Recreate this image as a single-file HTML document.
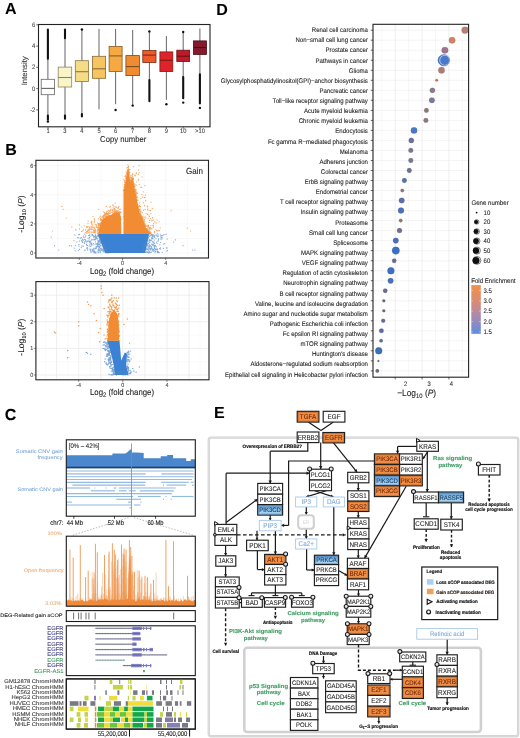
<!DOCTYPE html>
<html><head><meta charset="utf-8"><title>Figure</title>
<style>html,body{margin:0;padding:0;background:#fff;} svg{display:block;} text{text-rendering:geometricPrecision;}</style></head>
<body><svg width="520" height="738" viewBox="0 0 520 738" font-family="Liberation Sans, Arial, sans-serif">
<rect width="520" height="738" fill="#fff"/>
<text x="5.0" y="13.8" font-size="16" font-weight="bold" font-family="Liberation Sans, Arial, sans-serif" stroke="#000" stroke-width="0.06">A</text>
<rect x="38.5" y="24.5" width="171.5" height="102.3" fill="none" stroke="#222" stroke-width="1.1"/>
<line x1="36.2" y1="24.8" x2="38.5" y2="24.8" stroke="#333" stroke-width="0.7"/>
<text x="0" y="0" font-size="5.8" fill="#444" text-anchor="end" font-family="Liberation Sans, Arial, sans-serif" stroke="#444" stroke-width="0.08" transform="translate(35.30 26.90) scale(1 1.1)">6</text>
<line x1="36.2" y1="46.1" x2="38.5" y2="46.1" stroke="#333" stroke-width="0.7"/>
<text x="0" y="0" font-size="5.8" fill="#444" text-anchor="end" font-family="Liberation Sans, Arial, sans-serif" stroke="#444" stroke-width="0.08" transform="translate(35.30 48.20) scale(1 1.1)">4</text>
<line x1="36.2" y1="67.3" x2="38.5" y2="67.3" stroke="#333" stroke-width="0.7"/>
<text x="0" y="0" font-size="5.8" fill="#444" text-anchor="end" font-family="Liberation Sans, Arial, sans-serif" stroke="#444" stroke-width="0.08" transform="translate(35.30 69.40) scale(1 1.1)">2</text>
<line x1="36.2" y1="88.6" x2="38.5" y2="88.6" stroke="#333" stroke-width="0.7"/>
<text x="0" y="0" font-size="5.8" fill="#444" text-anchor="end" font-family="Liberation Sans, Arial, sans-serif" stroke="#444" stroke-width="0.08" transform="translate(35.30 90.70) scale(1 1.1)">0</text>
<line x1="36.2" y1="109.9" x2="38.5" y2="109.9" stroke="#333" stroke-width="0.7"/>
<text x="0" y="0" font-size="5.8" fill="#444" text-anchor="end" font-family="Liberation Sans, Arial, sans-serif" stroke="#444" stroke-width="0.08" transform="translate(35.30 112.00) scale(1 1.1)">-2</text>
<text transform="translate(27.0,70.8) rotate(-90)" font-size="7.8" fill="#333" text-anchor="middle" font-family="Liberation Sans, Arial, sans-serif" stroke="#333" stroke-width="0.08">Intensity</text>
<line x1="48.0" y1="126.8" x2="48.0" y2="128.8" stroke="#333" stroke-width="0.7"/>
<text x="0" y="0" font-size="5.8" fill="#444" text-anchor="middle" font-family="Liberation Sans, Arial, sans-serif" stroke="#444" stroke-width="0.08" transform="translate(48.00 133.10) scale(1 1.1)">1</text>
<line x1="64.9" y1="126.8" x2="64.9" y2="128.8" stroke="#333" stroke-width="0.7"/>
<text x="0" y="0" font-size="5.8" fill="#444" text-anchor="middle" font-family="Liberation Sans, Arial, sans-serif" stroke="#444" stroke-width="0.08" transform="translate(64.90 133.10) scale(1 1.1)">3</text>
<line x1="81.9" y1="126.8" x2="81.9" y2="128.8" stroke="#333" stroke-width="0.7"/>
<text x="0" y="0" font-size="5.8" fill="#444" text-anchor="middle" font-family="Liberation Sans, Arial, sans-serif" stroke="#444" stroke-width="0.08" transform="translate(81.90 133.10) scale(1 1.1)">4</text>
<line x1="99.0" y1="126.8" x2="99.0" y2="128.8" stroke="#333" stroke-width="0.7"/>
<text x="0" y="0" font-size="5.8" fill="#444" text-anchor="middle" font-family="Liberation Sans, Arial, sans-serif" stroke="#444" stroke-width="0.08" transform="translate(99.00 133.10) scale(1 1.1)">5</text>
<line x1="115.6" y1="126.8" x2="115.6" y2="128.8" stroke="#333" stroke-width="0.7"/>
<text x="0" y="0" font-size="5.8" fill="#444" text-anchor="middle" font-family="Liberation Sans, Arial, sans-serif" stroke="#444" stroke-width="0.08" transform="translate(115.60 133.10) scale(1 1.1)">6</text>
<line x1="132.6" y1="126.8" x2="132.6" y2="128.8" stroke="#333" stroke-width="0.7"/>
<text x="0" y="0" font-size="5.8" fill="#444" text-anchor="middle" font-family="Liberation Sans, Arial, sans-serif" stroke="#444" stroke-width="0.08" transform="translate(132.60 133.10) scale(1 1.1)">7</text>
<line x1="149.4" y1="126.8" x2="149.4" y2="128.8" stroke="#333" stroke-width="0.7"/>
<text x="0" y="0" font-size="5.8" fill="#444" text-anchor="middle" font-family="Liberation Sans, Arial, sans-serif" stroke="#444" stroke-width="0.08" transform="translate(149.40 133.10) scale(1 1.1)">8</text>
<line x1="166.3" y1="126.8" x2="166.3" y2="128.8" stroke="#333" stroke-width="0.7"/>
<text x="0" y="0" font-size="5.8" fill="#444" text-anchor="middle" font-family="Liberation Sans, Arial, sans-serif" stroke="#444" stroke-width="0.08" transform="translate(166.30 133.10) scale(1 1.1)">9</text>
<line x1="183.2" y1="126.8" x2="183.2" y2="128.8" stroke="#333" stroke-width="0.7"/>
<text x="0" y="0" font-size="5.8" fill="#444" text-anchor="middle" font-family="Liberation Sans, Arial, sans-serif" stroke="#444" stroke-width="0.08" transform="translate(183.20 133.10) scale(1 1.1)">10</text>
<line x1="200.0" y1="126.8" x2="200.0" y2="128.8" stroke="#333" stroke-width="0.7"/>
<text x="0" y="0" font-size="5.8" fill="#444" text-anchor="middle" font-family="Liberation Sans, Arial, sans-serif" stroke="#444" stroke-width="0.08" transform="translate(200.00 133.10) scale(1 1.1)">&gt;10</text>
<text x="0" y="0" font-size="7.7" fill="#222" text-anchor="middle" font-family="Liberation Sans, Arial, sans-serif" stroke="#222" stroke-width="0.08" transform="translate(123.20 141.90) scale(1 1.1)">Copy number</text>
<line x1="47.9" y1="58.8" x2="47.9" y2="115.2" stroke="#4a4a4a" stroke-width="0.85"/>
<rect x="41.2" y="79.3" width="13.3" height="15.4" fill="#ffffff" stroke="#666" stroke-width="0.8"/>
<line x1="41.2" y1="88.4" x2="54.5" y2="88.4" stroke="#666" stroke-width="1.1"/>
<line x1="47.9" y1="29.5" x2="47.9" y2="58.8" stroke="#111" stroke-width="2.1" stroke-linecap="round"/>
<line x1="47.9" y1="115.5" x2="47.9" y2="119.5" stroke="#111" stroke-width="2.1" stroke-linecap="round"/>
<circle cx="47.9" cy="121.5" r="1.2" fill="#111"/>
<line x1="65.0" y1="38.3" x2="65.0" y2="115.0" stroke="#4a4a4a" stroke-width="0.85"/>
<rect x="58.2" y="67.1" width="13.5" height="19.9" fill="#f9f5c9" stroke="#8a8660" stroke-width="0.8"/>
<line x1="58.2" y1="77.5" x2="71.7" y2="77.5" stroke="#8a8660" stroke-width="1.1"/>
<line x1="65.0" y1="29.5" x2="65.0" y2="38.3" stroke="#111" stroke-width="2.1" stroke-linecap="round"/>
<line x1="65.0" y1="115.5" x2="65.0" y2="118.8" stroke="#111" stroke-width="2.1" stroke-linecap="round"/>
<line x1="81.9" y1="30.0" x2="81.9" y2="113.7" stroke="#4a4a4a" stroke-width="0.85"/>
<rect x="75.3" y="60.7" width="13.2" height="20.8" fill="#f7dc88" stroke="#8a7a40" stroke-width="0.8"/>
<line x1="75.3" y1="71.7" x2="88.5" y2="71.7" stroke="#8a7a40" stroke-width="1.1"/>
<line x1="81.9" y1="114.0" x2="81.9" y2="116.5" stroke="#111" stroke-width="2.1" stroke-linecap="round"/>
<circle cx="81.9" cy="29.5" r="1.2" fill="#111"/>
<line x1="99.0" y1="29.0" x2="99.0" y2="109.3" stroke="#4a4a4a" stroke-width="0.85"/>
<rect x="92.5" y="56.3" width="13.1" height="22.0" fill="#f6c561" stroke="#8a6a30" stroke-width="0.8"/>
<line x1="92.5" y1="68.8" x2="105.6" y2="68.8" stroke="#8a6a30" stroke-width="1.1"/>
<line x1="115.6" y1="29.0" x2="115.6" y2="104.2" stroke="#4a4a4a" stroke-width="0.85"/>
<rect x="109.1" y="46.4" width="13.0" height="25.1" fill="#f5a942" stroke="#8a5a20" stroke-width="0.8"/>
<line x1="109.1" y1="55.9" x2="122.1" y2="55.9" stroke="#8a5a20" stroke-width="1.1"/>
<circle cx="115.6" cy="110.0" r="1.2" fill="#111"/>
<line x1="132.7" y1="30.0" x2="132.7" y2="105.0" stroke="#4a4a4a" stroke-width="0.85"/>
<rect x="125.9" y="55.6" width="13.5" height="20.0" fill="#f18b32" stroke="#7a4a1a" stroke-width="0.8"/>
<line x1="125.9" y1="66.6" x2="139.4" y2="66.6" stroke="#7a4a1a" stroke-width="1.1"/>
<circle cx="132.7" cy="105.6" r="1.2" fill="#111"/>
<line x1="149.4" y1="31.4" x2="149.4" y2="80.0" stroke="#4a4a4a" stroke-width="0.85"/>
<rect x="142.8" y="50.5" width="13.2" height="12.0" fill="#f0592a" stroke="#7a2a10" stroke-width="0.8"/>
<line x1="142.8" y1="55.1" x2="156.0" y2="55.1" stroke="#7a2a10" stroke-width="1.1"/>
<line x1="149.4" y1="80.0" x2="149.4" y2="101.3" stroke="#111" stroke-width="2.1" stroke-linecap="round"/>
<circle cx="149.4" cy="31.4" r="1.2" fill="#111"/>
<line x1="166.4" y1="36.1" x2="166.4" y2="99.8" stroke="#4a4a4a" stroke-width="0.85"/>
<rect x="159.9" y="51.9" width="12.9" height="19.6" fill="#e0232b" stroke="#7a1a10" stroke-width="0.8"/>
<line x1="159.9" y1="60.3" x2="172.8" y2="60.3" stroke="#7a1a10" stroke-width="1.1"/>
<circle cx="166.4" cy="104.2" r="1.2" fill="#111"/>
<line x1="183.2" y1="32.0" x2="183.2" y2="77.0" stroke="#4a4a4a" stroke-width="0.85"/>
<rect x="176.8" y="50.2" width="12.8" height="11.3" fill="#bf1a2c" stroke="#6a1010" stroke-width="0.8"/>
<line x1="176.8" y1="56.2" x2="189.6" y2="56.2" stroke="#6a1010" stroke-width="1.1"/>
<line x1="183.2" y1="77.0" x2="183.2" y2="98.2" stroke="#111" stroke-width="2.1" stroke-linecap="round"/>
<circle cx="183.2" cy="32.0" r="1.2" fill="#111"/>
<circle cx="183.2" cy="102.6" r="1.2" fill="#111"/>
<line x1="199.9" y1="28.5" x2="199.9" y2="74.4" stroke="#4a4a4a" stroke-width="0.85"/>
<rect x="193.5" y="40.9" width="12.9" height="13.5" fill="#861a2c" stroke="#4a0a10" stroke-width="0.8"/>
<line x1="193.5" y1="47.5" x2="206.4" y2="47.5" stroke="#4a0a10" stroke-width="1.1"/>
<line x1="199.9" y1="74.4" x2="199.9" y2="103.5" stroke="#111" stroke-width="2.1" stroke-linecap="round"/>
<circle cx="199.9" cy="107.9" r="1.2" fill="#111"/>
<text x="5.2" y="154.6" font-size="16" font-weight="bold" font-family="Liberation Sans, Arial, sans-serif" stroke="#000" stroke-width="0.06">B</text>
<rect x="35.9" y="160.3" width="172.6" height="97.69999999999999" fill="#fff"/>
<line x1="57.7" y1="160.3" x2="57.7" y2="258.0" stroke="#f1f1f1" stroke-width="0.5"/>
<line x1="79.3" y1="160.3" x2="79.3" y2="258.0" stroke="#f1f1f1" stroke-width="0.5"/>
<line x1="100.9" y1="160.3" x2="100.9" y2="258.0" stroke="#f1f1f1" stroke-width="0.5"/>
<line x1="122.5" y1="160.3" x2="122.5" y2="258.0" stroke="#f1f1f1" stroke-width="0.5"/>
<line x1="144.1" y1="160.3" x2="144.1" y2="258.0" stroke="#f1f1f1" stroke-width="0.5"/>
<line x1="165.7" y1="160.3" x2="165.7" y2="258.0" stroke="#f1f1f1" stroke-width="0.5"/>
<line x1="187.3" y1="160.3" x2="187.3" y2="258.0" stroke="#f1f1f1" stroke-width="0.5"/>
<line x1="35.9" y1="253.0" x2="208.5" y2="253.0" stroke="#f1f1f1" stroke-width="0.5"/>
<line x1="35.9" y1="238.4" x2="208.5" y2="238.4" stroke="#f1f1f1" stroke-width="0.5"/>
<line x1="35.9" y1="223.9" x2="208.5" y2="223.9" stroke="#f1f1f1" stroke-width="0.5"/>
<line x1="35.9" y1="209.3" x2="208.5" y2="209.3" stroke="#f1f1f1" stroke-width="0.5"/>
<line x1="35.9" y1="194.7" x2="208.5" y2="194.7" stroke="#f1f1f1" stroke-width="0.5"/>
<line x1="35.9" y1="180.2" x2="208.5" y2="180.2" stroke="#f1f1f1" stroke-width="0.5"/>
<line x1="35.9" y1="165.6" x2="208.5" y2="165.6" stroke="#f1f1f1" stroke-width="0.5"/>
<path d="M97.7 234.1 L149.0 234.1 L145.2 253.0 L105.2 253.0 Z" fill="#3c82d4"/>
<path d="M96.0 246.9h0M93.9 251.6h0M101.7 242.8h0M101.6 243.4h0M104.0 252.3h0M105.9 251.3h0M102.4 245.0h0M101.4 248.8h0M89.0 241.1h0M100.4 245.5h0M78.6 234.5h0M99.5 247.5h0M99.8 250.3h0M95.4 237.5h0M92.3 249.6h0M97.3 245.9h0M100.5 242.6h0M105.3 249.1h0M94.0 240.1h0M99.5 241.9h0M98.5 244.4h0M83.1 239.8h0M93.7 248.4h0M95.3 236.4h0M95.1 239.2h0M75.2 250.8h0M105.0 245.1h0M97.9 243.7h0M98.2 252.3h0M86.5 242.1h0M94.7 236.4h0M87.1 241.7h0M82.2 242.0h0M95.1 235.1h0M102.7 244.0h0M99.6 239.7h0M81.5 240.7h0M105.4 247.6h0M104.3 245.7h0M102.8 244.3h0M104.1 249.8h0M99.9 238.4h0M107.3 250.6h0M90.0 236.5h0M93.6 251.5h0M97.1 236.3h0M96.0 237.5h0M98.1 245.1h0M83.4 246.2h0M87.4 250.1h0M106.1 249.7h0M96.2 243.8h0M103.9 241.8h0M104.2 245.1h0M78.8 246.0h0M91.3 239.9h0M91.4 243.2h0M96.0 252.0h0M97.1 236.0h0M78.7 237.9h0M101.0 245.6h0M100.4 241.0h0M100.6 251.8h0M103.9 249.9h0M105.6 246.6h0M107.2 250.1h0M105.9 251.1h0M99.8 236.4h0M98.4 241.4h0M98.6 246.4h0M89.2 246.1h0M84.8 234.2h0M99.9 244.2h0M107.2 251.1h0M103.8 246.5h0M85.0 249.9h0M94.4 252.6h0M102.9 250.2h0M90.0 242.7h0M98.6 234.5h0M98.9 236.6h0M97.0 246.1h0M105.2 249.8h0M88.1 238.2h0M102.3 246.8h0M79.6 234.3h0M94.4 236.9h0M82.3 239.0h0M95.7 248.7h0M107.0 252.5h0M106.6 252.5h0M94.2 239.9h0M74.8 234.9h0M91.9 234.3h0M95.7 234.9h0M100.4 248.7h0M102.3 249.3h0M85.7 235.9h0M85.0 237.1h0M100.2 237.9h0M93.9 251.4h0M80.5 238.2h0M95.4 238.8h0M101.5 238.1h0M96.0 246.7h0M75.4 245.5h0M87.4 245.4h0M100.9 249.8h0M92.5 250.6h0M81.4 237.7h0M92.0 250.2h0M74.0 240.6h0M99.8 246.4h0M106.5 252.7h0M92.6 234.6h0M89.7 235.3h0M89.8 244.8h0M90.8 249.0h0M104.2 248.2h0M95.5 241.9h0M101.0 248.1h0M98.5 235.8h0M90.6 246.3h0M97.5 235.9h0M93.1 245.0h0M97.5 242.9h0M91.8 243.1h0M105.6 249.5h0M106.2 252.9h0M97.9 244.0h0M93.1 239.3h0M100.9 243.2h0M103.1 242.5h0M98.7 242.4h0M103.1 248.3h0M84.5 243.4h0M102.6 242.4h0M78.9 244.6h0M89.6 241.4h0M102.7 239.9h0M91.8 244.4h0M98.5 235.2h0M82.9 239.8h0M86.6 248.1h0M82.9 242.4h0M99.5 250.4h0M103.2 250.7h0M105.0 248.4h0M97.8 251.6h0M83.5 236.0h0M103.6 250.1h0M90.3 250.3h0M93.6 236.3h0M99.6 235.0h0M69.6 245.5h0M99.3 237.2h0M94.2 249.9h0M99.9 246.6h0M99.0 249.3h0M91.0 252.6h0M102.2 242.5h0M105.1 246.7h0M99.4 241.2h0M100.7 234.3h0M97.0 238.1h0M105.5 248.0h0M106.5 252.3h0M98.2 250.5h0M86.6 245.0h0M94.9 248.1h0M93.8 250.2h0M95.7 239.7h0M90.8 251.3h0M98.8 244.9h0M92.3 251.6h0M96.0 237.8h0M105.1 251.4h0M98.5 236.7h0M97.0 244.4h0M88.7 235.4h0M96.4 247.9h0M96.1 248.5h0M105.6 250.9h0M103.7 249.2h0M99.3 247.1h0M87.4 247.5h0M99.9 243.5h0M98.5 252.7h0M87.3 248.3h0M102.4 242.6h0M79.6 249.4h0M103.3 251.0h0M89.6 237.5h0M96.4 237.2h0M87.4 245.6h0M100.3 234.4h0M96.7 246.5h0M87.5 241.0h0M103.1 245.3h0M104.2 250.5h0M107.4 251.7h0M98.1 249.9h0M94.8 251.4h0M83.2 240.3h0M105.8 247.7h0M95.1 244.3h0M98.5 250.0h0M98.1 234.8h0M92.6 234.6h0M98.6 234.7h0M105.8 247.1h0M105.1 245.8h0M96.9 244.0h0M104.5 243.4h0M108.0 252.9h0M100.3 245.4h0M98.1 252.2h0M105.3 248.6h0M84.6 241.9h0M99.9 240.5h0M94.5 239.4h0M97.9 246.8h0M89.8 234.3h0M88.2 240.8h0M95.3 252.2h0M82.2 241.1h0M100.4 239.1h0M98.5 243.1h0M93.7 243.4h0M83.7 237.3h0M90.0 241.9h0M92.0 239.9h0M100.5 248.6h0M104.5 246.2h0M99.9 251.0h0M90.7 241.1h0M97.9 241.1h0M95.9 252.9h0M102.3 237.9h0M90.4 242.9h0M85.7 240.5h0M98.7 248.2h0M106.0 251.6h0M87.8 249.1h0M89.2 239.0h0M103.5 245.8h0M96.6 243.9h0M85.3 241.3h0M97.7 240.8h0M103.4 248.2h0M97.7 238.9h0M93.9 252.8h0M105.9 251.9h0M85.6 239.9h0M99.7 240.2h0M91.1 244.2h0M86.4 244.2h0M89.9 249.2h0M99.0 234.5h0M104.1 244.3h0M89.5 237.5h0M103.8 247.9h0M99.2 249.0h0M101.3 242.0h0M78.4 250.3h0M103.0 250.5h0M77.5 237.5h0M101.8 239.7h0M95.7 248.6h0M100.1 252.5h0M95.4 252.9h0M105.5 247.3h0M101.6 250.3h0M93.5 237.1h0M108.3 253.0h0M84.8 250.7h0M95.6 235.5h0M81.4 247.5h0M71.6 245.9h0M76.9 241.8h0M97.2 246.2h0M103.9 252.1h0M102.7 251.1h0M93.0 235.3h0M105.2 248.3h0M92.9 249.4h0M81.9 245.9h0M95.6 237.6h0M79.5 241.1h0M89.7 242.6h0M84.7 239.4h0M99.2 244.5h0M96.8 238.7h0M100.4 252.1h0M92.1 235.4h0M96.2 246.5h0M104.0 247.4h0M74.1 248.1h0M98.7 240.6h0M91.1 245.5h0M146.1 249.8h0M151.0 235.8h0M147.8 243.6h0M166.5 234.1h0M147.7 244.5h0M147.2 251.3h0M149.3 246.5h0M146.8 248.1h0M156.4 242.2h0M154.0 245.2h0M152.8 245.2h0M144.6 246.6h0M146.6 251.8h0M167.5 250.6h0M157.1 243.5h0M156.8 248.9h0M143.1 247.9h0M153.4 244.6h0M157.0 234.9h0M158.1 252.6h0M147.3 252.4h0M163.7 244.0h0M153.8 241.9h0M145.5 235.4h0M161.1 237.4h0M163.4 248.3h0M149.0 250.9h0M154.3 240.1h0M148.0 235.2h0M158.6 238.5h0M146.3 244.3h0M145.8 238.2h0M155.1 248.6h0M149.8 247.2h0M142.6 250.6h0M158.4 239.8h0M153.1 250.9h0M149.2 242.0h0M145.6 245.6h0M155.0 252.8h0M166.9 247.3h0M150.4 240.8h0M152.3 236.3h0M144.0 248.3h0M147.9 234.8h0M150.0 252.6h0M148.5 243.6h0M151.9 248.1h0M150.7 240.4h0M145.2 252.4h0M156.1 246.6h0M149.7 249.2h0M145.7 237.9h0M154.2 249.1h0M152.4 234.6h0M159.5 248.6h0M143.3 248.8h0M153.6 235.0h0M146.5 243.6h0M149.9 245.1h0M149.6 240.4h0M145.2 245.5h0M148.1 249.0h0M143.0 252.0h0M158.4 251.9h0M158.2 236.3h0M167.2 239.1h0M143.5 246.8h0M157.5 249.5h0M148.4 252.4h0M151.3 240.4h0M149.7 246.7h0M150.5 249.8h0M143.4 246.3h0M163.4 234.9h0M160.3 249.1h0M151.1 246.2h0M159.8 244.8h0M151.4 252.1h0M147.0 235.6h0M156.3 249.3h0M157.7 252.4h0M149.8 245.2h0M157.4 252.2h0M162.3 252.3h0M151.3 248.1h0M151.9 238.8h0M148.2 247.8h0M151.2 234.9h0M149.7 239.4h0M143.3 247.0h0M145.6 238.7h0M160.9 235.6h0M159.4 252.5h0M166.9 248.6h0M149.3 234.9h0M143.5 245.7h0M154.1 243.7h0M152.6 235.4h0M160.7 239.0h0M146.9 237.4h0M156.3 246.8h0M154.1 246.9h0M155.2 251.5h0M142.8 249.3h0M149.5 251.8h0M150.2 252.4h0M148.4 234.4h0M152.9 236.3h0M142.8 251.4h0M157.6 251.2h0M143.8 244.5h0M154.5 248.6h0M151.2 240.2h0M153.0 238.8h0M154.2 250.7h0M148.5 237.1h0M155.5 245.9h0M147.0 239.0h0M149.8 248.4h0M152.1 250.1h0M151.7 246.8h0M155.0 245.5h0M143.4 248.6h0M162.0 237.7h0M166.8 251.1h0M151.6 244.0h0M162.3 235.7h0M143.4 252.2h0M147.4 249.4h0M165.0 234.6h0M154.5 245.9h0M152.4 236.6h0M147.3 238.3h0M155.8 235.1h0M152.4 241.3h0M146.4 248.9h0M146.7 249.1h0M154.4 248.2h0M151.0 249.1h0M148.8 252.8h0M155.6 249.5h0M148.1 247.1h0M160.6 242.6h0M150.0 251.8h0M149.8 242.6h0M149.2 240.9h0M147.7 239.8h0M145.2 245.2h0M153.7 234.9h0M151.5 247.1h0M147.2 245.1h0M154.4 236.6h0M142.9 249.3h0M145.0 239.2h0M146.4 235.9h0M147.8 245.0h0M154.2 236.3h0M144.6 244.3h0M145.5 242.6h0M147.9 240.9h0M146.5 241.2h0M148.8 246.0h0M143.2 247.6h0M148.1 243.1h0M145.9 243.7h0M151.3 237.8h0M143.8 250.6h0M156.5 235.1h0M143.8 252.0h0M161.5 235.5h0M157.9 241.3h0M154.2 237.4h0M157.2 248.8h0M153.9 245.3h0M157.7 249.5h0M152.3 248.9h0M150.3 245.7h0M142.7 250.7h0M160.9 236.0h0M157.2 252.2h0M148.3 252.3h0M154.8 237.1h0M152.9 242.6h0M147.8 241.1h0M153.7 242.0h0M149.3 244.9h0M152.5 244.7h0M150.3 252.6h0M150.5 248.5h0M146.8 238.5h0M153.2 249.6h0M147.7 244.0h0M146.7 244.8h0M153.1 251.3h0M146.2 252.2h0M158.1 240.9h0M152.7 238.3h0M154.7 243.3h0M147.2 245.8h0M158.1 235.0h0M160.2 234.1h0M147.2 239.1h0M151.5 234.4h0M164.6 243.7h0M148.4 249.9h0M148.2 238.1h0M144.8 246.4h0M156.0 238.7h0M160.4 247.8h0M152.1 237.6h0M154.4 235.6h0M143.7 249.1h0M154.7 247.0h0M144.5 252.3h0M150.7 235.3h0M149.2 240.1h0M148.5 238.1h0M155.9 250.8h0M146.0 246.2h0M157.3 236.5h0M149.6 236.3h0M156.0 251.0h0M144.0 245.5h0M147.7 237.9h0M173.7 242.1h0M144.3 246.2h0M153.1 249.7h0M161.9 238.9h0M148.3 248.2h0M192.7 250.1h0M194.9 250.1h0M183.0 245.7h0M175.4 239.9h0M54.5 245.7h0M51.2 237.0h0M58.8 250.1h0" stroke="#4d86c8" stroke-width="1.25" stroke-linecap="round" fill="none" opacity="0.7"/>
<path d="M98.2 234.1 L99.8 225.3 L102.0 220.2 L106.3 216.6 L111.7 214.4 L116.0 212.2 L119.3 212.9 L121.0 217.3 L121.4 234.1 Z" fill="#f28c33"/>
<path d="M123.4 234.1 L123.5 191.8 L125.4 181.6 L127.0 172.9 L128.3 166.3 L129.2 174.3 L130.5 181.6 L133.0 177.2 L134.5 187.4 L137.0 200.5 L140.0 213.7 L143.0 219.5 L146.0 228.2 L150.0 232.6 L151.1 234.1 Z" fill="#f28c33"/>
<path d="M113.0 209.4h0M113.6 214.3h0M105.5 217.6h0M101.7 222.4h0M112.5 210.7h0M119.0 212.2h0M101.3 222.5h0M98.7 226.4h0M98.3 233.9h0M106.5 216.3h0M103.4 215.4h0M102.9 217.9h0M112.7 213.0h0M119.9 215.8h0M103.9 218.9h0M113.0 213.6h0M118.4 213.3h0M104.3 215.3h0M98.5 230.6h0M106.3 213.6h0M113.2 205.4h0M115.2 210.5h0M104.0 218.9h0M110.5 215.6h0M107.6 217.4h0M116.3 212.2h0M98.5 224.1h0M101.5 219.5h0M102.8 216.9h0M113.1 211.9h0M117.1 212.2h0M105.2 215.6h0M99.3 223.6h0M114.8 209.4h0M98.3 230.7h0M109.0 210.9h0M115.4 211.0h0M100.6 223.9h0M103.6 216.5h0M115.6 212.9h0M114.3 210.6h0M104.4 214.0h0M111.1 209.0h0M110.3 213.4h0M104.4 212.6h0M103.2 211.8h0M118.6 210.9h0M103.7 219.9h0M115.5 207.1h0M105.8 216.0h0M118.6 212.7h0M119.3 211.6h0M112.8 213.0h0M120.9 212.6h0M109.1 213.3h0M118.1 208.4h0M108.4 216.3h0M105.3 213.2h0M103.1 219.4h0M119.3 213.4h0M101.6 220.6h0M119.8 215.3h0M106.2 217.4h0M99.2 229.5h0M114.3 210.0h0M115.3 209.0h0M99.7 223.8h0M117.2 211.7h0M117.2 212.7h0M118.4 213.2h0M119.4 212.9h0M103.0 220.1h0M100.8 216.2h0M117.1 212.1h0M112.9 212.4h0M104.9 213.7h0M100.5 219.1h0M103.0 216.6h0M105.6 217.8h0M104.2 219.4h0M104.8 218.4h0M105.6 214.5h0M120.6 209.2h0M112.6 215.2h0M98.9 227.6h0M116.1 211.3h0M106.3 216.5h0M103.2 215.4h0M118.2 207.3h0M102.2 217.2h0M98.2 233.2h0M120.9 211.5h0M98.3 229.9h0M116.7 213.5h0M102.5 217.2h0M117.5 213.9h0M104.3 216.4h0M103.2 219.4h0M114.4 212.4h0M113.0 215.2h0M100.1 224.6h0M116.5 207.2h0M112.8 212.6h0M107.4 214.1h0M118.9 206.5h0M98.8 227.6h0M103.0 220.0h0M109.8 207.2h0M107.0 215.4h0M108.9 214.9h0M110.5 216.1h0M113.2 207.8h0M106.3 216.9h0M117.8 211.8h0M113.6 214.8h0M108.4 214.5h0M116.2 211.7h0M108.9 215.9h0M118.8 214.1h0M105.2 216.1h0M114.5 213.0h0M101.8 219.9h0M103.9 217.6h0M101.9 217.1h0M105.8 214.0h0M115.1 203.1h0M100.6 223.1h0M107.1 217.2h0M121.0 219.0h0M108.3 210.4h0M102.8 219.7h0M103.0 219.2h0M107.2 213.3h0M116.6 212.9h0M114.3 208.3h0M109.0 216.9h0M101.5 219.3h0M115.4 211.3h0M119.3 209.3h0M115.6 211.4h0M108.0 216.4h0M118.6 207.3h0M116.2 211.1h0M114.0 206.6h0M113.1 211.5h0M112.8 214.2h0M100.5 218.6h0M114.8 210.6h0M112.8 215.3h0M108.8 212.4h0M112.6 209.9h0M119.8 212.2h0M102.5 217.0h0M107.2 211.4h0M109.6 215.5h0M110.8 216.0h0M101.9 219.7h0M110.3 206.3h0M100.5 220.2h0M114.9 211.8h0M110.1 211.2h0M110.3 210.1h0M107.7 214.6h0M114.1 213.7h0M107.3 217.4h0M121.1 219.3h0M106.5 214.7h0M107.5 216.3h0M98.5 229.9h0M114.4 212.2h0M106.4 217.7h0M115.4 210.9h0M120.0 213.3h0M116.8 213.3h0M107.3 217.1h0M116.2 211.5h0M117.0 210.6h0M111.3 212.4h0M103.4 216.5h0M113.0 214.3h0M117.2 211.9h0M105.0 214.6h0M110.9 210.3h0M106.4 212.1h0M118.0 213.6h0M104.1 215.7h0M108.1 217.2h0M115.0 213.9h0M104.7 219.2h0M109.3 213.1h0M108.1 213.1h0M106.6 213.0h0M119.8 214.8h0M117.4 212.8h0M119.2 213.9h0M117.5 211.6h0M112.9 214.6h0M120.3 217.0h0M113.4 215.0h0M101.5 220.8h0M129.8 178.8h0M127.6 167.5h0M148.5 231.6h0M148.1 229.4h0M140.2 214.3h0M148.2 225.6h0M145.2 225.8h0M142.6 217.7h0M138.1 206.6h0M147.9 227.0h0M138.8 209.5h0M127.2 170.2h0M137.0 197.8h0M127.4 170.9h0M137.0 196.7h0M147.3 231.0h0M123.5 190.2h0M139.0 206.6h0M141.8 216.4h0M135.0 188.0h0M150.0 228.5h0M141.0 214.3h0M124.2 184.6h0M149.2 228.9h0M132.5 174.3h0M136.8 200.6h0M148.3 225.3h0M140.7 215.0h0M132.8 176.4h0M136.5 196.5h0M138.0 205.9h0M135.4 191.0h0M135.1 184.3h0M131.5 178.6h0M146.3 225.8h0M130.9 179.4h0M137.4 197.7h0M145.3 226.7h0M132.5 177.9h0M139.6 210.2h0M141.0 216.8h0M143.4 220.9h0M147.9 230.4h0M131.7 180.5h0M123.5 189.3h0M140.3 206.5h0M141.6 215.9h0M140.3 206.5h0M140.5 211.3h0M139.9 209.9h0M142.3 218.0h0M136.1 191.0h0M144.5 223.1h0M124.4 186.8h0M144.9 220.8h0M133.6 179.6h0M146.2 228.6h0M130.5 177.5h0M131.7 177.5h0M135.3 191.5h0M141.2 216.1h0M139.1 210.7h0M124.5 182.2h0M139.3 206.8h0M148.9 232.1h0M134.1 186.1h0M139.8 202.9h0M136.6 195.1h0M134.8 185.6h0M129.3 172.4h0M127.6 171.2h0M142.3 219.6h0M126.7 174.1h0M147.5 230.9h0M126.9 167.9h0M130.1 180.0h0M143.7 222.4h0M144.8 224.9h0M143.2 217.0h0M125.7 175.9h0M140.8 215.5h0M149.2 228.5h0M130.4 175.9h0M123.7 190.6h0M123.8 187.0h0M125.6 175.7h0M132.0 180.1h0M147.3 228.4h0M136.9 197.5h0M139.3 210.7h0M135.5 193.4h0M145.5 225.9h0M133.4 178.1h0M135.0 186.5h0M134.1 183.7h0M145.1 216.8h0M139.1 210.8h0M150.4 233.0h0M142.9 218.8h0M140.2 212.0h0M150.5 231.8h0M131.9 175.4h0M135.3 189.7h0M142.4 216.9h0M140.1 209.0h0M131.2 177.0h0M123.4 216.8h0M139.6 209.0h0M146.0 228.6h0M146.5 229.3h0M145.9 225.4h0M131.0 178.0h0M147.0 228.4h0M148.7 226.4h0M133.0 174.0h0M145.5 225.3h0M128.9 173.3h0M129.9 169.4h0M140.2 213.4h0M129.1 170.5h0M130.4 182.7h0M136.1 189.8h0M125.8 178.4h0M129.8 172.3h0M139.5 205.5h0M137.8 200.3h0M136.6 197.6h0M128.7 169.7h0M128.4 166.9h0M139.0 207.0h0M134.5 186.7h0M124.6 187.1h0M151.0 234.0h0M140.9 215.4h0M145.2 224.0h0M132.9 173.9h0M137.8 204.4h0M150.9 235.0h0M147.4 225.5h0M130.6 182.3h0M145.0 217.2h0M144.7 220.9h0M146.1 226.5h0M124.4 187.6h0M128.9 172.7h0M124.8 184.7h0M138.8 206.8h0M149.7 230.1h0M148.6 227.1h0M134.4 185.9h0M126.7 172.9h0M139.0 210.1h0M141.1 211.1h0M134.3 185.7h0M135.8 189.8h0M150.9 225.6h0M129.5 174.3h0M133.1 179.0h0M148.4 225.4h0M124.7 182.3h0M145.2 225.6h0M150.7 228.9h0M124.9 181.2h0M149.4 227.6h0M142.2 217.5h0M144.4 219.4h0M126.3 176.8h0M126.8 172.5h0M136.7 199.1h0M127.3 170.0h0M142.2 212.4h0M128.8 171.4h0M124.4 185.8h0M149.3 231.9h0M147.4 229.4h0M135.8 194.2h0M126.1 172.0h0M140.8 213.0h0M135.9 192.1h0M136.6 193.3h0M140.8 214.7h0M124.9 183.2h0M143.2 219.1h0M147.5 230.5h0M130.8 180.4h0M130.9 181.0h0M146.7 229.0h0M137.0 199.8h0M132.2 178.3h0M150.5 233.5h0M124.9 180.4h0M129.2 172.0h0M136.6 199.4h0M129.0 170.3h0M133.5 166.6h0M149.0 232.1h0M126.1 177.2h0M125.0 176.4h0M143.5 219.1h0M123.8 179.8h0M96.4 225.9h0M99.4 232.9h0M93.3 227.1h0M95.3 224.7h0M93.4 231.2h0M94.5 231.3h0M91.9 224.3h0M98.1 227.7h0M95.8 231.5h0M90.0 229.0h0M98.7 227.5h0M86.9 227.4h0M94.4 222.6h0M98.6 230.3h0M98.6 224.4h0M99.2 230.4h0M96.2 226.0h0M88.0 223.6h0M97.9 233.3h0M89.4 229.8h0M93.9 230.0h0M91.8 223.2h0M95.5 229.5h0M89.8 227.7h0M86.7 233.1h0M87.6 231.0h0M87.4 227.0h0M91.0 222.7h0M92.5 225.0h0M86.6 226.7h0M79.5 228.9h0M87.7 231.4h0M86.6 232.7h0M97.7 232.9h0M92.3 232.5h0M97.7 229.6h0M99.8 217.2h0M95.0 232.6h0M97.6 227.9h0M85.3 232.5h0M88.2 230.1h0M98.3 229.4h0M88.1 226.6h0M94.5 232.1h0M87.1 233.1h0M98.8 228.9h0M95.0 230.7h0M81.8 227.0h0M91.3 227.3h0M99.7 228.1h0M88.1 221.1h0M91.2 229.4h0M92.8 227.3h0M79.4 224.9h0M98.2 225.5h0M99.2 225.4h0M71.8 226.9h0M91.8 221.2h0M91.5 223.0h0M87.5 231.0h0M75.5 229.8h0M99.8 224.2h0M92.9 229.2h0M95.8 232.7h0M88.1 230.5h0M94.0 232.9h0M81.5 231.4h0M85.7 230.1h0M91.7 222.1h0M97.7 231.8h0M94.5 228.0h0M96.1 227.0h0M76.1 229.9h0M93.9 230.3h0M88.4 232.5h0M91.3 231.9h0M94.5 221.5h0M89.3 228.0h0M87.3 231.4h0M98.4 223.6h0M93.8 232.6h0M95.7 230.1h0M96.8 224.7h0M97.9 227.0h0M88.3 229.5h0M91.9 226.6h0M85.7 229.7h0M94.7 220.2h0M86.6 231.5h0M90.6 229.1h0M96.8 227.3h0M97.5 223.0h0M89.2 228.1h0M89.8 232.9h0M94.7 228.4h0M88.0 231.0h0M92.9 216.5h0M94.6 218.9h0M97.6 230.6h0M91.8 228.8h0M89.9 231.1h0M83.4 229.8h0M93.9 230.7h0M82.7 230.9h0M94.3 229.0h0M90.1 226.3h0M84.2 225.8h0M94.2 227.0h0M98.6 218.9h0M99.1 223.4h0M159.0 230.7h0M157.8 233.3h0M149.4 216.0h0M150.4 218.5h0M146.0 213.3h0M153.6 223.5h0M144.3 206.0h0M144.1 221.9h0M147.3 214.3h0M138.5 222.9h0M137.4 204.4h0M149.6 231.9h0M159.1 221.8h0M160.2 227.8h0M133.6 232.8h0M149.2 210.5h0M147.8 209.0h0M152.5 217.9h0M143.3 202.9h0M152.3 208.4h0M136.1 218.8h0M144.6 205.6h0M145.7 200.4h0M138.1 222.1h0M147.7 231.3h0M137.7 223.7h0M147.7 209.9h0M138.6 228.7h0M151.0 202.2h0M151.2 232.9h0M144.9 185.6h0M141.9 194.6h0M133.4 222.9h0M152.1 228.1h0M147.3 206.2h0M140.8 198.5h0M149.4 216.5h0M136.7 229.7h0M154.6 231.4h0M136.1 229.2h0M135.0 233.3h0M154.9 221.9h0M153.4 220.1h0M138.1 224.9h0M136.1 173.8h0M149.6 220.4h0M145.9 218.1h0M134.8 175.2h0M145.6 200.8h0M140.3 232.9h0M156.2 222.9h0M140.1 217.8h0M153.5 227.1h0M142.0 176.8h0M140.1 229.1h0M143.4 228.6h0M149.1 231.1h0M148.3 218.1h0M144.6 232.4h0M136.8 181.8h0M143.2 226.0h0M138.7 224.0h0M140.0 233.0h0M152.0 220.8h0M137.7 193.3h0M135.9 224.7h0M156.7 230.7h0M155.9 229.6h0M143.2 191.8h0M147.5 226.8h0M146.0 230.6h0M153.1 225.2h0M143.6 225.9h0M150.4 227.5h0M157.8 230.9h0M147.7 207.0h0M140.9 187.1h0M144.1 197.6h0M149.2 222.5h0M144.2 231.9h0M138.3 179.3h0M142.3 197.1h0M136.4 205.5h0M143.5 210.2h0M141.6 232.4h0M142.0 226.8h0M136.8 192.3h0M141.2 217.0h0M137.0 224.4h0M134.1 195.6h0M151.9 220.2h0M144.9 197.4h0M152.9 225.8h0M157.1 220.2h0M151.0 228.8h0M136.5 172.9h0M134.4 232.9h0M137.8 228.1h0M141.8 218.4h0M134.4 222.5h0M151.2 228.8h0M153.4 225.5h0M145.5 195.2h0M143.1 233.3h0M141.3 232.9h0M134.6 226.0h0M136.4 185.2h0M139.2 172.7h0M154.3 231.9h0M152.8 217.6h0M141.2 231.8h0M150.9 213.6h0M134.8 194.0h0M145.3 209.4h0M159.4 230.7h0M154.7 232.9h0M140.6 206.7h0M148.6 225.7h0M135.0 219.8h0M144.9 227.9h0M142.0 230.4h0M140.0 226.1h0M147.8 214.2h0M127.9 164.9h0M128.4 166.3h0M139.2 165.6h0M138.7 170.0h0M138.2 174.3h0M138.7 180.2h0M139.2 184.5h0M126.3 174.3h0M135.5 175.8h0M141.4 187.4h0M144.1 197.6h0M147.3 206.4h0M150.6 210.7h0M106.3 206.4h0M98.7 209.3h0M112.8 204.9h0M63.1 209.3h0M62.0 206.4h0M66.3 218.0h0M187.3 228.2h0M190.5 231.1h0M171.1 210.7h0M52.3 231.1h0" stroke="#f28c33" stroke-width="1.2" stroke-linecap="round" fill="none" opacity="0.8"/>
<rect x="35.9" y="160.3" width="172.6" height="97.69999999999999" fill="none" stroke="#222" stroke-width="1.1"/>
<line x1="33.9" y1="253.0" x2="35.9" y2="253.0" stroke="#333" stroke-width="0.6"/>
<text x="0" y="0" font-size="5.4" fill="#444" text-anchor="end" font-family="Liberation Sans, Arial, sans-serif" stroke="#444" stroke-width="0.08" transform="translate(33.30 254.90) scale(1 1.1)">0</text>
<line x1="33.9" y1="223.9" x2="35.9" y2="223.9" stroke="#333" stroke-width="0.6"/>
<text x="0" y="0" font-size="5.4" fill="#444" text-anchor="end" font-family="Liberation Sans, Arial, sans-serif" stroke="#444" stroke-width="0.08" transform="translate(33.30 225.80) scale(1 1.1)">2</text>
<line x1="33.9" y1="194.7" x2="35.9" y2="194.7" stroke="#333" stroke-width="0.6"/>
<text x="0" y="0" font-size="5.4" fill="#444" text-anchor="end" font-family="Liberation Sans, Arial, sans-serif" stroke="#444" stroke-width="0.08" transform="translate(33.30 196.60) scale(1 1.1)">4</text>
<line x1="33.9" y1="165.6" x2="35.9" y2="165.6" stroke="#333" stroke-width="0.6"/>
<text x="0" y="0" font-size="5.4" fill="#444" text-anchor="end" font-family="Liberation Sans, Arial, sans-serif" stroke="#444" stroke-width="0.08" transform="translate(33.30 167.50) scale(1 1.1)">6</text>
<line x1="79.3" y1="258.0" x2="79.3" y2="260.0" stroke="#333" stroke-width="0.6"/>
<text x="0" y="0" font-size="5.4" fill="#444" text-anchor="middle" font-family="Liberation Sans, Arial, sans-serif" stroke="#444" stroke-width="0.08" transform="translate(79.30 264.80) scale(1 1.1)">-4</text>
<line x1="122.5" y1="258.0" x2="122.5" y2="260.0" stroke="#333" stroke-width="0.6"/>
<text x="0" y="0" font-size="5.4" fill="#444" text-anchor="middle" font-family="Liberation Sans, Arial, sans-serif" stroke="#444" stroke-width="0.08" transform="translate(122.50 264.80) scale(1 1.1)">0</text>
<line x1="165.7" y1="258.0" x2="165.7" y2="260.0" stroke="#333" stroke-width="0.6"/>
<text x="0" y="0" font-size="5.4" fill="#444" text-anchor="middle" font-family="Liberation Sans, Arial, sans-serif" stroke="#444" stroke-width="0.08" transform="translate(165.70 264.80) scale(1 1.1)">4</text>
<text x="0" y="0" font-size="7.8" fill="#222" text-anchor="middle" font-family="Liberation Sans, Arial, sans-serif" stroke="#222" stroke-width="0.08" transform="translate(122.00 274.00) scale(1 1.1)">Log<tspan font-size="6" dy="2.2">2</tspan><tspan dy="-2.2"> (fold change)</tspan></text>
<text transform="translate(24.3,214) rotate(-90)" font-size="8.5" fill="#222" text-anchor="middle" font-family="Liberation Sans, Arial, sans-serif" stroke="#222" stroke-width="0.08">-Log<tspan font-size="5.6" dy="2">10</tspan><tspan dy="-2"> (</tspan><tspan font-style="italic">P</tspan>)</text>
<text x="0" y="0" font-size="8.0" fill="#222" text-anchor="end" font-family="Liberation Sans, Arial, sans-serif" stroke="#222" stroke-width="0.08" transform="translate(203.00 173.60) scale(1 1.1)">Gain</text>
<line x1="45.6" y1="281.6" x2="45.6" y2="379.8" stroke="#f4f4f4" stroke-width="0.5"/>
<line x1="67.7" y1="281.6" x2="67.7" y2="379.8" stroke="#f4f4f4" stroke-width="0.5"/>
<line x1="89.7" y1="281.6" x2="89.7" y2="379.8" stroke="#f4f4f4" stroke-width="0.5"/>
<line x1="111.8" y1="281.6" x2="111.8" y2="379.8" stroke="#f4f4f4" stroke-width="0.5"/>
<line x1="133.9" y1="281.6" x2="133.9" y2="379.8" stroke="#f4f4f4" stroke-width="0.5"/>
<line x1="156.0" y1="281.6" x2="156.0" y2="379.8" stroke="#f4f4f4" stroke-width="0.5"/>
<line x1="178.0" y1="281.6" x2="178.0" y2="379.8" stroke="#f4f4f4" stroke-width="0.5"/>
<line x1="200.1" y1="281.6" x2="200.1" y2="379.8" stroke="#f4f4f4" stroke-width="0.5"/>
<line x1="56.6" y1="281.6" x2="56.6" y2="379.8" stroke="#e8e8e8" stroke-width="0.7"/>
<line x1="78.7" y1="281.6" x2="78.7" y2="379.8" stroke="#e8e8e8" stroke-width="0.7"/>
<line x1="100.8" y1="281.6" x2="100.8" y2="379.8" stroke="#e8e8e8" stroke-width="0.7"/>
<line x1="122.8" y1="281.6" x2="122.8" y2="379.8" stroke="#e8e8e8" stroke-width="0.7"/>
<line x1="144.9" y1="281.6" x2="144.9" y2="379.8" stroke="#e8e8e8" stroke-width="0.7"/>
<line x1="167.0" y1="281.6" x2="167.0" y2="379.8" stroke="#e8e8e8" stroke-width="0.7"/>
<line x1="189.1" y1="281.6" x2="189.1" y2="379.8" stroke="#e8e8e8" stroke-width="0.7"/>
<line x1="35.9" y1="361.7" x2="209.0" y2="361.7" stroke="#f4f4f4" stroke-width="0.5"/>
<line x1="35.9" y1="335.1" x2="209.0" y2="335.1" stroke="#f4f4f4" stroke-width="0.5"/>
<line x1="35.9" y1="308.5" x2="209.0" y2="308.5" stroke="#f4f4f4" stroke-width="0.5"/>
<line x1="35.9" y1="281.9" x2="209.0" y2="281.9" stroke="#f4f4f4" stroke-width="0.5"/>
<line x1="35.9" y1="375.0" x2="209.0" y2="375.0" stroke="#e8e8e8" stroke-width="0.7"/>
<line x1="35.9" y1="348.4" x2="209.0" y2="348.4" stroke="#e8e8e8" stroke-width="0.7"/>
<line x1="35.9" y1="321.8" x2="209.0" y2="321.8" stroke="#e8e8e8" stroke-width="0.7"/>
<line x1="35.9" y1="295.2" x2="209.0" y2="295.2" stroke="#e8e8e8" stroke-width="0.7"/>
<path d="M107.2 340.4 L119.5 340.4 L121.2 360.4 L124.8 352.4 L127.0 353.7 L126.2 365.7 L128.4 373.7 L127.8 375.0 L115.1 375.0 L114.0 367.0 L111.8 356.4 Z" fill="#3c82d4"/>
<path d="M107.6 342.6h0M107.5 344.4h0M112.6 370.1h0M108.7 346.8h0M110.9 356.0h0M108.9 352.0h0M106.7 354.3h0M108.4 346.3h0M114.0 371.0h0M112.3 367.9h0M114.3 372.9h0M108.6 350.7h0M109.9 359.5h0M110.0 358.8h0M111.6 362.4h0M113.8 374.6h0M108.5 340.7h0M109.0 350.2h0M107.5 341.1h0M110.9 358.1h0M110.5 360.0h0M111.7 374.7h0M106.8 343.2h0M106.2 342.7h0M110.4 352.4h0M112.7 370.2h0M113.9 374.0h0M107.8 364.8h0M111.5 368.6h0M105.3 343.0h0M113.6 369.2h0M105.5 349.3h0M110.4 363.7h0M108.1 363.9h0M109.8 362.3h0M108.7 346.3h0M109.7 366.7h0M109.7 353.3h0M108.0 346.7h0M103.7 342.3h0M109.9 357.9h0M112.4 364.6h0M107.6 354.9h0M112.8 369.3h0M110.5 359.7h0M114.4 373.6h0M110.2 359.8h0M110.9 374.9h0M106.8 345.9h0M108.3 360.3h0M110.9 365.2h0M109.2 360.4h0M108.8 363.3h0M108.1 346.4h0M108.0 343.7h0M109.8 359.7h0M110.0 355.5h0M113.3 372.1h0M106.0 363.8h0M107.4 343.6h0M103.1 345.1h0M109.6 353.6h0M106.1 347.0h0M109.3 353.9h0M107.0 364.7h0M108.8 358.4h0M109.8 352.6h0M107.0 344.4h0M113.2 374.0h0M108.2 359.5h0M113.3 372.1h0M108.8 354.9h0M108.6 360.6h0M111.2 361.3h0M112.4 371.0h0M106.4 356.0h0M113.4 371.1h0M113.2 371.7h0M111.1 356.6h0M108.1 355.8h0M113.5 367.2h0M110.7 357.3h0M108.6 354.7h0M113.4 372.5h0M109.6 359.8h0M107.7 350.3h0M104.3 348.8h0M105.1 350.0h0M113.4 371.5h0M112.4 369.1h0M104.8 341.8h0M113.0 370.3h0M108.1 348.2h0M111.3 362.1h0M113.2 374.5h0M111.4 364.6h0M105.6 350.5h0M108.3 353.5h0M104.2 344.8h0M107.1 344.9h0M114.5 369.2h0M107.6 348.6h0M109.7 351.5h0M110.9 362.1h0M106.3 349.5h0M113.3 373.5h0M108.2 354.1h0M107.8 347.2h0M111.3 371.1h0M111.0 366.2h0M110.2 368.3h0M109.3 354.9h0M113.4 371.1h0M109.4 347.3h0M112.7 368.6h0M109.6 351.2h0M108.9 361.8h0M107.1 356.4h0M108.1 351.2h0M109.0 374.5h0M110.5 363.2h0M106.9 344.8h0M108.1 347.3h0M109.2 346.7h0M108.1 351.5h0M112.8 369.5h0M105.5 345.8h0M107.6 353.9h0M113.8 372.4h0M107.6 344.1h0M109.3 354.6h0M111.6 362.5h0M109.3 358.8h0M110.9 362.8h0M112.6 374.8h0M113.5 374.3h0M110.7 359.1h0M114.5 370.0h0M110.0 351.8h0M109.3 357.7h0M128.6 368.7h0M127.6 352.1h0M128.8 351.2h0M127.2 356.5h0M127.1 354.1h0M129.0 359.8h0M127.3 366.3h0M129.6 354.1h0M127.3 352.5h0M128.0 356.7h0M129.1 357.3h0M126.8 366.6h0M127.2 361.8h0M127.0 366.9h0M128.6 367.3h0M126.9 366.2h0M126.9 369.2h0M128.2 371.8h0M128.0 374.8h0M128.0 364.3h0M127.0 361.4h0M127.7 373.4h0M127.7 367.8h0M129.2 361.8h0M128.7 352.6h0M129.9 361.0h0M127.7 373.1h0M128.7 351.4h0M127.0 366.5h0M128.4 354.2h0M130.2 373.4h0M127.1 368.4h0M127.7 368.8h0M126.9 368.6h0M127.0 358.1h0M128.4 370.2h0M128.3 360.6h0M128.5 370.3h0M128.9 357.4h0M127.2 373.1h0M127.8 355.6h0M127.8 371.7h0M130.0 370.5h0M127.5 359.7h0M127.1 352.9h0M128.1 357.1h0M128.8 359.5h0M128.1 366.9h0M127.1 373.6h0M127.0 360.0h0M122.8 373.7h0M118.6 372.6h0M114.3 373.2h0M124.0 371.3h0M115.0 371.1h0M126.8 372.6h0M115.7 373.7h0M116.5 374.4h0M115.6 371.9h0M121.5 371.8h0M124.4 372.9h0M125.6 372.8h0M119.9 372.6h0M118.6 372.0h0M127.5 372.2h0M119.5 371.9h0M131.3 371.9h0M118.9 373.2h0M130.6 372.9h0M114.2 374.5h0M125.6 373.1h0M120.4 371.9h0M118.0 371.1h0M115.6 372.0h0M116.4 374.9h0M122.9 374.8h0M117.2 372.8h0M120.5 371.3h0M117.2 374.4h0M130.3 372.1h0M114.5 374.4h0M118.3 371.9h0M122.8 371.1h0M120.1 372.5h0M122.1 371.8h0M130.0 373.7h0M127.0 374.6h0M125.4 374.7h0M129.3 373.4h0M124.0 374.8h0M67.7 350.5h0M67.7 357.7h0M86.4 352.4h0M87.5 353.2h0M90.8 354.3h0M99.7 341.8h0M103.0 348.4h0M105.2 359.0h0M104.6 361.7h0M106.3 363.0h0M129.5 343.1h0M130.6 351.1h0M131.1 359.0h0M132.8 368.4h0M133.9 371.0h0M139.4 367.0h0M136.1 372.3h0M109.6 367.0h0" stroke="#4d86c8" stroke-width="1.4" stroke-linecap="round" fill="none" opacity="0.75"/>
<path d="M107.9 340.4 L108.5 321.8 L110.7 313.8 L114.0 309.8 L117.3 313.8 L118.7 321.8 L119.0 340.4 Z" fill="#f28c33"/>
<path d="M112.0 302.6h0M114.8 335.2h0M110.0 333.9h0M112.3 334.9h0M109.4 311.5h0M115.0 332.6h0M119.5 335.4h0M114.1 337.2h0M111.1 324.9h0M118.2 337.1h0M115.5 319.7h0M112.6 320.6h0M118.1 335.6h0M118.1 330.2h0M107.2 338.4h0M119.2 340.4h0M118.4 337.4h0M116.2 338.8h0M109.0 315.5h0M108.0 331.0h0M118.5 313.7h0M109.8 309.7h0M107.3 324.1h0M109.8 327.3h0M108.2 340.2h0M119.4 331.9h0M118.0 338.2h0M113.0 337.8h0M112.3 336.6h0M115.5 337.5h0M116.2 324.3h0M108.3 330.5h0M109.6 299.8h0M116.1 333.5h0M109.1 333.8h0M107.7 339.9h0M113.3 328.3h0M113.9 330.1h0M107.0 315.2h0M115.1 322.3h0M113.8 315.1h0M119.3 305.2h0M111.9 331.9h0M111.7 328.2h0M114.6 329.6h0M109.9 336.0h0M108.3 306.9h0M118.4 339.8h0M115.7 331.6h0M115.0 322.0h0M116.3 306.3h0M114.8 312.3h0M111.7 314.0h0M111.8 323.1h0M114.6 315.8h0M110.9 318.2h0M113.7 335.2h0M114.6 333.8h0M118.4 325.5h0M116.0 323.3h0M112.9 335.3h0M108.6 302.1h0M113.5 323.0h0M117.2 334.7h0M109.0 308.1h0M115.0 307.8h0M117.9 339.9h0M111.7 307.5h0M108.4 337.3h0M110.0 338.7h0M111.4 309.1h0M112.6 339.0h0M111.9 298.0h0M112.5 325.3h0M117.0 311.5h0M108.7 315.6h0M111.5 323.4h0M109.9 329.8h0M111.2 329.4h0M107.1 335.9h0M114.1 339.6h0M109.1 313.6h0M110.3 331.6h0M112.2 309.7h0M111.6 339.9h0M112.5 330.0h0M115.9 332.7h0M112.0 317.2h0M117.1 330.5h0M111.7 320.6h0M118.6 336.2h0M119.2 314.0h0M111.6 316.3h0M111.0 339.4h0M116.4 329.5h0M113.5 324.4h0M118.3 311.6h0M107.2 320.0h0M112.7 326.0h0M117.5 328.0h0M112.9 304.2h0M113.1 323.8h0M117.3 316.1h0M116.2 328.6h0M107.4 315.6h0M113.9 310.9h0M108.3 335.3h0M108.0 311.8h0M114.0 339.7h0M115.5 314.0h0M113.0 339.7h0M115.6 327.9h0M114.3 298.0h0M117.9 337.6h0M111.1 323.5h0M110.2 332.0h0M110.1 306.0h0M113.3 327.8h0M107.5 332.4h0M117.8 309.2h0M110.1 335.9h0M107.5 322.6h0M111.6 325.9h0M113.1 320.4h0M118.5 321.7h0M107.5 332.0h0M113.6 328.2h0M114.0 331.7h0M115.9 309.1h0M112.6 301.7h0M118.0 339.6h0M112.3 317.7h0M114.4 336.6h0M118.6 321.5h0M117.0 324.4h0M115.4 315.9h0M110.6 335.6h0M117.5 337.5h0M118.5 335.7h0M108.1 338.8h0M116.8 300.8h0M115.2 334.0h0M118.3 315.3h0M108.8 339.7h0M115.7 339.9h0M117.5 332.8h0M109.8 320.5h0M110.9 321.5h0M117.5 337.4h0M107.3 329.4h0M115.0 335.2h0M113.8 338.9h0M112.7 313.1h0M112.3 315.7h0M118.6 298.1h0M113.5 332.9h0M111.3 312.0h0M113.0 305.7h0M113.7 339.0h0M108.6 333.6h0M118.6 340.1h0M118.8 316.8h0M107.5 331.3h0M112.6 334.4h0M116.3 336.6h0M116.8 332.6h0M107.7 321.6h0M108.1 321.9h0M116.8 319.8h0M112.7 340.1h0M113.4 338.8h0M115.1 337.9h0M114.2 330.5h0M111.6 316.5h0M108.9 336.9h0M118.8 331.3h0M117.5 305.2h0M108.7 338.9h0M118.0 338.3h0M113.1 322.6h0M108.3 325.7h0M108.9 322.7h0M113.3 330.0h0M109.4 328.5h0M109.4 338.0h0M109.9 305.3h0M118.1 340.3h0M118.8 324.8h0M116.9 321.0h0M115.6 335.0h0M116.4 337.3h0M110.2 340.1h0M111.8 323.5h0M114.2 334.9h0M114.4 310.1h0M107.6 334.5h0M114.7 315.0h0M117.2 330.9h0M117.1 326.0h0M118.5 340.3h0M118.8 328.1h0M112.0 339.0h0M110.0 312.8h0M115.5 337.4h0M111.2 337.7h0M109.4 335.3h0M111.0 299.3h0M116.9 325.2h0M113.2 310.4h0M116.4 317.8h0M109.4 318.4h0M116.0 330.7h0M108.9 299.9h0M116.3 337.8h0M117.4 301.6h0M116.3 307.5h0M114.3 327.1h0M117.3 310.1h0M110.6 300.2h0M118.9 338.3h0M117.5 334.9h0M109.4 326.2h0M109.8 324.6h0M118.4 315.3h0M115.9 328.9h0M116.8 309.6h0M118.8 307.9h0M107.9 317.0h0M117.5 331.0h0M114.4 307.3h0M106.9 324.8h0M107.0 338.5h0M117.2 327.8h0M114.5 326.2h0M111.1 335.5h0M111.3 306.8h0M110.6 339.0h0M110.3 314.5h0M112.5 316.6h0M117.1 338.2h0M115.5 339.9h0M117.3 336.4h0M109.7 304.3h0M118.2 328.9h0M113.2 300.5h0M119.4 336.3h0M117.4 337.1h0M113.5 340.4h0M109.1 301.1h0M117.1 334.3h0M111.3 338.7h0M113.9 305.8h0M111.6 302.1h0M115.3 339.3h0M114.8 326.8h0M119.0 330.2h0M115.2 318.0h0M111.6 323.3h0M115.4 303.3h0M117.4 315.4h0M113.9 326.6h0M116.4 304.2h0M116.4 340.0h0M111.0 337.8h0M114.3 320.7h0M107.4 328.9h0M116.3 317.6h0M110.4 311.3h0M110.5 322.3h0M101.3 285.9h0M101.3 288.6h0M101.9 292.5h0M103.0 295.2h0M111.8 295.2h0M116.2 297.9h0M87.5 301.9h0M88.6 304.5h0M78.7 321.8h0M78.7 325.8h0M54.4 331.9h0M55.5 333.0h0M94.1 313.8h0M96.4 320.5h0M100.2 328.4h0M98.6 332.4h0M104.1 335.1h0M105.2 339.1h0M104.1 308.5h0M127.3 319.1h0M124.0 324.5h0M90.8 305.8h0" stroke="#f28c33" stroke-width="1.5" stroke-linecap="round" fill="none" opacity="0.85"/>
<rect x="35.9" y="281.6" width="173.1" height="98.19999999999999" fill="none" stroke="#222" stroke-width="1.1"/>
<line x1="33.9" y1="375.0" x2="35.9" y2="375.0" stroke="#333" stroke-width="0.6"/>
<text x="0" y="0" font-size="5.4" fill="#444" text-anchor="end" font-family="Liberation Sans, Arial, sans-serif" stroke="#444" stroke-width="0.08" transform="translate(33.30 376.90) scale(1 1.1)">0</text>
<line x1="33.9" y1="348.4" x2="35.9" y2="348.4" stroke="#333" stroke-width="0.6"/>
<text x="0" y="0" font-size="5.4" fill="#444" text-anchor="end" font-family="Liberation Sans, Arial, sans-serif" stroke="#444" stroke-width="0.08" transform="translate(33.30 350.30) scale(1 1.1)">1</text>
<line x1="33.9" y1="321.8" x2="35.9" y2="321.8" stroke="#333" stroke-width="0.6"/>
<text x="0" y="0" font-size="5.4" fill="#444" text-anchor="end" font-family="Liberation Sans, Arial, sans-serif" stroke="#444" stroke-width="0.08" transform="translate(33.30 323.70) scale(1 1.1)">2</text>
<line x1="33.9" y1="295.2" x2="35.9" y2="295.2" stroke="#333" stroke-width="0.6"/>
<text x="0" y="0" font-size="5.4" fill="#444" text-anchor="end" font-family="Liberation Sans, Arial, sans-serif" stroke="#444" stroke-width="0.08" transform="translate(33.30 297.10) scale(1 1.1)">3</text>
<line x1="78.7" y1="379.8" x2="78.7" y2="381.8" stroke="#333" stroke-width="0.6"/>
<text x="0" y="0" font-size="5.4" fill="#444" text-anchor="middle" font-family="Liberation Sans, Arial, sans-serif" stroke="#444" stroke-width="0.08" transform="translate(78.70 386.60) scale(1 1.1)">-4</text>
<line x1="122.8" y1="379.8" x2="122.8" y2="381.8" stroke="#333" stroke-width="0.6"/>
<text x="0" y="0" font-size="5.4" fill="#444" text-anchor="middle" font-family="Liberation Sans, Arial, sans-serif" stroke="#444" stroke-width="0.08" transform="translate(122.80 386.60) scale(1 1.1)">0</text>
<line x1="167.0" y1="379.8" x2="167.0" y2="381.8" stroke="#333" stroke-width="0.6"/>
<text x="0" y="0" font-size="5.4" fill="#444" text-anchor="middle" font-family="Liberation Sans, Arial, sans-serif" stroke="#444" stroke-width="0.08" transform="translate(167.00 386.60) scale(1 1.1)">4</text>
<text x="0" y="0" font-size="7.8" fill="#222" text-anchor="middle" font-family="Liberation Sans, Arial, sans-serif" stroke="#222" stroke-width="0.08" transform="translate(122.00 395.00) scale(1 1.1)">Log<tspan font-size="6" dy="2.2">2</tspan><tspan dy="-2.2"> (fold change)</tspan></text>
<text transform="translate(24.3,337.2) rotate(-90)" font-size="8.5" fill="#222" text-anchor="middle" font-family="Liberation Sans, Arial, sans-serif" stroke="#222" stroke-width="0.08">-Log<tspan font-size="5.6" dy="2">10</tspan><tspan dy="-2"> (</tspan><tspan font-style="italic">P</tspan>)</text>
<text x="4.8" y="419.6" font-size="16" font-weight="bold" font-family="Liberation Sans, Arial, sans-serif" stroke="#000" stroke-width="0.06">C</text>
<path d="M66.3 467.6 L66.3 455.2 L112.4 455.2 L112.4 453.6 L125.4 453.6 L127 452.6 L128.7 451.0 L130.2 449.6 L131.5 449.6 L132 452.4 L137 452.6 L143.7 453.0 L143.7 458.3 L160.7 458.3 L160.7 456.3 L167.2 456.3 L167.2 455.0 L173.1 455.0 L173.1 458.3 L186.2 458.3 L186.2 461.0 L190.7 461.0 L190.7 459.2 L195.3 459.2 L195.3 467.6 Z" fill="#4a87cc"/>
<rect x="66.3" y="466.7" width="129" height="1.7" fill="#1d3f6e"/>
<line x1="66.3" y1="471.0" x2="193.6" y2="471.0" stroke="#93badf" stroke-width="1.15"/>
<line x1="66.3" y1="473.8" x2="145.6" y2="473.8" stroke="#93badf" stroke-width="1.15"/>
<line x1="161.3" y1="473.8" x2="193.6" y2="473.8" stroke="#93badf" stroke-width="1.15"/>
<line x1="66.3" y1="476.7" x2="193.6" y2="476.7" stroke="#93badf" stroke-width="1.15"/>
<line x1="66.3" y1="479.5" x2="192" y2="479.5" stroke="#93badf" stroke-width="1.15"/>
<line x1="66.3" y1="482.3" x2="145.6" y2="482.3" stroke="#93badf" stroke-width="1.15"/>
<line x1="161.3" y1="482.3" x2="188.8" y2="482.3" stroke="#93badf" stroke-width="1.15"/>
<line x1="190.7" y1="482.3" x2="193.6" y2="482.3" stroke="#93badf" stroke-width="1.15"/>
<line x1="72.5" y1="485.1" x2="145" y2="485.1" stroke="#93badf" stroke-width="1.15"/>
<line x1="163" y1="485.1" x2="164" y2="485.1" stroke="#93badf" stroke-width="1.15"/>
<line x1="166.6" y1="485.1" x2="186.2" y2="485.1" stroke="#93badf" stroke-width="1.15"/>
<line x1="192" y1="485.1" x2="193.6" y2="485.1" stroke="#93badf" stroke-width="1.15"/>
<line x1="66.3" y1="488.0" x2="90.1" y2="488.0" stroke="#93badf" stroke-width="1.15"/>
<line x1="94.3" y1="488.0" x2="95.3" y2="488.0" stroke="#93badf" stroke-width="1.15"/>
<line x1="105.5" y1="488.0" x2="106.5" y2="488.0" stroke="#93badf" stroke-width="1.15"/>
<line x1="113.7" y1="488.0" x2="116.3" y2="488.0" stroke="#93badf" stroke-width="1.15"/>
<line x1="118.9" y1="488.0" x2="175.7" y2="488.0" stroke="#93badf" stroke-width="1.15"/>
<line x1="90.8" y1="490.8" x2="115" y2="490.8" stroke="#93badf" stroke-width="1.15"/>
<line x1="118.9" y1="490.8" x2="126.7" y2="490.8" stroke="#93badf" stroke-width="1.15"/>
<line x1="128.7" y1="490.8" x2="135.8" y2="490.8" stroke="#93badf" stroke-width="1.15"/>
<line x1="139.8" y1="490.8" x2="173.8" y2="490.8" stroke="#93badf" stroke-width="1.15"/>
<line x1="66.3" y1="493.6" x2="171.8" y2="493.6" stroke="#93badf" stroke-width="1.15"/>
<line x1="66.3" y1="496.5" x2="133.2" y2="496.5" stroke="#93badf" stroke-width="1.15"/>
<line x1="137.8" y1="496.5" x2="160.7" y2="496.5" stroke="#93badf" stroke-width="1.15"/>
<line x1="165.5" y1="496.5" x2="166.5" y2="496.5" stroke="#93badf" stroke-width="1.15"/>
<line x1="171.8" y1="496.5" x2="193.6" y2="496.5" stroke="#93badf" stroke-width="1.15"/>
<line x1="116.3" y1="499.3" x2="141" y2="499.3" stroke="#93badf" stroke-width="1.15"/>
<line x1="163" y1="499.3" x2="164" y2="499.3" stroke="#93badf" stroke-width="1.15"/>
<line x1="170.6" y1="499.3" x2="171.6" y2="499.3" stroke="#93badf" stroke-width="1.15"/>
<line x1="66.3" y1="502.1" x2="71.8" y2="502.1" stroke="#93badf" stroke-width="1.15"/>
<line x1="128" y1="502.1" x2="131" y2="502.1" stroke="#93badf" stroke-width="1.15"/>
<line x1="140.5" y1="502.1" x2="141.5" y2="502.1" stroke="#93badf" stroke-width="1.15"/>
<line x1="66.3" y1="505.0" x2="132" y2="505.0" stroke="#93badf" stroke-width="1.15"/>
<line x1="133.9" y1="505.0" x2="140.4" y2="505.0" stroke="#93badf" stroke-width="1.15"/>
<line x1="129.4" y1="507.8" x2="131.5" y2="507.8" stroke="#93badf" stroke-width="1.15"/>
<line x1="131.5" y1="443.5" x2="131.5" y2="515.5" stroke="#c47a36" stroke-width="0.8"/>
<rect x="66.3" y="439.8" width="129.0" height="76.40000000000003" fill="none" stroke="#1a1a1a" stroke-width="1.1"/>
<text x="0" y="0" font-size="6.0" fill="#222" font-family="Liberation Sans, Arial, sans-serif" stroke="#222" stroke-width="0.08" transform="translate(68.80 447.70) scale(1 1.1)">[0% – 42%]</text>
<text x="0" y="0" font-size="5.72" fill="#7ea7d6" text-anchor="end" font-family="Liberation Sans, Arial, sans-serif" stroke="#7ea7d6" stroke-width="0.08" transform="translate(62.60 453.30) scale(1 0.9)">Somatic CNV gain</text>
<text x="0" y="0" font-size="5.72" fill="#7ea7d6" text-anchor="end" font-family="Liberation Sans, Arial, sans-serif" stroke="#7ea7d6" stroke-width="0.08" transform="translate(62.60 458.90) scale(1 0.9)">frequency</text>
<text x="0" y="0" font-size="5.6" fill="#7ea7d6" text-anchor="end" font-family="Liberation Sans, Arial, sans-serif" stroke="#7ea7d6" stroke-width="0.08" transform="translate(63.20 491.00) scale(1 0.9)">Somatic CNV gain</text>
<line x1="73.8" y1="516.2" x2="73.8" y2="518.7" stroke="#111" stroke-width="0.8"/>
<line x1="114.5" y1="516.2" x2="114.5" y2="518.7" stroke="#111" stroke-width="0.8"/>
<line x1="155.6" y1="516.2" x2="155.6" y2="518.7" stroke="#111" stroke-width="0.8"/>
<text x="0" y="0" font-size="5.9" fill="#111" text-anchor="end" font-family="Liberation Sans, Arial, sans-serif" stroke="#111" stroke-width="0.08" transform="translate(63.40 525.00) scale(1 1.15)">chr7:</text>
<text x="0" y="0" font-size="5.8" fill="#111" font-family="Liberation Sans, Arial, sans-serif" stroke="#111" stroke-width="0.08" transform="translate(66.80 525.00) scale(1 1.15)">44 Mb</text>
<text x="0" y="0" font-size="5.8" fill="#111" font-family="Liberation Sans, Arial, sans-serif" stroke="#111" stroke-width="0.08" transform="translate(106.20 525.00) scale(1 1.15)">.52 Mb</text>
<text x="0" y="0" font-size="5.8" fill="#111" font-family="Liberation Sans, Arial, sans-serif" stroke="#111" stroke-width="0.08" transform="translate(147.40 525.00) scale(1 1.15)">60 Mb</text>
<line x1="72.9" y1="535.2" x2="128.4" y2="517.6" stroke="#9a9a9a" stroke-width="0.7" stroke-dasharray="1.4,1.6"/>
<line x1="134" y1="517.6" x2="193.5" y2="535.2" stroke="#9a9a9a" stroke-width="0.7" stroke-dasharray="1.4,1.6"/>
<text x="0" y="0" font-size="5.6" fill="#eeaa72" text-anchor="end" font-family="Liberation Sans, Arial, sans-serif" stroke="#eeaa72" stroke-width="0.08" transform="translate(61.80 535.00) scale(1 0.9)">100%</text>
<path d="M69.9 606V549.7M73.2 606V557.5M80.3 606V545.1M85.6 606V577M88.2 606V570.6M95.4 606V543.8M97.3 606V552.3M104.5 606V554.9M109.1 606V551.6M112.4 606V543.2M114.3 606V549.7M117.6 606V560.1M121.5 606V544.5M124.1 606V548.4M126.1 606V549.7M129.4 606V539.9M130.7 606V547M131.9 606V556M134.5 606V571.9M139.1 606V570.6M145.0 606V575.8M147.6 606V577.1M153.5 606V579.8M165.9 606V539.9M173.5 606V541.2M187.5 606V575.8M150.9 606V583.7M168.5 606V586.3" stroke="#ec8a3c" stroke-width="0.8" fill="none"/>
<path d="M113.9 606V575.9M117.2 606V578.6M123.6 606V554.9M108.3 606V588.8M114.5 606V562.3M132.9 606V572.7M128.9 606V573.0M124.0 606V558.6M123.9 606V590.2M121.1 606V584.6M124.8 606V554.8M127.0 606V578.0M115.5 606V553.4M129.6 606V572.8M126.0 606V590.7M125.9 606V592.5M117.9 606V587.2M119.1 606V593.2M130.0 606V556.3M111.4 606V561.5M132.1 606V571.2M123.7 606V565.2M120.7 606V569.0M116.8 606V577.7M122.6 606V591.8M125.0 606V592.9M129.4 606V595.6M124.8 606V559.2M129.5 606V594.4M130.6 606V577.0M125.8 606V561.3M128.8 606V577.2M115.1 606V554.8M129.3 606V595.6M110.2 606V587.2M118.3 606V558.6M115.3 606V585.8M129.8 606V553.9M123.4 606V554.0M126.0 606V566.6M130.0 606V595.1M120.6 606V595.9M115.7 606V555.4M123.0 606V553.4M112.9 606V569.9M123.3 606V558.9M109.1 606V590.2M115.8 606V594.2M130.4 606V568.6M119.5 606V574.9M124.1 606V578.2M122.0 606V579.3M131.5 606V574.3M118.8 606V583.7M113.9 606V565.2M132.4 606V574.9M121.7 606V552.5M118.4 606V577.5M108.5 606V579.1M123.8 606V554.6M123.7 606V572.5M125.0 606V567.5M125.7 606V584.5M108.6 606V554.7M124.9 606V594.4M114.3 606V572.1M122.8 606V566.1M117.1 606V565.8M117.2 606V578.2M115.5 606V568.6M133.7 606V585.9M141.4 606V576.2M139.4 606V575.2M102.6 606V572.9M96.0 606V593.3M105.4 606V574.7M101.7 606V594.8M94.1 606V573.4M138.2 606V592.6M138.0 606V577.8M150.3 606V592.6M92.3 606V578.2M140.3 606V579.7M97.6 606V581.5M137.2 606V570.1M156.8 606V597.6M107.1 606V596.0M103.4 606V593.4M147.0 606V578.1M94.1 606V571.9M140.7 606V592.7M106.3 606V589.4M157.2 606V595.2M133.4 606V590.9M95.4 606V588.6M144.2 606V596.3M142.2 606V577.1M145.9 606V591.9M93.6 606V585.0M137.6 606V592.2M154.8 606V593.1M101.3 606V594.2M94.9 606V577.5M144.4 606V583.2M133.0 606V571.5M92.2 606V571.9M156.1 606V572.4M141.5 606V578.8M101.6 606V586.4M93.4 606V579.2M82.8 606V597.8M115.7 606V600.3M77.2 606V601.5M144.4 606V598.6M167.2 606V598.4M146.7 606V596.9M122.2 606V598.9M157.0 606V600.1M120.8 606V601.1M98.4 606V597.8M135.6 606V602.3M121.4 606V601.2M121.5 606V594.5M114.9 606V594.9M181.9 606V602.3M126.4 606V599.2M82.8 606V601.0M180.6 606V598.2M168.4 606V600.2M139.2 606V595.9M80.2 606V602.7M85.4 606V602.8M166.1 606V601.5M79.7 606V602.6M179.7 606V602.7M174.7 606V602.3M82.5 606V600.1M174.0 606V598.6M188.9 606V597.5M71.6 606V600.0M165.2 606V597.5M80.7 606V602.6M162.9 606V601.9M108.5 606V602.3M139.2 606V601.2M90.0 606V600.7M99.0 606V596.8M117.4 606V597.4M114.0 606V599.3M120.5 606V600.2M77.7 606V593.6M119.8 606V603.0M162.7 606V600.1M163.8 606V598.5M153.3 606V599.0M149.3 606V602.4M181.9 606V602.1M162.8 606V601.7M184.3 606V599.2M159.0 606V602.6M90.8 606V602.7M142.0 606V599.7M107.3 606V602.1M189.0 606V597.7M104.9 606V601.6M176.3 606V599.5M141.8 606V602.6M70.0 606V600.6M128.4 606V600.7M113.1 606V600.9M108.2 606V602.6M193.9 606V601.1M128.4 606V598.4M173.8 606V600.7M172.2 606V599.2M159.3 606V601.6M176.7 606V598.4M189.9 606V599.7M126.8 606V602.5M158.9 606V600.5M153.4 606V596.4M98.0 606V600.5M91.3 606V602.9M157.2 606V600.7M176.9 606V600.8M177.7 606V601.4M107.1 606V595.8M78.0 606V600.4M78.9 606V601.5M112.7 606V599.4M141.3 606V602.7M109.9 606V602.5M122.8 606V599.6M141.9 606V602.7M189.3 606V599.6M82.3 606V600.2M102.2 606V601.8M180.6 606V601.5M183.3 606V596.2M114.9 606V596.2M165.9 606V602.9M153.5 606V600.1M150.7 606V602.1M163.5 606V600.4M190.0 606V601.0M81.5 606V599.2M130.2 606V598.2M153.9 606V598.5M139.5 606V600.0M147.8 606V596.4M89.9 606V599.1M82.8 606V599.7M186.3 606V601.0M159.2 606V600.6M143.5 606V596.2M125.6 606V600.6M107.0 606V602.2M158.6 606V601.8M163.6 606V597.5M113.0 606V600.8M101.0 606V595.5M72.4 606V598.2M131.6 606V602.8M112.3 606V594.4M109.6 606V597.9M165.8 606V600.5M112.2 606V601.6M101.6 606V601.0M79.8 606V598.4M160.1 606V599.0M90.7 606V601.6M162.1 606V599.6M171.4 606V603.0M85.7 606V598.3M118.0 606V600.9M139.8 606V597.3M92.9 606V603.0M70.9 606V596.9M169.8 606V596.4M116.0 606V595.3M137.7 606V596.9M192.1 606V600.5M154.9 606V600.9M129.0 606V593.6M144.0 606V603.0M165.6 606V602.8M151.7 606V598.7M125.9 606V602.7M91.8 606V602.1M131.1 606V602.7M149.7 606V596.9M189.8 606V601.4M181.2 606V598.9M146.8 606V596.3M73.5 606V601.4M77.0 606V601.0M136.0 606V599.0M178.4 606V601.7M155.9 606V598.4M143.9 606V595.6M185.7 606V601.8M111.0 606V595.0M170.3 606V596.7M122.9 606V598.9M163.9 606V601.3M72.5 606V602.8M77.0 606V602.4M130.6 606V600.2M156.5 606V599.4M150.1 606V602.1M106.0 606V594.8M118.4 606V601.1M90.1 606V598.5M114.0 606V598.3M114.5 606V596.4M95.7 606V601.8M67.3 606V601.4M85.4 606V597.1M125.9 606V601.8M88.9 606V600.7M118.7 606V602.4M81.1 606V602.3M88.5 606V601.8M69.9 606V602.9M124.3 606V596.5M73.5 606V600.0M118.6 606V602.1M190.6 606V602.5M95.0 606V598.3M88.1 606V600.8M146.7 606V601.5M73.6 606V601.5M160.1 606V602.0M126.6 606V594.3M186.4 606V602.2M101.0 606V599.4M171.3 606V600.8M79.0 606V600.7M154.3 606V598.4M67.5 606V602.1M70.9 606V601.2M71.7 606V601.8M73.9 606V598.7M92.7 606V594.1M191.7 606V596.8M184.4 606V602.1M187.3 606V600.1M144.7 606V602.1M188.2 606V600.5M175.8 606V601.5M81.7 606V600.6M154.0 606V601.0M185.9 606V600.4M160.9 606V597.9M174.0 606V595.5M113.4 606V599.3M120.1 606V601.9M128.5 606V594.4M101.5 606V599.1M144.5 606V596.0M158.0 606V599.9M86.7 606V600.4M158.0 606V599.1M164.1 606V602.4M153.7 606V600.9M175.0 606V601.5M149.2 606V595.7M124.6 606V596.0M181.8 606V602.7M114.4 606V598.5M76.2 606V596.0M80.4 606V597.8M139.8 606V601.4M150.1 606V602.1M97.8 606V600.3M149.5 606V602.1M142.0 606V599.4M190.8 606V602.8M95.2 606V598.2M167.0 606V601.6M144.4 606V601.5M91.1 606V598.8M89.7 606V597.3M81.4 606V599.9M70.1 606V600.7M181.3 606V602.5M78.0 606V600.6M173.2 606V602.5M145.8 606V597.7M178.6 606V598.4M111.3 606V598.7M81.2 606V600.7M173.9 606V597.7M93.4 606V597.9M136.0 606V595.1M76.9 606V601.7M111.3 606V601.1M137.7 606V602.8M161.1 606V598.5M144.6 606V599.6M94.4 606V593.2M109.9 606V589.7M122.1 606V600.0M88.2 606V601.8M186.2 606V601.9M193.3 606V595.9M145.4 606V597.4M120.6 606V600.4M188.4 606V596.0M129.0 606V596.0" stroke="#ef9a55" stroke-width="0.55" fill="none" opacity="0.8"/>
<path d="M127.8 606 L128.3 575 L129 560 L129.6 556 L130.4 562 L131 575 L131.6 606 Z" fill="#ee8c40" opacity="0.8"/>
<path d="M66.3 606.2 L66.3 600.1 L67.2 600.8 L68.1 599.6 L69.0 599.8 L69.9 601.0 L70.8 599.7 L71.7 601.2 L72.6 601.4 L73.5 600.2 L74.4 601.0 L75.3 600.6 L76.2 600.3 L77.1 601.5 L78.0 600.1 L78.9 601.0 L79.8 600.7 L80.7 600.9 L81.6 600.1 L82.5 600.1 L83.4 601.0 L84.3 601.4 L85.2 601.0 L86.1 600.8 L87.0 601.4 L87.9 601.3 L88.8 600.1 L89.7 600.2 L90.6 599.6 L91.5 599.6 L92.4 599.8 L93.3 600.9 L94.2 601.3 L95.1 599.5 L96.0 600.5 L96.9 600.9 L97.8 599.5 L98.7 599.8 L99.6 599.5 L100.5 598.5 L101.4 601.3 L102.3 599.0 L103.2 600.0 L104.1 598.6 L105.0 599.6 L105.9 598.1 L106.8 599.7 L107.7 599.2 L108.6 601.5 L109.5 599.9 L110.4 601.1 L111.3 599.3 L112.2 600.0 L113.1 600.3 L114.0 599.8 L114.9 599.6 L115.8 600.1 L116.7 600.6 L117.6 599.0 L118.5 599.8 L119.4 600.3 L120.3 598.3 L121.2 600.3 L122.1 600.0 L123.0 600.8 L123.9 599.8 L124.8 600.2 L125.7 599.0 L126.6 599.4 L127.5 598.5 L128.4 598.2 L129.3 601.0 L130.2 600.8 L131.1 599.9 L132.0 598.9 L132.9 600.5 L133.8 599.1 L134.7 600.2 L135.6 601.4 L136.5 600.9 L137.4 599.8 L138.3 598.8 L139.2 598.3 L140.1 600.8 L141.0 599.5 L141.9 599.7 L142.8 599.5 L143.7 599.5 L144.6 601.1 L145.5 599.9 L146.4 599.7 L147.3 600.5 L148.2 599.9 L149.1 598.5 L150.0 601.0 L150.9 599.7 L151.8 601.5 L152.7 601.1 L153.6 600.6 L154.5 601.1 L155.4 600.5 L156.3 601.5 L157.2 601.1 L158.1 599.7 L159.0 601.3 L159.9 599.8 L160.8 601.2 L161.7 599.6 L162.6 600.3 L163.5 600.3 L164.4 601.3 L165.3 601.5 L166.2 600.1 L167.1 601.2 L168.0 601.2 L168.9 600.0 L169.8 599.9 L170.7 601.5 L171.6 599.7 L172.5 600.5 L173.4 600.8 L174.3 601.4 L175.2 600.8 L176.1 599.6 L177.0 601.0 L177.9 601.3 L178.8 601.3 L179.7 601.3 L180.6 600.9 L181.5 599.8 L182.4 601.4 L183.3 601.2 L184.2 599.7 L185.1 599.6 L186.0 599.6 L186.9 601.1 L187.8 600.9 L188.7 599.7 L189.6 600.6 L190.5 600.2 L191.4 601.0 L192.3 601.6 L193.2 600.9 L194.1 600.1 L195.0 600.0 L195.3 606.2 Z" fill="#ee8a3a"/>
<rect x="66.3" y="536.2" width="129.0" height="70.0" fill="none" stroke="#1a1a1a" stroke-width="1.1"/>
<text x="0" y="0" font-size="5.6" fill="#eeaa72" text-anchor="end" font-family="Liberation Sans, Arial, sans-serif" stroke="#eeaa72" stroke-width="0.08" transform="translate(63.50 571.80) scale(1 0.9)">Open frequency</text>
<text x="0" y="0" font-size="5.9" fill="#eeaa72" text-anchor="end" font-family="Liberation Sans, Arial, sans-serif" stroke="#eeaa72" stroke-width="0.08" transform="translate(61.60 604.90) scale(1 0.9)">3.03%</text>
<rect x="66.3" y="610.6" width="129" height="10.9" fill="#fff" stroke="#1a1a1a" stroke-width="1.1"/>
<line x1="73.6" y1="612.6" x2="73.6" y2="619.4" stroke="#333" stroke-width="0.7"/>
<line x1="78.6" y1="612.6" x2="78.6" y2="619.4" stroke="#333" stroke-width="0.7"/>
<line x1="81.1" y1="612.6" x2="81.1" y2="619.4" stroke="#333" stroke-width="0.7"/>
<line x1="86.0" y1="612.6" x2="86.0" y2="619.4" stroke="#333" stroke-width="0.7"/>
<line x1="88.9" y1="612.6" x2="88.9" y2="619.4" stroke="#333" stroke-width="0.7"/>
<line x1="95.2" y1="612.6" x2="95.2" y2="619.4" stroke="#333" stroke-width="0.7"/>
<line x1="173.7" y1="612.6" x2="173.7" y2="619.4" stroke="#333" stroke-width="0.7"/>
<text x="0" y="0" font-size="5.65" fill="#111" text-anchor="end" font-family="Liberation Sans, Arial, sans-serif" stroke="#111" stroke-width="0.08" transform="translate(62.60 616.80) scale(1 0.9)">DEG-Related gain sCOP</text>
<rect x="66.3" y="625.8" width="129" height="49.8" fill="#fff" stroke="#1a1a1a" stroke-width="1.1"/>
<text x="0" y="0" font-size="5.9" fill="#3c3c7c" text-anchor="end" font-family="Liberation Sans, Arial, sans-serif" stroke="#3c3c7c" stroke-width="0.08" transform="translate(63.60 629.60) scale(1 0.9)">EGFR</text>
<text x="0" y="0" font-size="5.9" fill="#3c3c7c" text-anchor="end" font-family="Liberation Sans, Arial, sans-serif" stroke="#3c3c7c" stroke-width="0.08" transform="translate(63.60 635.00) scale(1 0.9)">EGFR</text>
<text x="0" y="0" font-size="5.9" fill="#3c3c7c" text-anchor="end" font-family="Liberation Sans, Arial, sans-serif" stroke="#3c3c7c" stroke-width="0.08" transform="translate(63.60 640.30) scale(1 0.9)">EGFR</text>
<text x="0" y="0" font-size="5.9" fill="#3c3c7c" text-anchor="end" font-family="Liberation Sans, Arial, sans-serif" stroke="#3c3c7c" stroke-width="0.08" transform="translate(63.60 645.70) scale(1 0.9)">EGFR</text>
<text x="0" y="0" font-size="5.9" fill="#3c3c7c" text-anchor="end" font-family="Liberation Sans, Arial, sans-serif" stroke="#3c3c7c" stroke-width="0.08" transform="translate(63.60 651.00) scale(1 0.9)">EGFR</text>
<text x="0" y="0" font-size="5.9" fill="#3c3c7c" text-anchor="end" font-family="Liberation Sans, Arial, sans-serif" stroke="#3c3c7c" stroke-width="0.08" transform="translate(63.60 656.40) scale(1 0.9)">EGFR</text>
<text x="0" y="0" font-size="5.9" fill="#3a9a58" text-anchor="end" font-family="Liberation Sans, Arial, sans-serif" stroke="#3a9a58" stroke-width="0.08" transform="translate(63.60 661.80) scale(1 0.9)">EGFR</text>
<text x="0" y="0" font-size="5.9" fill="#3c3c7c" text-anchor="end" font-family="Liberation Sans, Arial, sans-serif" stroke="#3c3c7c" stroke-width="0.08" transform="translate(63.60 667.10) scale(1 0.9)">EGFR</text>
<text x="0" y="0" font-size="5.9" fill="#3a9a58" text-anchor="end" font-family="Liberation Sans, Arial, sans-serif" stroke="#3a9a58" stroke-width="0.08" transform="translate(63.60 672.50) scale(1 0.9)">EGFR-AS1</text>
<line x1="95.3" y1="628.3" x2="151.3" y2="628.3" stroke="#5a5a78" stroke-width="0.9"/>
<path d="M97.3 627.4l0.8 0.9l-0.8 0.9" fill="none" stroke="#8a8aa8" stroke-width="0.35"/>
<path d="M99.9 627.4l0.8 0.9l-0.8 0.9" fill="none" stroke="#8a8aa8" stroke-width="0.35"/>
<path d="M102.5 627.4l0.8 0.9l-0.8 0.9" fill="none" stroke="#8a8aa8" stroke-width="0.35"/>
<path d="M105.1 627.4l0.8 0.9l-0.8 0.9" fill="none" stroke="#8a8aa8" stroke-width="0.35"/>
<path d="M107.7 627.4l0.8 0.9l-0.8 0.9" fill="none" stroke="#8a8aa8" stroke-width="0.35"/>
<path d="M110.3 627.4l0.8 0.9l-0.8 0.9" fill="none" stroke="#8a8aa8" stroke-width="0.35"/>
<path d="M112.9 627.4l0.8 0.9l-0.8 0.9" fill="none" stroke="#8a8aa8" stroke-width="0.35"/>
<path d="M115.5 627.4l0.8 0.9l-0.8 0.9" fill="none" stroke="#8a8aa8" stroke-width="0.35"/>
<path d="M118.1 627.4l0.8 0.9l-0.8 0.9" fill="none" stroke="#8a8aa8" stroke-width="0.35"/>
<path d="M120.7 627.4l0.8 0.9l-0.8 0.9" fill="none" stroke="#8a8aa8" stroke-width="0.35"/>
<path d="M123.3 627.4l0.8 0.9l-0.8 0.9" fill="none" stroke="#8a8aa8" stroke-width="0.35"/>
<path d="M125.9 627.4l0.8 0.9l-0.8 0.9" fill="none" stroke="#8a8aa8" stroke-width="0.35"/>
<path d="M128.5 627.4l0.8 0.9l-0.8 0.9" fill="none" stroke="#8a8aa8" stroke-width="0.35"/>
<path d="M131.1 627.4l0.8 0.9l-0.8 0.9" fill="none" stroke="#8a8aa8" stroke-width="0.35"/>
<path d="M133.7 627.4l0.8 0.9l-0.8 0.9" fill="none" stroke="#8a8aa8" stroke-width="0.35"/>
<path d="M136.3 627.4l0.8 0.9l-0.8 0.9" fill="none" stroke="#8a8aa8" stroke-width="0.35"/>
<path d="M138.9 627.4l0.8 0.9l-0.8 0.9" fill="none" stroke="#8a8aa8" stroke-width="0.35"/>
<path d="M141.5 627.4l0.8 0.9l-0.8 0.9" fill="none" stroke="#8a8aa8" stroke-width="0.35"/>
<path d="M144.1 627.4l0.8 0.9l-0.8 0.9" fill="none" stroke="#8a8aa8" stroke-width="0.35"/>
<path d="M146.7 627.4l0.8 0.9l-0.8 0.9" fill="none" stroke="#8a8aa8" stroke-width="0.35"/>
<path d="M149.3 627.4l0.8 0.9l-0.8 0.9" fill="none" stroke="#8a8aa8" stroke-width="0.35"/>
<rect x="132.3" y="626.6" width="9.5" height="3.4" fill="#8484c8"/>
<line x1="132.8" y1="628.3" x2="141.3" y2="628.3" stroke="#4a4a90" stroke-width="0.6"/>
<rect x="143" y="626.6" width="1.0" height="3.4" fill="#8484c8"/>
<line x1="143.5" y1="628.3" x2="143.5" y2="628.3" stroke="#4a4a90" stroke-width="0.6"/>
<rect x="146" y="626.6" width="1.0" height="3.4" fill="#8484c8"/>
<line x1="146.5" y1="628.3" x2="146.5" y2="628.3" stroke="#4a4a90" stroke-width="0.6"/>
<rect x="150" y="626.6" width="1.3" height="3.4" fill="#8484c8"/>
<line x1="150.5" y1="628.3" x2="150.8" y2="628.3" stroke="#4a4a90" stroke-width="0.6"/>
<line x1="95.3" y1="633.6" x2="140.3" y2="633.6" stroke="#5a5a78" stroke-width="0.9"/>
<path d="M97.3 632.7l0.8 0.9l-0.8 0.9" fill="none" stroke="#8a8aa8" stroke-width="0.35"/>
<path d="M99.9 632.7l0.8 0.9l-0.8 0.9" fill="none" stroke="#8a8aa8" stroke-width="0.35"/>
<path d="M102.5 632.7l0.8 0.9l-0.8 0.9" fill="none" stroke="#8a8aa8" stroke-width="0.35"/>
<path d="M105.1 632.7l0.8 0.9l-0.8 0.9" fill="none" stroke="#8a8aa8" stroke-width="0.35"/>
<path d="M107.7 632.7l0.8 0.9l-0.8 0.9" fill="none" stroke="#8a8aa8" stroke-width="0.35"/>
<path d="M110.3 632.7l0.8 0.9l-0.8 0.9" fill="none" stroke="#8a8aa8" stroke-width="0.35"/>
<path d="M112.9 632.7l0.8 0.9l-0.8 0.9" fill="none" stroke="#8a8aa8" stroke-width="0.35"/>
<path d="M115.5 632.7l0.8 0.9l-0.8 0.9" fill="none" stroke="#8a8aa8" stroke-width="0.35"/>
<path d="M118.1 632.7l0.8 0.9l-0.8 0.9" fill="none" stroke="#8a8aa8" stroke-width="0.35"/>
<path d="M120.7 632.7l0.8 0.9l-0.8 0.9" fill="none" stroke="#8a8aa8" stroke-width="0.35"/>
<path d="M123.3 632.7l0.8 0.9l-0.8 0.9" fill="none" stroke="#8a8aa8" stroke-width="0.35"/>
<path d="M125.9 632.7l0.8 0.9l-0.8 0.9" fill="none" stroke="#8a8aa8" stroke-width="0.35"/>
<path d="M128.5 632.7l0.8 0.9l-0.8 0.9" fill="none" stroke="#8a8aa8" stroke-width="0.35"/>
<path d="M131.1 632.7l0.8 0.9l-0.8 0.9" fill="none" stroke="#8a8aa8" stroke-width="0.35"/>
<path d="M133.7 632.7l0.8 0.9l-0.8 0.9" fill="none" stroke="#8a8aa8" stroke-width="0.35"/>
<path d="M136.3 632.7l0.8 0.9l-0.8 0.9" fill="none" stroke="#8a8aa8" stroke-width="0.35"/>
<path d="M138.9 632.7l0.8 0.9l-0.8 0.9" fill="none" stroke="#8a8aa8" stroke-width="0.35"/>
<rect x="132.3" y="631.9" width="8.0" height="3.4" fill="#8484c8"/>
<line x1="132.8" y1="633.6" x2="139.8" y2="633.6" stroke="#4a4a90" stroke-width="0.6"/>
<line x1="95.3" y1="638.9" x2="140.8" y2="638.9" stroke="#5a5a78" stroke-width="0.9"/>
<path d="M97.3 638.0l0.8 0.9l-0.8 0.9" fill="none" stroke="#8a8aa8" stroke-width="0.35"/>
<path d="M99.9 638.0l0.8 0.9l-0.8 0.9" fill="none" stroke="#8a8aa8" stroke-width="0.35"/>
<path d="M102.5 638.0l0.8 0.9l-0.8 0.9" fill="none" stroke="#8a8aa8" stroke-width="0.35"/>
<path d="M105.1 638.0l0.8 0.9l-0.8 0.9" fill="none" stroke="#8a8aa8" stroke-width="0.35"/>
<path d="M107.7 638.0l0.8 0.9l-0.8 0.9" fill="none" stroke="#8a8aa8" stroke-width="0.35"/>
<path d="M110.3 638.0l0.8 0.9l-0.8 0.9" fill="none" stroke="#8a8aa8" stroke-width="0.35"/>
<path d="M112.9 638.0l0.8 0.9l-0.8 0.9" fill="none" stroke="#8a8aa8" stroke-width="0.35"/>
<path d="M115.5 638.0l0.8 0.9l-0.8 0.9" fill="none" stroke="#8a8aa8" stroke-width="0.35"/>
<path d="M118.1 638.0l0.8 0.9l-0.8 0.9" fill="none" stroke="#8a8aa8" stroke-width="0.35"/>
<path d="M120.7 638.0l0.8 0.9l-0.8 0.9" fill="none" stroke="#8a8aa8" stroke-width="0.35"/>
<path d="M123.3 638.0l0.8 0.9l-0.8 0.9" fill="none" stroke="#8a8aa8" stroke-width="0.35"/>
<path d="M125.9 638.0l0.8 0.9l-0.8 0.9" fill="none" stroke="#8a8aa8" stroke-width="0.35"/>
<path d="M128.5 638.0l0.8 0.9l-0.8 0.9" fill="none" stroke="#8a8aa8" stroke-width="0.35"/>
<path d="M131.1 638.0l0.8 0.9l-0.8 0.9" fill="none" stroke="#8a8aa8" stroke-width="0.35"/>
<path d="M133.7 638.0l0.8 0.9l-0.8 0.9" fill="none" stroke="#8a8aa8" stroke-width="0.35"/>
<path d="M136.3 638.0l0.8 0.9l-0.8 0.9" fill="none" stroke="#8a8aa8" stroke-width="0.35"/>
<path d="M138.9 638.0l0.8 0.9l-0.8 0.9" fill="none" stroke="#8a8aa8" stroke-width="0.35"/>
<rect x="132.3" y="637.2" width="8.5" height="3.4" fill="#8484c8"/>
<line x1="132.8" y1="638.9" x2="140.3" y2="638.9" stroke="#4a4a90" stroke-width="0.6"/>
<line x1="95.3" y1="644.2" x2="136.5" y2="644.2" stroke="#5a5a78" stroke-width="0.9"/>
<path d="M97.3 643.3l0.8 0.9l-0.8 0.9" fill="none" stroke="#8a8aa8" stroke-width="0.35"/>
<path d="M99.9 643.3l0.8 0.9l-0.8 0.9" fill="none" stroke="#8a8aa8" stroke-width="0.35"/>
<path d="M102.5 643.3l0.8 0.9l-0.8 0.9" fill="none" stroke="#8a8aa8" stroke-width="0.35"/>
<path d="M105.1 643.3l0.8 0.9l-0.8 0.9" fill="none" stroke="#8a8aa8" stroke-width="0.35"/>
<path d="M107.7 643.3l0.8 0.9l-0.8 0.9" fill="none" stroke="#8a8aa8" stroke-width="0.35"/>
<path d="M110.3 643.3l0.8 0.9l-0.8 0.9" fill="none" stroke="#8a8aa8" stroke-width="0.35"/>
<path d="M112.9 643.3l0.8 0.9l-0.8 0.9" fill="none" stroke="#8a8aa8" stroke-width="0.35"/>
<path d="M115.5 643.3l0.8 0.9l-0.8 0.9" fill="none" stroke="#8a8aa8" stroke-width="0.35"/>
<path d="M118.1 643.3l0.8 0.9l-0.8 0.9" fill="none" stroke="#8a8aa8" stroke-width="0.35"/>
<path d="M120.7 643.3l0.8 0.9l-0.8 0.9" fill="none" stroke="#8a8aa8" stroke-width="0.35"/>
<path d="M123.3 643.3l0.8 0.9l-0.8 0.9" fill="none" stroke="#8a8aa8" stroke-width="0.35"/>
<path d="M125.9 643.3l0.8 0.9l-0.8 0.9" fill="none" stroke="#8a8aa8" stroke-width="0.35"/>
<path d="M128.5 643.3l0.8 0.9l-0.8 0.9" fill="none" stroke="#8a8aa8" stroke-width="0.35"/>
<path d="M131.1 643.3l0.8 0.9l-0.8 0.9" fill="none" stroke="#8a8aa8" stroke-width="0.35"/>
<path d="M133.7 643.3l0.8 0.9l-0.8 0.9" fill="none" stroke="#8a8aa8" stroke-width="0.35"/>
<rect x="132.3" y="642.5" width="4.2" height="3.4" fill="#8484c8"/>
<line x1="132.8" y1="644.2" x2="136.0" y2="644.2" stroke="#4a4a90" stroke-width="0.6"/>
<line x1="95.3" y1="649.6" x2="153" y2="649.6" stroke="#5a5a78" stroke-width="0.9"/>
<path d="M97.3 648.7l0.8 0.9l-0.8 0.9" fill="none" stroke="#8a8aa8" stroke-width="0.35"/>
<path d="M99.9 648.7l0.8 0.9l-0.8 0.9" fill="none" stroke="#8a8aa8" stroke-width="0.35"/>
<path d="M102.5 648.7l0.8 0.9l-0.8 0.9" fill="none" stroke="#8a8aa8" stroke-width="0.35"/>
<path d="M105.1 648.7l0.8 0.9l-0.8 0.9" fill="none" stroke="#8a8aa8" stroke-width="0.35"/>
<path d="M107.7 648.7l0.8 0.9l-0.8 0.9" fill="none" stroke="#8a8aa8" stroke-width="0.35"/>
<path d="M110.3 648.7l0.8 0.9l-0.8 0.9" fill="none" stroke="#8a8aa8" stroke-width="0.35"/>
<path d="M112.9 648.7l0.8 0.9l-0.8 0.9" fill="none" stroke="#8a8aa8" stroke-width="0.35"/>
<path d="M115.5 648.7l0.8 0.9l-0.8 0.9" fill="none" stroke="#8a8aa8" stroke-width="0.35"/>
<path d="M118.1 648.7l0.8 0.9l-0.8 0.9" fill="none" stroke="#8a8aa8" stroke-width="0.35"/>
<path d="M120.7 648.7l0.8 0.9l-0.8 0.9" fill="none" stroke="#8a8aa8" stroke-width="0.35"/>
<path d="M123.3 648.7l0.8 0.9l-0.8 0.9" fill="none" stroke="#8a8aa8" stroke-width="0.35"/>
<path d="M125.9 648.7l0.8 0.9l-0.8 0.9" fill="none" stroke="#8a8aa8" stroke-width="0.35"/>
<path d="M128.5 648.7l0.8 0.9l-0.8 0.9" fill="none" stroke="#8a8aa8" stroke-width="0.35"/>
<path d="M131.1 648.7l0.8 0.9l-0.8 0.9" fill="none" stroke="#8a8aa8" stroke-width="0.35"/>
<path d="M133.7 648.7l0.8 0.9l-0.8 0.9" fill="none" stroke="#8a8aa8" stroke-width="0.35"/>
<path d="M136.3 648.7l0.8 0.9l-0.8 0.9" fill="none" stroke="#8a8aa8" stroke-width="0.35"/>
<path d="M138.9 648.7l0.8 0.9l-0.8 0.9" fill="none" stroke="#8a8aa8" stroke-width="0.35"/>
<path d="M141.5 648.7l0.8 0.9l-0.8 0.9" fill="none" stroke="#8a8aa8" stroke-width="0.35"/>
<path d="M144.1 648.7l0.8 0.9l-0.8 0.9" fill="none" stroke="#8a8aa8" stroke-width="0.35"/>
<path d="M146.7 648.7l0.8 0.9l-0.8 0.9" fill="none" stroke="#8a8aa8" stroke-width="0.35"/>
<path d="M149.3 648.7l0.8 0.9l-0.8 0.9" fill="none" stroke="#8a8aa8" stroke-width="0.35"/>
<path d="M151.9 648.7l0.8 0.9l-0.8 0.9" fill="none" stroke="#8a8aa8" stroke-width="0.35"/>
<rect x="132.3" y="647.9" width="9.5" height="3.4" fill="#8484c8"/>
<line x1="132.8" y1="649.6" x2="141.3" y2="649.6" stroke="#4a4a90" stroke-width="0.6"/>
<rect x="143" y="647.9" width="1.5" height="3.4" fill="#8484c8"/>
<line x1="143.5" y1="649.6" x2="144.0" y2="649.6" stroke="#4a4a90" stroke-width="0.6"/>
<rect x="146" y="647.9" width="1.0" height="3.4" fill="#8484c8"/>
<line x1="146.5" y1="649.6" x2="146.5" y2="649.6" stroke="#4a4a90" stroke-width="0.6"/>
<rect x="149.5" y="647.9" width="3.5" height="3.4" fill="#8484c8"/>
<line x1="150.0" y1="649.6" x2="152.5" y2="649.6" stroke="#4a4a90" stroke-width="0.6"/>
<line x1="95.3" y1="654.9" x2="167.2" y2="654.9" stroke="#5a5a78" stroke-width="0.9"/>
<path d="M97.3 654.0l0.8 0.9l-0.8 0.9" fill="none" stroke="#8a8aa8" stroke-width="0.35"/>
<path d="M99.9 654.0l0.8 0.9l-0.8 0.9" fill="none" stroke="#8a8aa8" stroke-width="0.35"/>
<path d="M102.5 654.0l0.8 0.9l-0.8 0.9" fill="none" stroke="#8a8aa8" stroke-width="0.35"/>
<path d="M105.1 654.0l0.8 0.9l-0.8 0.9" fill="none" stroke="#8a8aa8" stroke-width="0.35"/>
<path d="M107.7 654.0l0.8 0.9l-0.8 0.9" fill="none" stroke="#8a8aa8" stroke-width="0.35"/>
<path d="M110.3 654.0l0.8 0.9l-0.8 0.9" fill="none" stroke="#8a8aa8" stroke-width="0.35"/>
<path d="M112.9 654.0l0.8 0.9l-0.8 0.9" fill="none" stroke="#8a8aa8" stroke-width="0.35"/>
<path d="M115.5 654.0l0.8 0.9l-0.8 0.9" fill="none" stroke="#8a8aa8" stroke-width="0.35"/>
<path d="M118.1 654.0l0.8 0.9l-0.8 0.9" fill="none" stroke="#8a8aa8" stroke-width="0.35"/>
<path d="M120.7 654.0l0.8 0.9l-0.8 0.9" fill="none" stroke="#8a8aa8" stroke-width="0.35"/>
<path d="M123.3 654.0l0.8 0.9l-0.8 0.9" fill="none" stroke="#8a8aa8" stroke-width="0.35"/>
<path d="M125.9 654.0l0.8 0.9l-0.8 0.9" fill="none" stroke="#8a8aa8" stroke-width="0.35"/>
<path d="M128.5 654.0l0.8 0.9l-0.8 0.9" fill="none" stroke="#8a8aa8" stroke-width="0.35"/>
<path d="M131.1 654.0l0.8 0.9l-0.8 0.9" fill="none" stroke="#8a8aa8" stroke-width="0.35"/>
<path d="M133.7 654.0l0.8 0.9l-0.8 0.9" fill="none" stroke="#8a8aa8" stroke-width="0.35"/>
<path d="M136.3 654.0l0.8 0.9l-0.8 0.9" fill="none" stroke="#8a8aa8" stroke-width="0.35"/>
<path d="M138.9 654.0l0.8 0.9l-0.8 0.9" fill="none" stroke="#8a8aa8" stroke-width="0.35"/>
<path d="M141.5 654.0l0.8 0.9l-0.8 0.9" fill="none" stroke="#8a8aa8" stroke-width="0.35"/>
<path d="M144.1 654.0l0.8 0.9l-0.8 0.9" fill="none" stroke="#8a8aa8" stroke-width="0.35"/>
<path d="M146.7 654.0l0.8 0.9l-0.8 0.9" fill="none" stroke="#8a8aa8" stroke-width="0.35"/>
<path d="M149.3 654.0l0.8 0.9l-0.8 0.9" fill="none" stroke="#8a8aa8" stroke-width="0.35"/>
<path d="M151.9 654.0l0.8 0.9l-0.8 0.9" fill="none" stroke="#8a8aa8" stroke-width="0.35"/>
<path d="M154.5 654.0l0.8 0.9l-0.8 0.9" fill="none" stroke="#8a8aa8" stroke-width="0.35"/>
<path d="M157.1 654.0l0.8 0.9l-0.8 0.9" fill="none" stroke="#8a8aa8" stroke-width="0.35"/>
<path d="M159.7 654.0l0.8 0.9l-0.8 0.9" fill="none" stroke="#8a8aa8" stroke-width="0.35"/>
<path d="M162.3 654.0l0.8 0.9l-0.8 0.9" fill="none" stroke="#8a8aa8" stroke-width="0.35"/>
<path d="M164.9 654.0l0.8 0.9l-0.8 0.9" fill="none" stroke="#8a8aa8" stroke-width="0.35"/>
<rect x="132.3" y="653.2" width="9.5" height="3.4" fill="#8484c8"/>
<line x1="132.8" y1="654.9" x2="141.3" y2="654.9" stroke="#4a4a90" stroke-width="0.6"/>
<line x1="95.3" y1="660.2" x2="124.9" y2="660.2" stroke="#6a9a7a" stroke-width="0.9"/>
<path d="M97.3 659.3l0.8 0.9l-0.8 0.9" fill="none" stroke="#8a8aa8" stroke-width="0.35"/>
<path d="M99.9 659.3l0.8 0.9l-0.8 0.9" fill="none" stroke="#8a8aa8" stroke-width="0.35"/>
<path d="M102.5 659.3l0.8 0.9l-0.8 0.9" fill="none" stroke="#8a8aa8" stroke-width="0.35"/>
<path d="M105.1 659.3l0.8 0.9l-0.8 0.9" fill="none" stroke="#8a8aa8" stroke-width="0.35"/>
<path d="M107.7 659.3l0.8 0.9l-0.8 0.9" fill="none" stroke="#8a8aa8" stroke-width="0.35"/>
<path d="M110.3 659.3l0.8 0.9l-0.8 0.9" fill="none" stroke="#8a8aa8" stroke-width="0.35"/>
<path d="M112.9 659.3l0.8 0.9l-0.8 0.9" fill="none" stroke="#8a8aa8" stroke-width="0.35"/>
<path d="M115.5 659.3l0.8 0.9l-0.8 0.9" fill="none" stroke="#8a8aa8" stroke-width="0.35"/>
<path d="M118.1 659.3l0.8 0.9l-0.8 0.9" fill="none" stroke="#8a8aa8" stroke-width="0.35"/>
<path d="M120.7 659.3l0.8 0.9l-0.8 0.9" fill="none" stroke="#8a8aa8" stroke-width="0.35"/>
<path d="M123.3 659.3l0.8 0.9l-0.8 0.9" fill="none" stroke="#8a8aa8" stroke-width="0.35"/>
<line x1="122.8" y1="665.6" x2="151.3" y2="665.6" stroke="#5a5a78" stroke-width="0.9"/>
<path d="M124.8 664.7l0.8 0.9l-0.8 0.9" fill="none" stroke="#8a8aa8" stroke-width="0.35"/>
<path d="M127.4 664.7l0.8 0.9l-0.8 0.9" fill="none" stroke="#8a8aa8" stroke-width="0.35"/>
<path d="M130.0 664.7l0.8 0.9l-0.8 0.9" fill="none" stroke="#8a8aa8" stroke-width="0.35"/>
<path d="M132.6 664.7l0.8 0.9l-0.8 0.9" fill="none" stroke="#8a8aa8" stroke-width="0.35"/>
<path d="M135.2 664.7l0.8 0.9l-0.8 0.9" fill="none" stroke="#8a8aa8" stroke-width="0.35"/>
<path d="M137.8 664.7l0.8 0.9l-0.8 0.9" fill="none" stroke="#8a8aa8" stroke-width="0.35"/>
<path d="M140.4 664.7l0.8 0.9l-0.8 0.9" fill="none" stroke="#8a8aa8" stroke-width="0.35"/>
<path d="M143.0 664.7l0.8 0.9l-0.8 0.9" fill="none" stroke="#8a8aa8" stroke-width="0.35"/>
<path d="M145.6 664.7l0.8 0.9l-0.8 0.9" fill="none" stroke="#8a8aa8" stroke-width="0.35"/>
<path d="M148.2 664.7l0.8 0.9l-0.8 0.9" fill="none" stroke="#8a8aa8" stroke-width="0.35"/>
<rect x="131" y="663.9" width="10.8" height="3.4" fill="#8484c8"/>
<line x1="131.5" y1="665.6" x2="141.3" y2="665.6" stroke="#4a4a90" stroke-width="0.6"/>
<rect x="143" y="663.9" width="1.0" height="3.4" fill="#8484c8"/>
<line x1="143.5" y1="665.6" x2="143.5" y2="665.6" stroke="#4a4a90" stroke-width="0.6"/>
<rect x="146" y="663.9" width="1.0" height="3.4" fill="#8484c8"/>
<line x1="146.5" y1="665.6" x2="146.5" y2="665.6" stroke="#4a4a90" stroke-width="0.6"/>
<rect x="150" y="663.9" width="1.3" height="3.4" fill="#8484c8"/>
<line x1="150.5" y1="665.6" x2="150.8" y2="665.6" stroke="#4a4a90" stroke-width="0.6"/>
<rect x="143.2" y="670" width="1.6" height="2.2" fill="#3a9a58"/>
<rect x="66.3" y="678.9" width="129" height="50.2" fill="#fff" stroke="#1a1a1a" stroke-width="1.1"/>
<text x="0" y="0" font-size="5.9" fill="#333" text-anchor="end" font-family="Liberation Sans, Arial, sans-serif" stroke="#333" stroke-width="0.08" transform="translate(63.60 683.20) scale(1 0.9)">GM12878 ChromHMM</text>
<text x="0" y="0" font-size="5.9" fill="#333" text-anchor="end" font-family="Liberation Sans, Arial, sans-serif" stroke="#333" stroke-width="0.08" transform="translate(63.60 688.60) scale(1 0.9)">H1-hESC ChromHMM</text>
<text x="0" y="0" font-size="5.9" fill="#333" text-anchor="end" font-family="Liberation Sans, Arial, sans-serif" stroke="#333" stroke-width="0.08" transform="translate(63.60 694.00) scale(1 0.9)">K562 ChromHMM</text>
<text x="0" y="0" font-size="5.9" fill="#333" text-anchor="end" font-family="Liberation Sans, Arial, sans-serif" stroke="#333" stroke-width="0.08" transform="translate(63.60 699.40) scale(1 0.9)">HepG2 ChromHMM</text>
<text x="0" y="0" font-size="5.9" fill="#333" text-anchor="end" font-family="Liberation Sans, Arial, sans-serif" stroke="#333" stroke-width="0.08" transform="translate(63.60 704.80) scale(1 0.9)">HUVEC ChromHMM</text>
<text x="0" y="0" font-size="5.9" fill="#333" text-anchor="end" font-family="Liberation Sans, Arial, sans-serif" stroke="#333" stroke-width="0.08" transform="translate(63.60 710.20) scale(1 0.9)">HMEC ChromHMM</text>
<text x="0" y="0" font-size="5.9" fill="#333" text-anchor="end" font-family="Liberation Sans, Arial, sans-serif" stroke="#333" stroke-width="0.08" transform="translate(63.60 715.50) scale(1 0.9)">HSMM ChromHMM</text>
<text x="0" y="0" font-size="5.9" fill="#333" text-anchor="end" font-family="Liberation Sans, Arial, sans-serif" stroke="#333" stroke-width="0.08" transform="translate(63.60 720.90) scale(1 0.9)">NHEK ChromHMM</text>
<text x="0" y="0" font-size="5.9" fill="#333" text-anchor="end" font-family="Liberation Sans, Arial, sans-serif" stroke="#333" stroke-width="0.08" transform="translate(63.60 726.30) scale(1 0.9)">NHLF ChromHMM</text>
<rect x="94.4" y="679.4" width="1.2" height="4.6" fill="#7a7a86"/>
<rect x="109.7" y="679.4" width="2.6" height="4.6" fill="#c4d448"/>
<rect x="119.2" y="679.4" width="1.0" height="4.6" fill="#8a78a8"/>
<rect x="128.2" y="679.4" width="1.2" height="4.6" fill="#c4d448"/>
<rect x="130" y="679.4" width="1.5" height="4.6" fill="#c4d448"/>
<rect x="160" y="679.4" width="1.5" height="4.6" fill="#7a7a86"/>
<rect x="166" y="679.4" width="1.0" height="4.6" fill="#7a7a86"/>
<rect x="171" y="679.4" width="1.0" height="4.6" fill="#7a7a86"/>
<rect x="180" y="679.4" width="2.5" height="4.6" fill="#c4d448"/>
<rect x="94.4" y="684.9" width="1.0" height="4.6" fill="#7a7a86"/>
<rect x="112.9" y="684.9" width="10.0" height="4.6" fill="#c4d448"/>
<rect x="127.8" y="684.9" width="1.2" height="4.6" fill="#c4d448"/>
<rect x="130" y="684.9" width="2.0" height="4.6" fill="#c4d448"/>
<rect x="146" y="684.9" width="1.0" height="4.6" fill="#f4ee9a"/>
<rect x="166" y="684.9" width="1.0" height="4.6" fill="#7a7a86"/>
<rect x="179.4" y="684.9" width="1.6" height="4.6" fill="#c4d448"/>
<rect x="182.5" y="684.9" width="1.0" height="4.6" fill="#7a7a86"/>
<rect x="105.3" y="690.3" width="1.5" height="4.6" fill="#7a7a86"/>
<rect x="117.4" y="690.3" width="2.0" height="4.6" fill="#7a7a86"/>
<rect x="130" y="690.3" width="1.0" height="4.6" fill="#f4ee9a"/>
<rect x="133.1" y="690.3" width="4.4" height="4.6" fill="#7a7a86"/>
<rect x="141.9" y="690.3" width="3.1" height="4.6" fill="#7a7a86"/>
<rect x="146.2" y="690.3" width="1.3" height="4.6" fill="#8a78a8"/>
<rect x="151.9" y="690.3" width="2.1" height="4.6" fill="#7a7a86"/>
<rect x="160" y="690.3" width="1.0" height="4.6" fill="#7a7a86"/>
<rect x="166.2" y="690.3" width="1.8" height="4.6" fill="#7a7a86"/>
<rect x="170" y="690.3" width="2.5" height="4.6" fill="#7a7a86"/>
<rect x="177.5" y="690.3" width="1.0" height="4.6" fill="#7a7a86"/>
<rect x="182.5" y="690.3" width="1.0" height="4.6" fill="#7a7a86"/>
<rect x="84.5" y="695.8" width="4.0" height="4.6" fill="#c4d448"/>
<rect x="94" y="695.8" width="2.0" height="4.6" fill="#8a78a8"/>
<rect x="99.5" y="695.8" width="1.0" height="4.6" fill="#eedd3c"/>
<rect x="109" y="695.8" width="8.3" height="4.6" fill="#eedd3c"/>
<rect x="127.8" y="695.8" width="1.2" height="4.6" fill="#c4d448"/>
<rect x="132.5" y="695.8" width="3.1" height="4.6" fill="#c4d448"/>
<rect x="140" y="695.8" width="3.8" height="4.6" fill="#eedd3c"/>
<rect x="146.9" y="695.8" width="5.6" height="4.6" fill="#12a84a"/>
<rect x="160" y="695.8" width="1.0" height="4.6" fill="#7a7a86"/>
<rect x="163" y="695.8" width="3.2" height="4.6" fill="#7a7a86"/>
<rect x="171.5" y="695.8" width="1.0" height="4.6" fill="#7a7a86"/>
<rect x="69.8" y="701.2" width="8.7" height="4.6" fill="#7a7a86"/>
<rect x="79.5" y="701.2" width="2.0" height="4.6" fill="#7a7a86"/>
<rect x="82.9" y="701.2" width="3.7" height="4.6" fill="#7a7a86"/>
<rect x="90.4" y="701.2" width="5.0" height="4.6" fill="#7a7a86"/>
<rect x="106" y="701.2" width="5.0" height="4.6" fill="#c4d448"/>
<rect x="113.9" y="701.2" width="7.1" height="4.6" fill="#7a7a86"/>
<rect x="125.7" y="701.2" width="2.2" height="4.6" fill="#7a7a86"/>
<rect x="128" y="701.2" width="25.0" height="4.6" fill="#eedd3c"/>
<rect x="156.2" y="701.2" width="5.7" height="4.6" fill="#7a7a86"/>
<rect x="165.6" y="701.2" width="6.3" height="4.6" fill="#7a7a86"/>
<rect x="175" y="701.2" width="3.1" height="4.6" fill="#7a7a86"/>
<rect x="179.8" y="701.2" width="1.7" height="4.6" fill="#7a7a86"/>
<rect x="186.9" y="701.2" width="4.3" height="4.6" fill="#7a7a86"/>
<rect x="69.8" y="706.6" width="3.7" height="4.6" fill="#c4d448"/>
<rect x="77.9" y="706.6" width="10.6" height="4.6" fill="#eedd3c"/>
<rect x="94.8" y="706.6" width="1.5" height="4.6" fill="#e8902a"/>
<rect x="97.9" y="706.6" width="6.2" height="4.6" fill="#12a84a"/>
<rect x="104.1" y="706.6" width="8.8" height="4.6" fill="#c4d448"/>
<rect x="112.9" y="706.6" width="6.2" height="4.6" fill="#12a84a"/>
<rect x="119.1" y="706.6" width="5.0" height="4.6" fill="#eedd3c"/>
<rect x="124.1" y="706.6" width="3.8" height="4.6" fill="#12a84a"/>
<rect x="128" y="706.6" width="4.5" height="4.6" fill="#eedd3c"/>
<rect x="132.5" y="706.6" width="21.0" height="4.6" fill="#12a84a"/>
<rect x="163" y="706.6" width="1.0" height="4.6" fill="#7a7a86"/>
<rect x="167" y="706.6" width="1.0" height="4.6" fill="#7a7a86"/>
<rect x="172" y="706.6" width="1.0" height="4.6" fill="#7a7a86"/>
<rect x="76.6" y="712.1" width="3.8" height="4.6" fill="#c4d448"/>
<rect x="84.5" y="712.1" width="3.5" height="4.6" fill="#c4d448"/>
<rect x="94.8" y="712.1" width="1.5" height="4.6" fill="#e8902a"/>
<rect x="97" y="712.1" width="7.0" height="4.6" fill="#6cc43c"/>
<rect x="104" y="712.1" width="6.0" height="4.6" fill="#eedd3c"/>
<rect x="110" y="712.1" width="5.0" height="4.6" fill="#6cc43c"/>
<rect x="115" y="712.1" width="5.0" height="4.6" fill="#eedd3c"/>
<rect x="120" y="712.1" width="6.0" height="4.6" fill="#6cc43c"/>
<rect x="126" y="712.1" width="4.0" height="4.6" fill="#eedd3c"/>
<rect x="130" y="712.1" width="2.5" height="4.6" fill="#eedd3c"/>
<rect x="132.5" y="712.1" width="12.0" height="4.6" fill="#12a84a"/>
<rect x="144.5" y="712.1" width="2.5" height="4.6" fill="#c4d448"/>
<rect x="147" y="712.1" width="6.5" height="4.6" fill="#12a84a"/>
<rect x="160" y="712.1" width="3.0" height="4.6" fill="#c4d448"/>
<rect x="166" y="712.1" width="6.0" height="4.6" fill="#7a7a86"/>
<rect x="174" y="712.1" width="2.0" height="4.6" fill="#c4d448"/>
<rect x="180" y="712.1" width="1.0" height="4.6" fill="#eedd3c"/>
<rect x="186" y="712.1" width="1.0" height="4.6" fill="#c4d448"/>
<rect x="69.8" y="717.5" width="3.7" height="4.6" fill="#c4d448"/>
<rect x="78" y="717.5" width="3.0" height="4.6" fill="#c4d448"/>
<rect x="85" y="717.5" width="3.0" height="4.6" fill="#eedd3c"/>
<rect x="94.8" y="717.5" width="1.5" height="4.6" fill="#e8902a"/>
<rect x="97.9" y="717.5" width="6.2" height="4.6" fill="#12a84a"/>
<rect x="104.1" y="717.5" width="5.9" height="4.6" fill="#eedd3c"/>
<rect x="110" y="717.5" width="3.0" height="4.6" fill="#c4d448"/>
<rect x="113" y="717.5" width="7.0" height="4.6" fill="#12a84a"/>
<rect x="121" y="717.5" width="4.0" height="4.6" fill="#eedd3c"/>
<rect x="125" y="717.5" width="3.0" height="4.6" fill="#12a84a"/>
<rect x="128" y="717.5" width="4.5" height="4.6" fill="#eedd3c"/>
<rect x="132.5" y="717.5" width="12.0" height="4.6" fill="#12a84a"/>
<rect x="144.5" y="717.5" width="2.5" height="4.6" fill="#c4d448"/>
<rect x="147" y="717.5" width="6.5" height="4.6" fill="#12a84a"/>
<rect x="156" y="717.5" width="6.0" height="4.6" fill="#7a7a86"/>
<rect x="165" y="717.5" width="8.0" height="4.6" fill="#8a78a8"/>
<rect x="174" y="717.5" width="2.0" height="4.6" fill="#7a7a86"/>
<rect x="178" y="717.5" width="4.0" height="4.6" fill="#7a7a86"/>
<rect x="186" y="717.5" width="4.0" height="4.6" fill="#7a7a86"/>
<rect x="76.6" y="723.0" width="3.8" height="4.6" fill="#c4d448"/>
<rect x="84" y="723.0" width="4.0" height="4.6" fill="#c4d448"/>
<rect x="94.8" y="723.0" width="1.5" height="4.6" fill="#e8902a"/>
<rect x="97" y="723.0" width="7.0" height="4.6" fill="#6cc43c"/>
<rect x="104" y="723.0" width="6.0" height="4.6" fill="#eedd3c"/>
<rect x="110" y="723.0" width="7.0" height="4.6" fill="#6cc43c"/>
<rect x="117" y="723.0" width="7.0" height="4.6" fill="#eedd3c"/>
<rect x="124" y="723.0" width="6.0" height="4.6" fill="#6cc43c"/>
<rect x="130" y="723.0" width="2.5" height="4.6" fill="#eedd3c"/>
<rect x="132.5" y="723.0" width="10.5" height="4.6" fill="#12a84a"/>
<rect x="144" y="723.0" width="3.0" height="4.6" fill="#c4d448"/>
<rect x="147" y="723.0" width="6.5" height="4.6" fill="#12a84a"/>
<rect x="156" y="723.0" width="6.0" height="4.6" fill="#7a7a86"/>
<rect x="163" y="723.0" width="3.0" height="4.6" fill="#c4d448"/>
<rect x="167" y="723.0" width="13.0" height="4.6" fill="#8282b4"/>
<rect x="182" y="723.0" width="6.0" height="4.6" fill="#7a7a86"/>
<rect x="66.3" y="678.9" width="129" height="50.2" fill="none" stroke="#1a1a1a" stroke-width="1.1"/>
<line x1="129.5" y1="729" x2="129.5" y2="736.5" stroke="#111" stroke-width="1"/>
<line x1="189.6" y1="729" x2="189.6" y2="736.5" stroke="#111" stroke-width="1"/>
<text x="0" y="0" font-size="5.95" fill="#222" text-anchor="end" font-family="Liberation Sans, Arial, sans-serif" stroke="#222" stroke-width="0.08" transform="translate(127.40 735.80) scale(1 1.15)">55,200,000</text>
<text x="0" y="0" font-size="5.95" fill="#222" text-anchor="end" font-family="Liberation Sans, Arial, sans-serif" stroke="#222" stroke-width="0.08" transform="translate(187.40 735.80) scale(1 1.15)">55,400,000</text>
<text x="216.3" y="15.0" font-size="16" font-weight="bold" font-family="Liberation Sans, Arial, sans-serif" stroke="#000" stroke-width="0.06">D</text>
<line x1="381.8" y1="24.3" x2="381.8" y2="377.2" stroke="#f0f0f0" stroke-width="0.5"/>
<line x1="395.2" y1="24.3" x2="395.2" y2="377.2" stroke="#e6e6e6" stroke-width="0.7"/>
<line x1="408.6" y1="24.3" x2="408.6" y2="377.2" stroke="#f0f0f0" stroke-width="0.5"/>
<line x1="422.1" y1="24.3" x2="422.1" y2="377.2" stroke="#e6e6e6" stroke-width="0.7"/>
<line x1="435.5" y1="24.3" x2="435.5" y2="377.2" stroke="#f0f0f0" stroke-width="0.5"/>
<line x1="448.9" y1="24.3" x2="448.9" y2="377.2" stroke="#e6e6e6" stroke-width="0.7"/>
<line x1="462.3" y1="24.3" x2="462.3" y2="377.2" stroke="#f0f0f0" stroke-width="0.5"/>
<line x1="373.0" y1="30.2" x2="468.6" y2="30.2" stroke="#ececec" stroke-width="0.6"/>
<line x1="373.0" y1="40.2" x2="468.6" y2="40.2" stroke="#ececec" stroke-width="0.6"/>
<line x1="373.0" y1="50.2" x2="468.6" y2="50.2" stroke="#ececec" stroke-width="0.6"/>
<line x1="373.0" y1="60.3" x2="468.6" y2="60.3" stroke="#ececec" stroke-width="0.6"/>
<line x1="373.0" y1="70.3" x2="468.6" y2="70.3" stroke="#ececec" stroke-width="0.6"/>
<line x1="373.0" y1="80.3" x2="468.6" y2="80.3" stroke="#ececec" stroke-width="0.6"/>
<line x1="373.0" y1="90.3" x2="468.6" y2="90.3" stroke="#ececec" stroke-width="0.6"/>
<line x1="373.0" y1="100.3" x2="468.6" y2="100.3" stroke="#ececec" stroke-width="0.6"/>
<line x1="373.0" y1="110.4" x2="468.6" y2="110.4" stroke="#ececec" stroke-width="0.6"/>
<line x1="373.0" y1="120.4" x2="468.6" y2="120.4" stroke="#ececec" stroke-width="0.6"/>
<line x1="373.0" y1="130.4" x2="468.6" y2="130.4" stroke="#ececec" stroke-width="0.6"/>
<line x1="373.0" y1="140.4" x2="468.6" y2="140.4" stroke="#ececec" stroke-width="0.6"/>
<line x1="373.0" y1="150.4" x2="468.6" y2="150.4" stroke="#ececec" stroke-width="0.6"/>
<line x1="373.0" y1="160.5" x2="468.6" y2="160.5" stroke="#ececec" stroke-width="0.6"/>
<line x1="373.0" y1="170.5" x2="468.6" y2="170.5" stroke="#ececec" stroke-width="0.6"/>
<line x1="373.0" y1="180.5" x2="468.6" y2="180.5" stroke="#ececec" stroke-width="0.6"/>
<line x1="373.0" y1="190.5" x2="468.6" y2="190.5" stroke="#ececec" stroke-width="0.6"/>
<line x1="373.0" y1="200.5" x2="468.6" y2="200.5" stroke="#ececec" stroke-width="0.6"/>
<line x1="373.0" y1="210.6" x2="468.6" y2="210.6" stroke="#ececec" stroke-width="0.6"/>
<line x1="373.0" y1="220.6" x2="468.6" y2="220.6" stroke="#ececec" stroke-width="0.6"/>
<line x1="373.0" y1="230.6" x2="468.6" y2="230.6" stroke="#ececec" stroke-width="0.6"/>
<line x1="373.0" y1="240.6" x2="468.6" y2="240.6" stroke="#ececec" stroke-width="0.6"/>
<line x1="373.0" y1="250.6" x2="468.6" y2="250.6" stroke="#ececec" stroke-width="0.6"/>
<line x1="373.0" y1="260.7" x2="468.6" y2="260.7" stroke="#ececec" stroke-width="0.6"/>
<line x1="373.0" y1="270.7" x2="468.6" y2="270.7" stroke="#ececec" stroke-width="0.6"/>
<line x1="373.0" y1="280.7" x2="468.6" y2="280.7" stroke="#ececec" stroke-width="0.6"/>
<line x1="373.0" y1="290.7" x2="468.6" y2="290.7" stroke="#ececec" stroke-width="0.6"/>
<line x1="373.0" y1="300.7" x2="468.6" y2="300.7" stroke="#ececec" stroke-width="0.6"/>
<line x1="373.0" y1="310.8" x2="468.6" y2="310.8" stroke="#ececec" stroke-width="0.6"/>
<line x1="373.0" y1="320.8" x2="468.6" y2="320.8" stroke="#ececec" stroke-width="0.6"/>
<line x1="373.0" y1="330.8" x2="468.6" y2="330.8" stroke="#ececec" stroke-width="0.6"/>
<line x1="373.0" y1="340.8" x2="468.6" y2="340.8" stroke="#ececec" stroke-width="0.6"/>
<line x1="373.0" y1="350.8" x2="468.6" y2="350.8" stroke="#ececec" stroke-width="0.6"/>
<line x1="373.0" y1="360.9" x2="468.6" y2="360.9" stroke="#ececec" stroke-width="0.6"/>
<line x1="373.0" y1="370.9" x2="468.6" y2="370.9" stroke="#ececec" stroke-width="0.6"/>
<circle cx="465.0" cy="30.2" r="3.4" fill="#b97d72" stroke="#555" stroke-width="0.25" stroke-opacity="0.5"/>
<circle cx="452.1" cy="40.2" r="3.2" fill="#cf8466" stroke="#555" stroke-width="0.25" stroke-opacity="0.5"/>
<circle cx="444.9" cy="50.2" r="3.3" fill="#a0738c" stroke="#555" stroke-width="0.25" stroke-opacity="0.5"/>
<circle cx="443.5" cy="60.3" r="5.4" fill="#4a78cc" stroke="#2a58a8" stroke-width="0.5"/>
<circle cx="444.8" cy="60.3" r="5.1000000000000005" fill="none" stroke="#fff" stroke-width="0.7" opacity="0.9"/>
<circle cx="444.1" cy="60.3" r="5.6000000000000005" fill="none" stroke="#3a68b8" stroke-width="0.6"/>
<circle cx="441.5" cy="70.3" r="3.2" fill="#b07a78" stroke="#555" stroke-width="0.25" stroke-opacity="0.5"/>
<circle cx="436.7" cy="80.3" r="1.3" fill="#d06a3a" stroke="#555" stroke-width="0.25" stroke-opacity="0.5"/>
<circle cx="432.4" cy="90.3" r="2.6" fill="#8a7a8c" stroke="#555" stroke-width="0.25" stroke-opacity="0.5"/>
<circle cx="431.9" cy="100.3" r="2.8" fill="#7a789c" stroke="#555" stroke-width="0.25" stroke-opacity="0.5"/>
<circle cx="426.4" cy="110.4" r="2.3" fill="#8c7676" stroke="#555" stroke-width="0.25" stroke-opacity="0.5"/>
<circle cx="425.9" cy="120.4" r="2.4" fill="#8a7882" stroke="#555" stroke-width="0.25" stroke-opacity="0.5"/>
<circle cx="414.0" cy="130.4" r="3.2" fill="#4a78c8" stroke="#555" stroke-width="0.25" stroke-opacity="0.5"/>
<circle cx="411.3" cy="140.4" r="2.6" fill="#6a709a" stroke="#555" stroke-width="0.25" stroke-opacity="0.5"/>
<circle cx="410.8" cy="150.4" r="2.4" fill="#787890" stroke="#555" stroke-width="0.25" stroke-opacity="0.5"/>
<circle cx="410.8" cy="160.5" r="2.4" fill="#787892" stroke="#555" stroke-width="0.25" stroke-opacity="0.5"/>
<circle cx="409.3" cy="170.5" r="2.4" fill="#6a7098" stroke="#555" stroke-width="0.25" stroke-opacity="0.5"/>
<circle cx="404.4" cy="180.5" r="2.4" fill="#5a70a8" stroke="#555" stroke-width="0.25" stroke-opacity="0.5"/>
<circle cx="402.3" cy="190.5" r="1.8" fill="#8a7a70" stroke="#555" stroke-width="0.25" stroke-opacity="0.5"/>
<circle cx="401.7" cy="200.5" r="2.8" fill="#5a6eb0" stroke="#555" stroke-width="0.25" stroke-opacity="0.5"/>
<circle cx="401.0" cy="210.6" r="3.0" fill="#4a70c0" stroke="#555" stroke-width="0.25" stroke-opacity="0.5"/>
<circle cx="400.7" cy="220.6" r="1.8" fill="#8a7a70" stroke="#555" stroke-width="0.25" stroke-opacity="0.5"/>
<circle cx="399.5" cy="230.6" r="2.5" fill="#707090" stroke="#555" stroke-width="0.25" stroke-opacity="0.5"/>
<circle cx="395.8" cy="240.6" r="2.8" fill="#4a6ec0" stroke="#555" stroke-width="0.25" stroke-opacity="0.5"/>
<circle cx="395.8" cy="250.6" r="3.8" fill="#3a70c8" stroke="#555" stroke-width="0.25" stroke-opacity="0.5"/>
<circle cx="394.2" cy="260.7" r="2.2" fill="#6a6a98" stroke="#555" stroke-width="0.25" stroke-opacity="0.5"/>
<circle cx="390.9" cy="270.7" r="3.5" fill="#3a70c8" stroke="#555" stroke-width="0.25" stroke-opacity="0.5"/>
<circle cx="390.6" cy="280.7" r="2.8" fill="#4a6eb8" stroke="#555" stroke-width="0.25" stroke-opacity="0.5"/>
<circle cx="385.2" cy="290.7" r="2.2" fill="#6a6a98" stroke="#555" stroke-width="0.25" stroke-opacity="0.5"/>
<circle cx="383.8" cy="300.7" r="1.5" fill="#6a6a78" stroke="#555" stroke-width="0.25" stroke-opacity="0.5"/>
<circle cx="383.8" cy="310.8" r="1.5" fill="#6a6a78" stroke="#555" stroke-width="0.25" stroke-opacity="0.5"/>
<circle cx="383.2" cy="320.8" r="2.0" fill="#6a6a90" stroke="#555" stroke-width="0.25" stroke-opacity="0.5"/>
<circle cx="381.4" cy="330.8" r="2.3" fill="#5a68b0" stroke="#555" stroke-width="0.25" stroke-opacity="0.5"/>
<circle cx="381.1" cy="340.8" r="1.8" fill="#6a6a88" stroke="#555" stroke-width="0.25" stroke-opacity="0.5"/>
<circle cx="378.7" cy="350.8" r="3.5" fill="#3a70b8" stroke="#555" stroke-width="0.25" stroke-opacity="0.5"/>
<circle cx="378.4" cy="360.9" r="1.0" fill="#6a6a80" stroke="#555" stroke-width="0.25" stroke-opacity="0.5"/>
<circle cx="377.3" cy="370.9" r="1.8" fill="#6a6a80" stroke="#555" stroke-width="0.25" stroke-opacity="0.5"/>
<rect x="373.0" y="24.3" width="95.6" height="352.9" fill="none" stroke="#222" stroke-width="1.1"/>
<line x1="370.8" y1="30.2" x2="373.0" y2="30.2" stroke="#222" stroke-width="0.7"/>
<text x="0" y="0" font-size="6.05" fill="#222" text-anchor="end" font-family="Liberation Sans, Arial, sans-serif" stroke="#222" stroke-width="0.08" transform="translate(367.90 32.10) scale(1 1.1)">Renal cell carcinoma</text>
<line x1="370.8" y1="40.2" x2="373.0" y2="40.2" stroke="#222" stroke-width="0.7"/>
<text x="0" y="0" font-size="6.05" fill="#222" text-anchor="end" font-family="Liberation Sans, Arial, sans-serif" stroke="#222" stroke-width="0.08" transform="translate(367.90 42.20) scale(1 1.1)">Non−small cell lung cancer</text>
<line x1="370.8" y1="50.2" x2="373.0" y2="50.2" stroke="#222" stroke-width="0.7"/>
<text x="0" y="0" font-size="6.05" fill="#222" text-anchor="end" font-family="Liberation Sans, Arial, sans-serif" stroke="#222" stroke-width="0.08" transform="translate(367.90 52.40) scale(1 1.1)">Prostate cancer</text>
<line x1="370.8" y1="60.3" x2="373.0" y2="60.3" stroke="#222" stroke-width="0.7"/>
<text x="0" y="0" font-size="6.05" fill="#222" text-anchor="end" font-family="Liberation Sans, Arial, sans-serif" stroke="#222" stroke-width="0.08" transform="translate(367.90 62.50) scale(1 1.1)">Pathways in cancer</text>
<line x1="370.8" y1="70.3" x2="373.0" y2="70.3" stroke="#222" stroke-width="0.7"/>
<text x="0" y="0" font-size="6.05" fill="#222" text-anchor="end" font-family="Liberation Sans, Arial, sans-serif" stroke="#222" stroke-width="0.08" transform="translate(367.90 72.60) scale(1 1.1)">Glioma</text>
<line x1="370.8" y1="80.3" x2="373.0" y2="80.3" stroke="#222" stroke-width="0.7"/>
<text x="0" y="0" font-size="6.05" fill="#222" text-anchor="end" font-family="Liberation Sans, Arial, sans-serif" stroke="#222" stroke-width="0.08" transform="translate(367.90 82.80) scale(1 1.1)">Glycosylphosphatidylinositol(GPI)−anchor biosynthesis</text>
<line x1="370.8" y1="90.3" x2="373.0" y2="90.3" stroke="#222" stroke-width="0.7"/>
<text x="0" y="0" font-size="6.05" fill="#222" text-anchor="end" font-family="Liberation Sans, Arial, sans-serif" stroke="#222" stroke-width="0.08" transform="translate(367.90 92.90) scale(1 1.1)">Pancreatic cancer</text>
<line x1="370.8" y1="100.3" x2="373.0" y2="100.3" stroke="#222" stroke-width="0.7"/>
<text x="0" y="0" font-size="6.05" fill="#222" text-anchor="end" font-family="Liberation Sans, Arial, sans-serif" stroke="#222" stroke-width="0.08" transform="translate(367.90 103.00) scale(1 1.1)">Toll−like receptor signaling pathway</text>
<line x1="370.8" y1="110.4" x2="373.0" y2="110.4" stroke="#222" stroke-width="0.7"/>
<text x="0" y="0" font-size="6.05" fill="#222" text-anchor="end" font-family="Liberation Sans, Arial, sans-serif" stroke="#222" stroke-width="0.08" transform="translate(367.90 113.10) scale(1 1.1)">Acute myeloid leukemia</text>
<line x1="370.8" y1="120.4" x2="373.0" y2="120.4" stroke="#222" stroke-width="0.7"/>
<text x="0" y="0" font-size="6.05" fill="#222" text-anchor="end" font-family="Liberation Sans, Arial, sans-serif" stroke="#222" stroke-width="0.08" transform="translate(367.90 123.30) scale(1 1.1)">Chronic myeloid leukemia</text>
<line x1="370.8" y1="130.4" x2="373.0" y2="130.4" stroke="#222" stroke-width="0.7"/>
<text x="0" y="0" font-size="6.05" fill="#222" text-anchor="end" font-family="Liberation Sans, Arial, sans-serif" stroke="#222" stroke-width="0.08" transform="translate(367.90 133.40) scale(1 1.1)">Endocytosis</text>
<line x1="370.8" y1="140.4" x2="373.0" y2="140.4" stroke="#222" stroke-width="0.7"/>
<text x="0" y="0" font-size="6.05" fill="#222" text-anchor="end" font-family="Liberation Sans, Arial, sans-serif" stroke="#222" stroke-width="0.08" transform="translate(367.90 143.50) scale(1 1.1)">Fc gamma R−mediated phagocytosis</text>
<line x1="370.8" y1="150.4" x2="373.0" y2="150.4" stroke="#222" stroke-width="0.7"/>
<text x="0" y="0" font-size="6.05" fill="#222" text-anchor="end" font-family="Liberation Sans, Arial, sans-serif" stroke="#222" stroke-width="0.08" transform="translate(367.90 153.70) scale(1 1.1)">Melanoma</text>
<line x1="370.8" y1="160.5" x2="373.0" y2="160.5" stroke="#222" stroke-width="0.7"/>
<text x="0" y="0" font-size="6.05" fill="#222" text-anchor="end" font-family="Liberation Sans, Arial, sans-serif" stroke="#222" stroke-width="0.08" transform="translate(367.90 163.80) scale(1 1.1)">Adherens junction</text>
<line x1="370.8" y1="170.5" x2="373.0" y2="170.5" stroke="#222" stroke-width="0.7"/>
<text x="0" y="0" font-size="6.05" fill="#222" text-anchor="end" font-family="Liberation Sans, Arial, sans-serif" stroke="#222" stroke-width="0.08" transform="translate(367.90 173.90) scale(1 1.1)">Colorectal cancer</text>
<line x1="370.8" y1="180.5" x2="373.0" y2="180.5" stroke="#222" stroke-width="0.7"/>
<text x="0" y="0" font-size="6.05" fill="#222" text-anchor="end" font-family="Liberation Sans, Arial, sans-serif" stroke="#222" stroke-width="0.08" transform="translate(367.90 184.10) scale(1 1.1)">ErbB signaling pathway</text>
<line x1="370.8" y1="190.5" x2="373.0" y2="190.5" stroke="#222" stroke-width="0.7"/>
<text x="0" y="0" font-size="6.05" fill="#222" text-anchor="end" font-family="Liberation Sans, Arial, sans-serif" stroke="#222" stroke-width="0.08" transform="translate(367.90 194.20) scale(1 1.1)">Endometrial cancer</text>
<line x1="370.8" y1="200.5" x2="373.0" y2="200.5" stroke="#222" stroke-width="0.7"/>
<text x="0" y="0" font-size="6.05" fill="#222" text-anchor="end" font-family="Liberation Sans, Arial, sans-serif" stroke="#222" stroke-width="0.08" transform="translate(367.90 204.30) scale(1 1.1)">T cell receptor signaling pathway</text>
<line x1="370.8" y1="210.6" x2="373.0" y2="210.6" stroke="#222" stroke-width="0.7"/>
<text x="0" y="0" font-size="6.05" fill="#222" text-anchor="end" font-family="Liberation Sans, Arial, sans-serif" stroke="#222" stroke-width="0.08" transform="translate(367.90 214.40) scale(1 1.1)">Insulin signaling pathway</text>
<line x1="370.8" y1="220.6" x2="373.0" y2="220.6" stroke="#222" stroke-width="0.7"/>
<text x="0" y="0" font-size="6.05" fill="#222" text-anchor="end" font-family="Liberation Sans, Arial, sans-serif" stroke="#222" stroke-width="0.08" transform="translate(367.90 224.60) scale(1 1.1)">Proteasome</text>
<line x1="370.8" y1="230.6" x2="373.0" y2="230.6" stroke="#222" stroke-width="0.7"/>
<text x="0" y="0" font-size="6.05" fill="#222" text-anchor="end" font-family="Liberation Sans, Arial, sans-serif" stroke="#222" stroke-width="0.08" transform="translate(367.90 234.70) scale(1 1.1)">Small cell lung cancer</text>
<line x1="370.8" y1="240.6" x2="373.0" y2="240.6" stroke="#222" stroke-width="0.7"/>
<text x="0" y="0" font-size="6.05" fill="#222" text-anchor="end" font-family="Liberation Sans, Arial, sans-serif" stroke="#222" stroke-width="0.08" transform="translate(367.90 244.80) scale(1 1.1)">Spliceosome</text>
<line x1="370.8" y1="250.6" x2="373.0" y2="250.6" stroke="#222" stroke-width="0.7"/>
<text x="0" y="0" font-size="6.05" fill="#222" text-anchor="end" font-family="Liberation Sans, Arial, sans-serif" stroke="#222" stroke-width="0.08" transform="translate(367.90 255.00) scale(1 1.1)">MAPK signaling pathway</text>
<line x1="370.8" y1="260.7" x2="373.0" y2="260.7" stroke="#222" stroke-width="0.7"/>
<text x="0" y="0" font-size="6.05" fill="#222" text-anchor="end" font-family="Liberation Sans, Arial, sans-serif" stroke="#222" stroke-width="0.08" transform="translate(367.90 265.10) scale(1 1.1)">VEGF signaling pathway</text>
<line x1="370.8" y1="270.7" x2="373.0" y2="270.7" stroke="#222" stroke-width="0.7"/>
<text x="0" y="0" font-size="6.05" fill="#222" text-anchor="end" font-family="Liberation Sans, Arial, sans-serif" stroke="#222" stroke-width="0.08" transform="translate(367.90 275.20) scale(1 1.1)">Regulation of actin cytoskeleton</text>
<line x1="370.8" y1="280.7" x2="373.0" y2="280.7" stroke="#222" stroke-width="0.7"/>
<text x="0" y="0" font-size="6.05" fill="#222" text-anchor="end" font-family="Liberation Sans, Arial, sans-serif" stroke="#222" stroke-width="0.08" transform="translate(367.90 285.40) scale(1 1.1)">Neurotrophin signaling pathway</text>
<line x1="370.8" y1="290.7" x2="373.0" y2="290.7" stroke="#222" stroke-width="0.7"/>
<text x="0" y="0" font-size="6.05" fill="#222" text-anchor="end" font-family="Liberation Sans, Arial, sans-serif" stroke="#222" stroke-width="0.08" transform="translate(367.90 295.50) scale(1 1.1)">B cell receptor signaling pathway</text>
<line x1="370.8" y1="300.7" x2="373.0" y2="300.7" stroke="#222" stroke-width="0.7"/>
<text x="0" y="0" font-size="6.05" fill="#222" text-anchor="end" font-family="Liberation Sans, Arial, sans-serif" stroke="#222" stroke-width="0.08" transform="translate(367.90 305.60) scale(1 1.1)">Valine, leucine and isoleucine degradation</text>
<line x1="370.8" y1="310.8" x2="373.0" y2="310.8" stroke="#222" stroke-width="0.7"/>
<text x="0" y="0" font-size="6.05" fill="#222" text-anchor="end" font-family="Liberation Sans, Arial, sans-serif" stroke="#222" stroke-width="0.08" transform="translate(367.90 315.70) scale(1 1.1)">Amino sugar and nucleotide sugar metabolism</text>
<line x1="370.8" y1="320.8" x2="373.0" y2="320.8" stroke="#222" stroke-width="0.7"/>
<text x="0" y="0" font-size="6.05" fill="#222" text-anchor="end" font-family="Liberation Sans, Arial, sans-serif" stroke="#222" stroke-width="0.08" transform="translate(367.90 325.90) scale(1 1.1)">Pathogenic Escherichia coli infection</text>
<line x1="370.8" y1="330.8" x2="373.0" y2="330.8" stroke="#222" stroke-width="0.7"/>
<text x="0" y="0" font-size="6.05" fill="#222" text-anchor="end" font-family="Liberation Sans, Arial, sans-serif" stroke="#222" stroke-width="0.08" transform="translate(367.90 336.00) scale(1 1.1)">Fc epsilon RI signaling pathway</text>
<line x1="370.8" y1="340.8" x2="373.0" y2="340.8" stroke="#222" stroke-width="0.7"/>
<text x="0" y="0" font-size="6.05" fill="#222" text-anchor="end" font-family="Liberation Sans, Arial, sans-serif" stroke="#222" stroke-width="0.08" transform="translate(367.90 346.10) scale(1 1.1)">mTOR signaling pathway</text>
<line x1="370.8" y1="350.8" x2="373.0" y2="350.8" stroke="#222" stroke-width="0.7"/>
<text x="0" y="0" font-size="6.05" fill="#222" text-anchor="end" font-family="Liberation Sans, Arial, sans-serif" stroke="#222" stroke-width="0.08" transform="translate(367.90 356.30) scale(1 1.1)">Huntington's disease</text>
<line x1="370.8" y1="360.9" x2="373.0" y2="360.9" stroke="#222" stroke-width="0.7"/>
<text x="0" y="0" font-size="6.05" fill="#222" text-anchor="end" font-family="Liberation Sans, Arial, sans-serif" stroke="#222" stroke-width="0.08" transform="translate(367.90 366.40) scale(1 1.1)">Aldosterone−regulated sodium reabsorption</text>
<line x1="370.8" y1="370.9" x2="373.0" y2="370.9" stroke="#222" stroke-width="0.7"/>
<text x="0" y="0" font-size="6.05" fill="#222" text-anchor="end" font-family="Liberation Sans, Arial, sans-serif" stroke="#222" stroke-width="0.08" transform="translate(367.90 376.50) scale(1 1.1)">Epithelial cell signaling in Helicobacter pylori infection</text>
<line x1="395.2" y1="377.2" x2="395.2" y2="379.4" stroke="#222" stroke-width="0.7"/>
<text x="0" y="0" font-size="5.8" fill="#333" text-anchor="middle" font-family="Liberation Sans, Arial, sans-serif" stroke="#333" stroke-width="0.08" transform="translate(405.60 386.20) scale(1 1.1)">2</text>
<line x1="422.1" y1="377.2" x2="422.1" y2="379.4" stroke="#222" stroke-width="0.7"/>
<text x="0" y="0" font-size="5.8" fill="#333" text-anchor="middle" font-family="Liberation Sans, Arial, sans-serif" stroke="#333" stroke-width="0.08" transform="translate(429.00 386.20) scale(1 1.1)">3</text>
<line x1="448.9" y1="377.2" x2="448.9" y2="379.4" stroke="#222" stroke-width="0.7"/>
<text x="0" y="0" font-size="5.8" fill="#333" text-anchor="middle" font-family="Liberation Sans, Arial, sans-serif" stroke="#333" stroke-width="0.08" transform="translate(451.30 386.20) scale(1 1.1)">4</text>
<text x="0" y="0" font-size="8.4" fill="#222" text-anchor="middle" font-family="Liberation Sans, Arial, sans-serif" stroke="#222" stroke-width="0.08" transform="translate(416.60 396.00) scale(1 1.1)">−Log<tspan font-size="5.9" dy="2">10</tspan><tspan dy="-2"> (</tspan><tspan font-style="italic">P</tspan>)</text>
<text x="0" y="0" font-size="6.1" fill="#222" font-family="Liberation Sans, Arial, sans-serif" stroke="#222" stroke-width="0.08" transform="translate(471.40 205.30) scale(1 1.1)">Gene number</text>
<circle cx="476.6" cy="212.6" r="0.9" fill="#111"/>
<text x="0" y="0" font-size="6.0" fill="#222" font-family="Liberation Sans, Arial, sans-serif" stroke="#222" stroke-width="0.08" transform="translate(483.60 214.70) scale(1 1.1)">10</text>
<circle cx="476.17" cy="221.9" r="2.02" fill="#111"/>
<circle cx="476.68" cy="221.9" r="2.30" fill="none" stroke="#111" stroke-width="0.55"/>
<text x="0" y="0" font-size="6.0" fill="#222" font-family="Liberation Sans, Arial, sans-serif" stroke="#222" stroke-width="0.08" transform="translate(483.60 224.00) scale(1 1.1)">20</text>
<circle cx="476.12" cy="231.5" r="2.46" fill="#111"/>
<circle cx="476.74" cy="231.5" r="2.80" fill="none" stroke="#111" stroke-width="0.55"/>
<text x="0" y="0" font-size="6.0" fill="#222" font-family="Liberation Sans, Arial, sans-serif" stroke="#222" stroke-width="0.08" transform="translate(483.60 233.60) scale(1 1.1)">30</text>
<circle cx="476.08" cy="241.1" r="2.82" fill="#111"/>
<circle cx="476.78" cy="241.1" r="3.20" fill="none" stroke="#111" stroke-width="0.55"/>
<text x="0" y="0" font-size="6.0" fill="#222" font-family="Liberation Sans, Arial, sans-serif" stroke="#222" stroke-width="0.08" transform="translate(483.60 243.20) scale(1 1.1)">40</text>
<circle cx="476.04" cy="250.6" r="3.17" fill="#111"/>
<circle cx="476.83" cy="250.6" r="3.60" fill="none" stroke="#111" stroke-width="0.55"/>
<text x="0" y="0" font-size="6.0" fill="#222" font-family="Liberation Sans, Arial, sans-serif" stroke="#222" stroke-width="0.08" transform="translate(483.60 252.70) scale(1 1.1)">50</text>
<circle cx="476.00" cy="260.4" r="3.52" fill="#111"/>
<circle cx="476.88" cy="260.4" r="4.00" fill="none" stroke="#111" stroke-width="0.55"/>
<text x="0" y="0" font-size="6.0" fill="#222" font-family="Liberation Sans, Arial, sans-serif" stroke="#222" stroke-width="0.08" transform="translate(483.60 262.50) scale(1 1.1)">60</text>
<text x="0" y="0" font-size="6.1" fill="#222" font-family="Liberation Sans, Arial, sans-serif" stroke="#222" stroke-width="0.08" transform="translate(471.20 282.60) scale(1 1.1)">Fold Enrichment</text>
<defs><linearGradient id="fe" x1="0" y1="0" x2="0" y2="1"><stop offset="0" stop-color="#f39045"/><stop offset="0.35" stop-color="#d88a78"/><stop offset="0.6" stop-color="#b08aa8"/><stop offset="0.8" stop-color="#8a8ac4"/><stop offset="1" stop-color="#5a8ee0"/></linearGradient></defs>
<rect x="471.3" y="285.1" width="9.5" height="48.7" fill="url(#fe)"/>
<line x1="471.3" y1="290.6" x2="473" y2="290.6" stroke="#fff" stroke-width="0.4"/><line x1="479.1" y1="290.6" x2="480.8" y2="290.6" stroke="#fff" stroke-width="0.4"/>
<text x="0" y="0" font-size="6.0" fill="#222" font-family="Liberation Sans, Arial, sans-serif" stroke="#222" stroke-width="0.08" transform="translate(483.40 292.70) scale(1 1.1)">3.5</text>
<line x1="471.3" y1="300.9" x2="473" y2="300.9" stroke="#fff" stroke-width="0.4"/><line x1="479.1" y1="300.9" x2="480.8" y2="300.9" stroke="#fff" stroke-width="0.4"/>
<text x="0" y="0" font-size="6.0" fill="#222" font-family="Liberation Sans, Arial, sans-serif" stroke="#222" stroke-width="0.08" transform="translate(483.40 303.00) scale(1 1.1)">3.0</text>
<line x1="471.3" y1="311.2" x2="473" y2="311.2" stroke="#fff" stroke-width="0.4"/><line x1="479.1" y1="311.2" x2="480.8" y2="311.2" stroke="#fff" stroke-width="0.4"/>
<text x="0" y="0" font-size="6.0" fill="#222" font-family="Liberation Sans, Arial, sans-serif" stroke="#222" stroke-width="0.08" transform="translate(483.40 313.30) scale(1 1.1)">2.5</text>
<line x1="471.3" y1="321.5" x2="473" y2="321.5" stroke="#fff" stroke-width="0.4"/><line x1="479.1" y1="321.5" x2="480.8" y2="321.5" stroke="#fff" stroke-width="0.4"/>
<text x="0" y="0" font-size="6.0" fill="#222" font-family="Liberation Sans, Arial, sans-serif" stroke="#222" stroke-width="0.08" transform="translate(483.40 323.60) scale(1 1.1)">2.0</text>
<line x1="471.3" y1="331.8" x2="473" y2="331.8" stroke="#fff" stroke-width="0.4"/><line x1="479.1" y1="331.8" x2="480.8" y2="331.8" stroke="#fff" stroke-width="0.4"/>
<text x="0" y="0" font-size="6.0" fill="#222" font-family="Liberation Sans, Arial, sans-serif" stroke="#222" stroke-width="0.08" transform="translate(483.40 333.90) scale(1 1.1)">1.5</text>
<defs><linearGradient id="bg" x1="0" y1="0" x2="0" y2="1"><stop offset="0" stop-color="#5a96cc"/><stop offset="0.5" stop-color="#8cc0e8"/><stop offset="1" stop-color="#b8def6"/></linearGradient></defs>
<text x="213.9" y="418.0" font-size="16" font-weight="bold" font-family="Liberation Sans, Arial, sans-serif" stroke="#000" stroke-width="0.06">E</text>
<rect x="208.8" y="437.6" width="309.4" height="298.6" rx="2.5" fill="none" stroke="#d2d2d2" stroke-width="2.4"/>
<rect x="208.8" y="437.6" width="309.4" height="298.6" rx="2.5" fill="none" stroke="#e6e6e6" stroke-width="0.6"/>
<rect x="244.3" y="647.7" width="236.6" height="84.3" rx="3" fill="none" stroke="#d0d0d0" stroke-width="2.6"/>
<path d="M308.2 422.1 L321.0 430.6" fill="none" stroke="#1a1a1a" stroke-width="1.2"/>
<path d="M333.4 422.1 L321.0 430.6" fill="none" stroke="#1a1a1a" stroke-width="1.2"/>
<path d="M307.8 442.6 L307.8 451.2 L270.2 451.2" fill="none" stroke="#1a1a1a" stroke-width="1.2"/>
<path d="M270.2 451.2 L270.2 483.4" fill="none" stroke="#1a1a1a" stroke-width="1.2"/>
<path d="M270.2 483.4 L268.5 480.5 L271.9 480.5 Z" fill="#1a1a1a"/>
<path d="M320.7 442.6 L320.7 469.0" fill="none" stroke="#1a1a1a" stroke-width="1.2"/>
<path d="M320.7 469.0 L319.0 466.1 L322.4 466.1 Z" fill="#1a1a1a"/>
<path d="M333.5 442.9 L357.2 472.3" fill="none" stroke="#1a1a1a" stroke-width="1.2"/>
<path d="M357.2 472.3 L354.0 471.1 L356.7 469.0 Z" fill="#1a1a1a"/>
<path d="M416.8 446.4 L397.6 446.4" fill="none" stroke="#1a1a1a" stroke-width="1.2"/>
<path d="M397.6 446.4 L397.6 453.7" fill="none" stroke="#1a1a1a" stroke-width="1.2"/>
<path d="M397.6 453.7 L395.9 450.8 L399.3 450.8 Z" fill="#1a1a1a"/>
<path d="M427.3 451.3 L427.3 491.9" fill="none" stroke="#1a1a1a" stroke-width="1.2"/>
<path d="M427.3 491.9 L425.6 489.0 L429.0 489.0 Z" fill="#1a1a1a"/>
<path d="M427.8 451.6 L422.8 459.0" fill="none" stroke="#1a1a1a" stroke-width="1.2"/>
<path d="M422.8 459.0 L423.0 456.2 L425.3 457.8 Z" fill="#1a1a1a"/>
<path d="M374.4 461.0 L288.6 461.0 L288.6 525.4" fill="none" stroke="#1a1a1a" stroke-width="1.2"/>
<path d="M288.6 525.4 L281.2 525.4" fill="none" stroke="#1a1a1a" stroke-width="1.2"/>
<path d="M281.2 525.4 L284.1 523.7 L284.1 527.1 Z" fill="#1a1a1a"/>
<path d="M226.1 524.4 L226.1 473.2" fill="none" stroke="#1a1a1a" stroke-width="1.2"/>
<path d="M226.1 473.2 L309.4 473.2" fill="none" stroke="#1a1a1a" stroke-width="1.2"/>
<path d="M309.4 473.2 L306.5 474.9 L306.5 471.5 Z" fill="#1a1a1a"/>
<path d="M226.1 522.4 L257.5 499.2" fill="none" stroke="#1a1a1a" stroke-width="1.2"/>
<path d="M257.5 499.2 L256.2 502.3 L254.1 499.5 Z" fill="#1a1a1a"/>
<path d="M270.2 515.1 L270.2 520.3" fill="none" stroke="#1a1a1a" stroke-width="1.2"/>
<path d="M270.2 520.3 L268.8 517.9 L271.6 517.9 Z" fill="#1a1a1a"/>
<path d="M314.6 490.7 L333.5 496.9" fill="none" stroke="#1a1a1a" stroke-width="1.2"/>
<path d="M333.5 496.9 L330.5 497.6 L331.5 494.6 Z" fill="#1a1a1a"/>
<path d="M326.3 490.7 L306.2 496.9" fill="none" stroke="#1a1a1a" stroke-width="1.2"/>
<path d="M306.2 496.9 L308.2 494.6 L309.1 497.6 Z" fill="#1a1a1a"/>
<path d="M306.3 506.9 L306.3 514.7" fill="none" stroke="#1a1a1a" stroke-width="1.2"/>
<path d="M306.3 514.7 L304.7 512.1 L307.9 512.1 Z" fill="#1a1a1a"/>
<path d="M306.3 529.0 L306.3 538.8" fill="none" stroke="#1a1a1a" stroke-width="1.2"/>
<path d="M306.3 538.8 L304.7 536.2 L307.9 536.2 Z" fill="#1a1a1a"/>
<path d="M333.8 506.9 L333.8 555.1" fill="none" stroke="#1a1a1a" stroke-width="1.2"/>
<path d="M333.8 555.1 L332.1 552.2 L335.5 552.2 Z" fill="#1a1a1a"/>
<path d="M306.6 549.0 L306.6 570.0" fill="none" stroke="#1a1a1a" stroke-width="1.2"/>
<path d="M306.6 570.0 L314.3 570.0" fill="none" stroke="#1a1a1a" stroke-width="1.2"/>
<path d="M314.3 570.0 L311.7 571.6 L311.7 568.4 Z" fill="#1a1a1a"/>
<path d="M237.0 534.9 L345.6 534.9" fill="none" stroke="#1a1a1a" stroke-width="1.35" stroke-dasharray="3.6,2.4"/>
<path d="M345.6 534.9 L342.7 536.6 L342.7 533.2 Z" fill="#1a1a1a"/>
<path d="M358.3 482.8 L358.3 490.7" fill="none" stroke="#1a1a1a" stroke-width="1.2"/>
<path d="M358.3 490.7 L356.7 488.1 L359.9 488.1 Z" fill="#1a1a1a"/>
<path d="M358.3 511.5 L358.3 517.8" fill="none" stroke="#1a1a1a" stroke-width="1.2"/>
<path d="M358.3 517.8 L356.7 515.2 L359.9 515.2 Z" fill="#1a1a1a"/>
<path d="M406.2 486.2 L364.6 558.1" fill="none" stroke="#1a1a1a" stroke-width="1.2"/>
<path d="M364.6 558.1 L364.5 554.7 L367.6 556.5 Z" fill="#1a1a1a"/>
<path d="M358.3 549.6 L358.3 558.1" fill="none" stroke="#1a1a1a" stroke-width="1.2"/>
<path d="M358.3 558.1 L356.7 555.5 L359.9 555.5 Z" fill="#1a1a1a"/>
<path d="M426.2 502.8 L426.2 516.8" fill="none" stroke="#1a1a1a" stroke-width="1.2"/>
<line x1="423.0" y1="516.8" x2="429.4" y2="516.8" stroke="#1a1a1a" stroke-width="1.1"/>
<path d="M451.3 502.8 L451.3 519.1" fill="none" stroke="#1a1a1a" stroke-width="1.2"/>
<path d="M451.3 519.1 L449.6 516.2 L453.0 516.2 Z" fill="#1a1a1a"/>
<path d="M426.2 529.2 L426.2 541.8" fill="none" stroke="#1a1a1a" stroke-width="1.4" stroke-dasharray="2.8,1.9"/>
<path d="M426.2 541.8 L424.5 538.9 L427.9 538.9 Z" fill="#1a1a1a"/>
<path d="M451.5 530.0 L451.5 547.2" fill="none" stroke="#1a1a1a" stroke-width="1.4" stroke-dasharray="2.8,1.9"/>
<path d="M451.5 547.2 L449.8 544.3 L453.2 544.3 Z" fill="#1a1a1a"/>
<path d="M489.2 475.0 L489.2 501.4" fill="none" stroke="#1a1a1a" stroke-width="1.4" stroke-dasharray="2.8,1.9"/>
<path d="M489.2 501.4 L487.5 498.5 L490.9 498.5 Z" fill="#1a1a1a"/>
<path d="M257.0 530.8 L257.0 540.1" fill="none" stroke="#1a1a1a" stroke-width="1.2"/>
<path d="M257.0 540.1 L255.6 537.7 L258.4 537.7 Z" fill="#1a1a1a"/>
<path d="M275.4 530.8 L275.4 554.3" fill="none" stroke="#1a1a1a" stroke-width="1.2"/>
<path d="M275.4 554.3 L273.7 551.4 L277.1 551.4 Z" fill="#1a1a1a"/>
<path d="M257.4 550.7 L257.4 569.6" fill="none" stroke="#1a1a1a" stroke-width="1.2"/>
<path d="M257.4 569.6 L264.5 569.6" fill="none" stroke="#1a1a1a" stroke-width="1.2"/>
<path d="M264.5 569.6 L261.9 571.2 L261.9 568.0 Z" fill="#1a1a1a"/>
<path d="M225.6 545.4 L225.6 555.7" fill="none" stroke="#1a1a1a" stroke-width="1.2"/>
<path d="M225.6 555.7 L224.0 553.1 L227.2 553.1 Z" fill="#1a1a1a"/>
<path d="M225.6 566.2 L225.6 576.9" fill="none" stroke="#1a1a1a" stroke-width="1.2"/>
<path d="M225.6 576.9 L224.0 574.3 L227.2 574.3 Z" fill="#1a1a1a"/>
<path d="M275.4 585.0 L275.4 592.9" fill="none" stroke="#1a1a1a" stroke-width="1.2"/>
<path d="M251.5 592.9 L301.8 592.9" fill="none" stroke="#1a1a1a" stroke-width="1.2"/>
<path d="M251.5 592.9 L251.5 595.6" fill="none" stroke="#1a1a1a" stroke-width="1.2"/>
<line x1="248.5" y1="595.6" x2="254.5" y2="595.6" stroke="#1a1a1a" stroke-width="1.1"/>
<path d="M275.4 592.9 L275.4 595.6" fill="none" stroke="#1a1a1a" stroke-width="1.2"/>
<line x1="272.4" y1="595.6" x2="278.4" y2="595.6" stroke="#1a1a1a" stroke-width="1.1"/>
<path d="M301.8 592.9 L301.8 595.6" fill="none" stroke="#1a1a1a" stroke-width="1.2"/>
<line x1="298.8" y1="595.6" x2="304.8" y2="595.6" stroke="#1a1a1a" stroke-width="1.1"/>
<path d="M239.2 602.6 L241.5 602.6" fill="none" stroke="#1a1a1a" stroke-width="1.2"/>
<path d="M225.6 608.2 L225.6 645.6" fill="none" stroke="#1a1a1a" stroke-width="1.4" stroke-dasharray="3.0,2.0"/>
<path d="M225.6 645.6 L223.9 642.7 L227.3 642.7 Z" fill="#1a1a1a"/>
<path d="M275.4 607.2 L275.4 618.6" fill="none" stroke="#1a1a1a" stroke-width="1.4" stroke-dasharray="2.8,1.9"/>
<path d="M275.4 618.6 L273.7 615.7 L277.1 615.7 Z" fill="#1a1a1a"/>
<path d="M339.0 570.8 L347.2 575.6" fill="none" stroke="#1a1a1a" stroke-width="1.2"/>
<path d="M347.2 575.6 L344.2 575.6 L345.7 572.9 Z" fill="#1a1a1a"/>
<path d="M358.5 589.8 L358.5 596.1" fill="none" stroke="#1a1a1a" stroke-width="1.2"/>
<path d="M358.5 596.1 L356.9 593.5 L360.1 593.5 Z" fill="#1a1a1a"/>
<path d="M358.5 617.2 L358.5 623.7" fill="none" stroke="#1a1a1a" stroke-width="1.2"/>
<path d="M358.5 623.7 L356.9 621.1 L360.1 621.1 Z" fill="#1a1a1a"/>
<path d="M358.5 644.6 L358.5 670.2 L398.0 670.2" fill="none" stroke="#1a1a1a" stroke-width="1.4" stroke-dasharray="3.0,2.0"/>
<path d="M396.0 670.2 L402.2 670.2" fill="none" stroke="#1a1a1a" stroke-width="1.2"/>
<path d="M402.2 670.2 L399.8 671.6 L399.8 668.8 Z" fill="#1a1a1a"/>
<path d="M412.8 661.8 L412.8 665.2" fill="none" stroke="#1a1a1a" stroke-width="1.2"/>
<line x1="409.6" y1="665.2" x2="416.0" y2="665.2" stroke="#1a1a1a" stroke-width="1.1"/>
<path d="M402.3 679.3 L390.1 679.3" fill="none" stroke="#1a1a1a" stroke-width="1.2"/>
<path d="M390.1 679.3 L392.5 677.9 L392.5 680.7 Z" fill="#1a1a1a"/>
<path d="M378.8 716.9 L378.8 723.6" fill="none" stroke="#1a1a1a" stroke-width="1.2"/>
<path d="M378.8 723.6 L377.2 721.0 L380.4 721.0 Z" fill="#1a1a1a"/>
<path d="M323.5 656.0 L323.5 663.4" fill="none" stroke="#1a1a1a" stroke-width="1.2"/>
<path d="M323.5 663.4 L321.9 660.8 L325.1 660.8 Z" fill="#1a1a1a"/>
<path d="M323.5 673.7 L323.5 678.6" fill="none" stroke="#1a1a1a" stroke-width="1.2"/>
<path d="M323.5 678.6 L321.9 676.0 L325.1 676.0 Z" fill="#1a1a1a"/>
<path d="M447.2 639.2 L447.2 654.7" fill="none" stroke="#1a1a1a" stroke-width="1.2"/>
<path d="M447.2 654.7 L445.5 651.8 L448.9 651.8 Z" fill="#1a1a1a"/>
<path d="M447.2 697.7 L447.2 704.9" fill="none" stroke="#1a1a1a" stroke-width="1.2"/>
<path d="M447.2 704.9 L445.6 702.3 L448.8 702.3 Z" fill="#1a1a1a"/>
<rect x="297.2" y="411.3" width="21.7" height="10.8" fill="#ef8e46" stroke="#1e1e1e" stroke-width="1.15"/>
<rect x="298.3" y="412.4" width="19.5" height="8.6" fill="none" stroke="#c7641f" stroke-width="0.7" opacity="0.8"/>
<text x="0" y="0" font-size="6.3" fill="#6e2608" text-anchor="middle" font-family="Liberation Sans, Arial, sans-serif" stroke="#6e2608" stroke-width="0.08" transform="translate(308.00 418.90) scale(1 1.1)">TGFA</text>
<rect x="323.2" y="411.3" width="21.7" height="10.8" fill="#ffffff" stroke="#1e1e1e" stroke-width="1.15"/>
<text x="0" y="0" font-size="6.3" fill="#262626" text-anchor="middle" font-family="Liberation Sans, Arial, sans-serif" stroke="#262626" stroke-width="0.08" transform="translate(334.00 418.90) scale(1 1.1)">EGF</text>
<rect x="297.2" y="432.0" width="21.7" height="10.6" fill="#ffffff" stroke="#1e1e1e" stroke-width="1.15"/>
<text x="0" y="0" font-size="6.3" fill="#262626" text-anchor="middle" font-family="Liberation Sans, Arial, sans-serif" stroke="#262626" stroke-width="0.08" transform="translate(308.00 439.50) scale(1 1.1)">ERBB2</text>
<rect x="322.9" y="432.5" width="21.7" height="10.4" fill="#ef8e46" stroke="#1e1e1e" stroke-width="1.15"/>
<rect x="324.0" y="433.6" width="19.5" height="8.2" fill="none" stroke="#c7641f" stroke-width="0.7" opacity="0.8"/>
<text x="0" y="0" font-size="6.3" fill="#6e2608" text-anchor="middle" font-family="Liberation Sans, Arial, sans-serif" stroke="#6e2608" stroke-width="0.08" transform="translate(333.80 439.90) scale(1 1.1)">EGFR</text>
<rect x="416.8" y="441.3" width="21.6" height="10.0" fill="#ffffff" stroke="#1e1e1e" stroke-width="1.15"/>
<text x="0" y="0" font-size="6.3" fill="#262626" text-anchor="middle" font-family="Liberation Sans, Arial, sans-serif" stroke="#262626" stroke-width="0.08" transform="translate(427.60 448.50) scale(1 1.1)">KRAS</text>
<path d="M416.5 438.4 L420.1 440.5 L416.5 442.3 Z" fill="#eee" stroke="#1a1a1a" stroke-width="1.0"/>
<rect x="374.4" y="453.9" width="25.2" height="10.5" fill="#ef8e46" stroke="#1e1e1e" stroke-width="1.15"/>
<rect x="375.5" y="455.0" width="23.0" height="8.3" fill="none" stroke="#c7641f" stroke-width="0.7" opacity="0.8"/>
<text x="0" y="0" font-size="6.0" fill="#6e2608" text-anchor="middle" font-family="Liberation Sans, Arial, sans-serif" stroke="#6e2608" stroke-width="0.08" transform="translate(387.00 461.30) scale(1 1.1)">PIK3CA</text>
<rect x="374.4" y="464.4" width="25.2" height="10.8" fill="#ef8e46" stroke="#1e1e1e" stroke-width="1.15"/>
<rect x="375.5" y="465.5" width="23.0" height="8.6" fill="none" stroke="#c7641f" stroke-width="0.7" opacity="0.8"/>
<text x="0" y="0" font-size="6.0" fill="#6e2608" text-anchor="middle" font-family="Liberation Sans, Arial, sans-serif" stroke="#6e2608" stroke-width="0.08" transform="translate(387.00 472.00) scale(1 1.1)">PIK3CB</text>
<rect x="374.4" y="475.2" width="25.2" height="10.7" fill="url(#bg)" stroke="#1e1e1e" stroke-width="1.15"/>
<rect x="375.5" y="476.3" width="23.0" height="8.5" fill="none" stroke="#4f86bd" stroke-width="0.7" opacity="0.8"/>
<text x="0" y="0" font-size="6.0" fill="#17375f" text-anchor="middle" font-family="Liberation Sans, Arial, sans-serif" stroke="#17375f" stroke-width="0.08" transform="translate(387.00 482.70) scale(1 1.1)">PIK3CD</text>
<rect x="374.4" y="485.9" width="25.2" height="10.7" fill="#ef8e46" stroke="#1e1e1e" stroke-width="1.15"/>
<rect x="375.5" y="487.0" width="23.0" height="8.5" fill="none" stroke="#c7641f" stroke-width="0.7" opacity="0.8"/>
<text x="0" y="0" font-size="6.0" fill="#6e2608" text-anchor="middle" font-family="Liberation Sans, Arial, sans-serif" stroke="#6e2608" stroke-width="0.08" transform="translate(387.00 493.40) scale(1 1.1)">PIK3CG</text>
<rect x="399.6" y="453.9" width="22.7" height="10.5" fill="#ffffff" stroke="#1e1e1e" stroke-width="1.15"/>
<text x="0" y="0" font-size="6.0" fill="#262626" text-anchor="middle" font-family="Liberation Sans, Arial, sans-serif" stroke="#262626" stroke-width="0.08" transform="translate(411.00 461.30) scale(1 1.1)">PIK3R1</text>
<rect x="399.6" y="464.4" width="22.7" height="10.8" fill="#ffffff" stroke="#1e1e1e" stroke-width="1.15"/>
<text x="0" y="0" font-size="6.0" fill="#262626" text-anchor="middle" font-family="Liberation Sans, Arial, sans-serif" stroke="#262626" stroke-width="0.08" transform="translate(411.00 472.00) scale(1 1.1)">PIK3R2</text>
<rect x="399.6" y="475.2" width="22.7" height="10.7" fill="#ef8e46" stroke="#1e1e1e" stroke-width="1.15"/>
<rect x="400.7" y="476.3" width="20.5" height="8.5" fill="none" stroke="#c7641f" stroke-width="0.7" opacity="0.8"/>
<text x="0" y="0" font-size="6.0" fill="#6e2608" text-anchor="middle" font-family="Liberation Sans, Arial, sans-serif" stroke="#6e2608" stroke-width="0.08" transform="translate(411.00 482.70) scale(1 1.1)">PIK3R3</text>
<rect x="478.4" y="464.5" width="21.6" height="10.5" fill="#ffffff" stroke="#1e1e1e" stroke-width="1.15"/>
<text x="0" y="0" font-size="6.3" fill="#262626" text-anchor="middle" font-family="Liberation Sans, Arial, sans-serif" stroke="#262626" stroke-width="0.08" transform="translate(489.20 471.90) scale(1 1.1)">FHIT</text>
<circle cx="478.4" cy="464.0" r="2.0" fill="#dfe6ee" stroke="#1a1a1a" stroke-width="1.05"/>
<rect x="257.7" y="483.4" width="24.9" height="10.8" fill="#ffffff" stroke="#1e1e1e" stroke-width="1.15"/>
<text x="0" y="0" font-size="6.0" fill="#262626" text-anchor="middle" font-family="Liberation Sans, Arial, sans-serif" stroke="#262626" stroke-width="0.08" transform="translate(270.10 491.00) scale(1 1.1)">PIK3CA</text>
<rect x="257.7" y="494.2" width="24.9" height="10.4" fill="#ffffff" stroke="#1e1e1e" stroke-width="1.15"/>
<text x="0" y="0" font-size="6.0" fill="#262626" text-anchor="middle" font-family="Liberation Sans, Arial, sans-serif" stroke="#262626" stroke-width="0.08" transform="translate(270.10 501.60) scale(1 1.1)">PIK3CB</text>
<rect x="257.7" y="504.6" width="24.9" height="10.5" fill="url(#bg)" stroke="#1e1e1e" stroke-width="1.15"/>
<rect x="258.8" y="505.7" width="22.7" height="8.3" fill="none" stroke="#4f86bd" stroke-width="0.7" opacity="0.8"/>
<text x="0" y="0" font-size="6.0" fill="#17375f" text-anchor="middle" font-family="Liberation Sans, Arial, sans-serif" stroke="#17375f" stroke-width="0.08" transform="translate(270.10 512.10) scale(1 1.1)">PIK3CD</text>
<rect x="309.5" y="469.2" width="22.0" height="10.8" fill="#ffffff" stroke="#1e1e1e" stroke-width="1.15"/>
<text x="0" y="0" font-size="6.0" fill="#262626" text-anchor="middle" font-family="Liberation Sans, Arial, sans-serif" stroke="#262626" stroke-width="0.08" transform="translate(320.50 476.80) scale(1 1.1)">PLCG1</text>
<rect x="309.5" y="480.0" width="22.0" height="10.7" fill="#ffffff" stroke="#1e1e1e" stroke-width="1.15"/>
<text x="0" y="0" font-size="6.0" fill="#262626" text-anchor="middle" font-family="Liberation Sans, Arial, sans-serif" stroke="#262626" stroke-width="0.08" transform="translate(320.50 487.60) scale(1 1.1)">PLCG2</text>
<circle cx="309.6" cy="468.9" r="2.0" fill="#dfe6ee" stroke="#1a1a1a" stroke-width="1.05"/>
<circle cx="331.2" cy="468.9" r="2.0" fill="#dfe6ee" stroke="#1a1a1a" stroke-width="1.05"/>
<rect x="347.7" y="472.3" width="21.2" height="10.5" fill="#ffffff" stroke="#1e1e1e" stroke-width="1.15"/>
<text x="0" y="0" font-size="6.3" fill="#262626" text-anchor="middle" font-family="Liberation Sans, Arial, sans-serif" stroke="#262626" stroke-width="0.08" transform="translate(358.30 479.80) scale(1 1.1)">GRB2</text>
<rect x="347.7" y="490.8" width="21.2" height="10.4" fill="#ffffff" stroke="#1e1e1e" stroke-width="1.15"/>
<text x="0" y="0" font-size="6.3" fill="#262626" text-anchor="middle" font-family="Liberation Sans, Arial, sans-serif" stroke="#262626" stroke-width="0.08" transform="translate(358.30 498.20) scale(1 1.1)">SOS1</text>
<rect x="347.7" y="501.2" width="21.2" height="10.3" fill="#ef8e46" stroke="#1e1e1e" stroke-width="1.15"/>
<rect x="348.8" y="502.3" width="19.0" height="8.1" fill="none" stroke="#c7641f" stroke-width="0.7" opacity="0.8"/>
<text x="0" y="0" font-size="6.3" fill="#6e2608" text-anchor="middle" font-family="Liberation Sans, Arial, sans-serif" stroke="#6e2608" stroke-width="0.08" transform="translate(358.30 508.60) scale(1 1.1)">SOS2</text>
<rect x="413.5" y="492.0" width="25.0" height="10.8" fill="#ffffff" stroke="#1e1e1e" stroke-width="1.15"/>
<text x="0" y="0" font-size="6.0" fill="#262626" text-anchor="middle" font-family="Liberation Sans, Arial, sans-serif" stroke="#262626" stroke-width="0.08" transform="translate(426.00 499.60) scale(1 1.1)">RASSF1</text>
<rect x="438.5" y="492.0" width="25.1" height="10.8" fill="url(#bg)" stroke="#1e1e1e" stroke-width="1.15"/>
<rect x="439.6" y="493.1" width="22.9" height="8.6" fill="none" stroke="#4f86bd" stroke-width="0.7" opacity="0.8"/>
<text x="0" y="0" font-size="6.0" fill="#17375f" text-anchor="middle" font-family="Liberation Sans, Arial, sans-serif" stroke="#17375f" stroke-width="0.08" transform="translate(451.10 499.60) scale(1 1.1)">RASSF5</text>
<circle cx="413.5" cy="491.6" r="2.0" fill="#dfe6ee" stroke="#1a1a1a" stroke-width="1.05"/>
<rect x="295.6" y="497.0" width="21.2" height="9.9" fill="#ffffff" stroke="#a6c8ea" stroke-width="0.9"/>
<text x="0" y="0" font-size="6.3" fill="#7eaad6" text-anchor="middle" font-family="Liberation Sans, Arial, sans-serif" stroke="#7eaad6" stroke-width="0.08" transform="translate(306.20 504.10) scale(1 1.1)">IP3</text>
<rect x="323.3" y="497.0" width="21.1" height="9.9" fill="#ffffff" stroke="#a6c8ea" stroke-width="0.9"/>
<text x="0" y="0" font-size="6.3" fill="#7eaad6" text-anchor="middle" font-family="Liberation Sans, Arial, sans-serif" stroke="#7eaad6" stroke-width="0.08" transform="translate(333.90 504.10) scale(1 1.1)">DAG</text>
<rect x="259.3" y="520.4" width="21.8" height="10.4" fill="#ffffff" stroke="#a6c8ea" stroke-width="0.9"/>
<text x="0" y="0" font-size="6.3" fill="#7eaad6" text-anchor="middle" font-family="Liberation Sans, Arial, sans-serif" stroke="#7eaad6" stroke-width="0.08" transform="translate(270.20 527.80) scale(1 1.1)">PIP3</text>
<rect x="298.2" y="515.2" width="15.6" height="13.5" rx="3" fill="#fff" stroke="#cfcfcf" stroke-width="2.0"/>
<text x="0" y="0" font-size="4.8" fill="#dddddd" text-anchor="middle" font-family="Liberation Sans, Arial, sans-serif" stroke="#dddddd" stroke-width="0.08" transform="translate(306.00 523.90) scale(1 1.1)">ER</text>
<rect x="295.6" y="538.9" width="21.2" height="10.1" fill="#ffffff" stroke="#a6c8ea" stroke-width="0.9"/>
<text x="0" y="0" font-size="6.3" fill="#7eaad6" text-anchor="middle" font-family="Liberation Sans, Arial, sans-serif" stroke="#7eaad6" stroke-width="0.08" transform="translate(306.20 546.20) scale(1 1.1)">Ca2+</text>
<rect x="347.7" y="517.9" width="21.2" height="10.6" fill="#ffffff" stroke="#1e1e1e" stroke-width="1.15"/>
<text x="0" y="0" font-size="6.3" fill="#262626" text-anchor="middle" font-family="Liberation Sans, Arial, sans-serif" stroke="#262626" stroke-width="0.08" transform="translate(358.30 525.40) scale(1 1.1)">HRAS</text>
<rect x="347.7" y="528.5" width="21.2" height="10.5" fill="#ffffff" stroke="#1e1e1e" stroke-width="1.15"/>
<text x="0" y="0" font-size="6.3" fill="#262626" text-anchor="middle" font-family="Liberation Sans, Arial, sans-serif" stroke="#262626" stroke-width="0.08" transform="translate(358.30 536.00) scale(1 1.1)">KRAS</text>
<rect x="347.7" y="539.0" width="21.2" height="10.6" fill="#ffffff" stroke="#1e1e1e" stroke-width="1.15"/>
<text x="0" y="0" font-size="6.3" fill="#262626" text-anchor="middle" font-family="Liberation Sans, Arial, sans-serif" stroke="#262626" stroke-width="0.08" transform="translate(358.30 546.50) scale(1 1.1)">NRAS</text>
<path d="M347.2 525.9 L350.8 528.0 L347.2 529.8 Z" fill="#eee" stroke="#1a1a1a" stroke-width="1.0"/>
<rect x="414.2" y="518.8" width="24.0" height="10.4" fill="#ffffff" stroke="#1e1e1e" stroke-width="1.15"/>
<text x="0" y="0" font-size="6.3" fill="#262626" text-anchor="middle" font-family="Liberation Sans, Arial, sans-serif" stroke="#262626" stroke-width="0.08" transform="translate(426.20 526.20) scale(1 1.1)">CCND1</text>
<rect x="440.8" y="519.2" width="21.5" height="10.8" fill="#ffffff" stroke="#1e1e1e" stroke-width="1.15"/>
<text x="0" y="0" font-size="6.3" fill="#262626" text-anchor="middle" font-family="Liberation Sans, Arial, sans-serif" stroke="#262626" stroke-width="0.08" transform="translate(451.60 526.80) scale(1 1.1)">STK4</text>
<rect x="214.9" y="524.4" width="21.9" height="10.4" fill="#ffffff" stroke="#1e1e1e" stroke-width="1.15"/>
<text x="0" y="0" font-size="6.3" fill="#262626" text-anchor="middle" font-family="Liberation Sans, Arial, sans-serif" stroke="#262626" stroke-width="0.08" transform="translate(225.90 531.80) scale(1 1.1)">EML4</text>
<rect x="214.9" y="534.8" width="21.9" height="10.6" fill="#ffffff" stroke="#1e1e1e" stroke-width="1.15"/>
<text x="0" y="0" font-size="6.3" fill="#262626" text-anchor="middle" font-family="Liberation Sans, Arial, sans-serif" stroke="#262626" stroke-width="0.08" transform="translate(225.90 542.30) scale(1 1.1)">ALK</text>
<path d="M214.6 521.5 L218.2 523.6 L214.6 525.4 Z" fill="#eee" stroke="#1a1a1a" stroke-width="1.0"/>
<circle cx="214.9" cy="534.8" r="1.3" fill="#dfe6ee" stroke="#1a1a1a" stroke-width="1.05"/>
<rect x="246.6" y="540.2" width="21.6" height="10.5" fill="#ffffff" stroke="#1e1e1e" stroke-width="1.15"/>
<text x="0" y="0" font-size="6.3" fill="#262626" text-anchor="middle" font-family="Liberation Sans, Arial, sans-serif" stroke="#262626" stroke-width="0.08" transform="translate(257.40 547.70) scale(1 1.1)">PDK1</text>
<rect x="215.8" y="555.8" width="20.0" height="10.4" fill="#ffffff" stroke="#1e1e1e" stroke-width="1.15"/>
<text x="0" y="0" font-size="6.3" fill="#262626" text-anchor="middle" font-family="Liberation Sans, Arial, sans-serif" stroke="#262626" stroke-width="0.08" transform="translate(225.80 563.20) scale(1 1.1)">JAK3</text>
<rect x="264.6" y="554.4" width="21.3" height="10.1" fill="#ef8e46" stroke="#1e1e1e" stroke-width="1.15"/>
<rect x="265.7" y="555.5" width="19.1" height="7.9" fill="none" stroke="#c7641f" stroke-width="0.7" opacity="0.8"/>
<text x="0" y="0" font-size="6.3" fill="#6e2608" text-anchor="middle" font-family="Liberation Sans, Arial, sans-serif" stroke="#6e2608" stroke-width="0.08" transform="translate(275.20 561.70) scale(1 1.1)">AKT1</text>
<rect x="264.6" y="564.5" width="21.3" height="10.1" fill="#ffffff" stroke="#1e1e1e" stroke-width="1.15"/>
<text x="0" y="0" font-size="6.3" fill="#262626" text-anchor="middle" font-family="Liberation Sans, Arial, sans-serif" stroke="#262626" stroke-width="0.08" transform="translate(275.20 571.80) scale(1 1.1)">AKT2</text>
<rect x="264.6" y="574.6" width="21.3" height="10.4" fill="#ffffff" stroke="#1e1e1e" stroke-width="1.15"/>
<text x="0" y="0" font-size="6.3" fill="#262626" text-anchor="middle" font-family="Liberation Sans, Arial, sans-serif" stroke="#262626" stroke-width="0.08" transform="translate(275.20 582.00) scale(1 1.1)">AKT3</text>
<circle cx="285.6" cy="554.0" r="2.0" fill="#dfe6ee" stroke="#1a1a1a" stroke-width="1.05"/>
<circle cx="285.6" cy="564.3" r="2.0" fill="#dfe6ee" stroke="#1a1a1a" stroke-width="1.05"/>
<rect x="314.4" y="555.2" width="24.2" height="9.4" fill="url(#bg)" stroke="#1e1e1e" stroke-width="1.15"/>
<rect x="315.5" y="556.3" width="22.0" height="7.2" fill="none" stroke="#4f86bd" stroke-width="0.7" opacity="0.8"/>
<text x="0" y="0" font-size="6.0" fill="#17375f" text-anchor="middle" font-family="Liberation Sans, Arial, sans-serif" stroke="#17375f" stroke-width="0.08" transform="translate(326.50 562.10) scale(1 1.1)">PRKCA</text>
<rect x="314.4" y="564.6" width="24.2" height="10.2" fill="#ffffff" stroke="#1e1e1e" stroke-width="1.15"/>
<text x="0" y="0" font-size="6.0" fill="#262626" text-anchor="middle" font-family="Liberation Sans, Arial, sans-serif" stroke="#262626" stroke-width="0.08" transform="translate(326.50 571.90) scale(1 1.1)">PRKCB</text>
<rect x="314.4" y="574.8" width="24.2" height="10.8" fill="#ffffff" stroke="#1e1e1e" stroke-width="1.15"/>
<text x="0" y="0" font-size="6.0" fill="#262626" text-anchor="middle" font-family="Liberation Sans, Arial, sans-serif" stroke="#262626" stroke-width="0.08" transform="translate(326.50 582.40) scale(1 1.1)">PRKCG</text>
<rect x="347.4" y="558.2" width="21.2" height="10.3" fill="#ffffff" stroke="#1e1e1e" stroke-width="1.15"/>
<text x="0" y="0" font-size="6.3" fill="#262626" text-anchor="middle" font-family="Liberation Sans, Arial, sans-serif" stroke="#262626" stroke-width="0.08" transform="translate(358.00 565.60) scale(1 1.1)">ARAF</text>
<rect x="347.4" y="568.5" width="21.2" height="10.5" fill="#ef8e46" stroke="#1e1e1e" stroke-width="1.15"/>
<rect x="348.5" y="569.6" width="19.0" height="8.3" fill="none" stroke="#c7641f" stroke-width="0.7" opacity="0.8"/>
<text x="0" y="0" font-size="6.3" fill="#6e2608" text-anchor="middle" font-family="Liberation Sans, Arial, sans-serif" stroke="#6e2608" stroke-width="0.08" transform="translate(358.00 576.00) scale(1 1.1)">BRAF</text>
<rect x="347.4" y="579.0" width="21.2" height="10.8" fill="#ffffff" stroke="#1e1e1e" stroke-width="1.15"/>
<text x="0" y="0" font-size="6.3" fill="#262626" text-anchor="middle" font-family="Liberation Sans, Arial, sans-serif" stroke="#262626" stroke-width="0.08" transform="translate(358.00 586.60) scale(1 1.1)">RAF1</text>
<rect x="215.4" y="577.0" width="23.8" height="9.8" fill="#ffffff" stroke="#1e1e1e" stroke-width="1.15"/>
<text x="0" y="0" font-size="6.0" fill="#262626" text-anchor="middle" font-family="Liberation Sans, Arial, sans-serif" stroke="#262626" stroke-width="0.08" transform="translate(227.30 584.10) scale(1 1.1)">STAT3</text>
<rect x="215.4" y="586.8" width="23.8" height="10.6" fill="#ffffff" stroke="#1e1e1e" stroke-width="1.15"/>
<text x="0" y="0" font-size="6.0" fill="#262626" text-anchor="middle" font-family="Liberation Sans, Arial, sans-serif" stroke="#262626" stroke-width="0.08" transform="translate(227.30 594.30) scale(1 1.1)">STAT5A</text>
<rect x="215.4" y="597.4" width="23.8" height="10.6" fill="#ffffff" stroke="#1e1e1e" stroke-width="1.15"/>
<text x="0" y="0" font-size="6.0" fill="#262626" text-anchor="middle" font-family="Liberation Sans, Arial, sans-serif" stroke="#262626" stroke-width="0.08" transform="translate(227.30 604.90) scale(1 1.1)">STAT5B</text>
<circle cx="239.0" cy="587.4" r="2.0" fill="#dfe6ee" stroke="#1a1a1a" stroke-width="1.05"/>
<circle cx="239.0" cy="597.8" r="2.0" fill="#dfe6ee" stroke="#1a1a1a" stroke-width="1.05"/>
<rect x="241.5" y="598.0" width="20.8" height="9.3" fill="#ffffff" stroke="#1e1e1e" stroke-width="1.15"/>
<text x="0" y="0" font-size="6.3" fill="#262626" text-anchor="middle" font-family="Liberation Sans, Arial, sans-serif" stroke="#262626" stroke-width="0.08" transform="translate(251.90 604.90) scale(1 1.1)">BAD</text>
<circle cx="261.8" cy="597.8" r="2.0" fill="#dfe6ee" stroke="#1a1a1a" stroke-width="1.05"/>
<rect x="264.4" y="597.6" width="21.2" height="9.6" fill="#ffffff" stroke="#1e1e1e" stroke-width="1.15"/>
<text x="0" y="0" font-size="6.3" fill="#262626" text-anchor="middle" font-family="Liberation Sans, Arial, sans-serif" stroke="#262626" stroke-width="0.08" transform="translate(275.00 604.60) scale(1 1.1)">CASP9</text>
<circle cx="285.3" cy="597.4" r="2.0" fill="#dfe6ee" stroke="#1a1a1a" stroke-width="1.05"/>
<rect x="291.5" y="597.6" width="21.6" height="9.6" fill="#ffffff" stroke="#1e1e1e" stroke-width="1.15"/>
<text x="0" y="0" font-size="6.3" fill="#262626" text-anchor="middle" font-family="Liberation Sans, Arial, sans-serif" stroke="#262626" stroke-width="0.08" transform="translate(302.30 604.60) scale(1 1.1)">FOXO3</text>
<circle cx="291.6" cy="597.2" r="2.0" fill="#dfe6ee" stroke="#1a1a1a" stroke-width="1.05"/>
<circle cx="312.9" cy="597.2" r="2.0" fill="#dfe6ee" stroke="#1a1a1a" stroke-width="1.05"/>
<rect x="346.2" y="596.2" width="24.6" height="10.2" fill="#ffffff" stroke="#1e1e1e" stroke-width="1.15"/>
<text x="0" y="0" font-size="6.0" fill="#262626" text-anchor="middle" font-family="Liberation Sans, Arial, sans-serif" stroke="#262626" stroke-width="0.08" transform="translate(358.50 603.50) scale(1 1.1)">MAP2K1</text>
<rect x="346.2" y="606.4" width="24.6" height="10.8" fill="#ffffff" stroke="#1e1e1e" stroke-width="1.15"/>
<text x="0" y="0" font-size="6.0" fill="#262626" text-anchor="middle" font-family="Liberation Sans, Arial, sans-serif" stroke="#262626" stroke-width="0.08" transform="translate(358.50 614.00) scale(1 1.1)">MAP2K2</text>
<circle cx="346.2" cy="596.2" r="2.0" fill="#dfe6ee" stroke="#1a1a1a" stroke-width="1.05"/>
<circle cx="370.8" cy="596.2" r="2.0" fill="#dfe6ee" stroke="#1a1a1a" stroke-width="1.05"/>
<circle cx="346.2" cy="606.4" r="2.0" fill="#dfe6ee" stroke="#1a1a1a" stroke-width="1.05"/>
<circle cx="370.8" cy="606.4" r="2.0" fill="#dfe6ee" stroke="#1a1a1a" stroke-width="1.05"/>
<rect x="347.2" y="623.8" width="22.0" height="10.6" fill="#ef8e46" stroke="#1e1e1e" stroke-width="1.15"/>
<rect x="348.3" y="624.9" width="19.8" height="8.4" fill="none" stroke="#c7641f" stroke-width="0.7" opacity="0.8"/>
<text x="0" y="0" font-size="6.0" fill="#6e2608" text-anchor="middle" font-family="Liberation Sans, Arial, sans-serif" stroke="#6e2608" stroke-width="0.08" transform="translate(358.20 631.30) scale(1 1.1)">MAPK1</text>
<rect x="347.2" y="634.4" width="22.0" height="10.2" fill="#ffffff" stroke="#1e1e1e" stroke-width="1.15"/>
<text x="0" y="0" font-size="6.0" fill="#262626" text-anchor="middle" font-family="Liberation Sans, Arial, sans-serif" stroke="#262626" stroke-width="0.08" transform="translate(358.20 641.70) scale(1 1.1)">MAPK3</text>
<circle cx="347.4" cy="623.8" r="2.0" fill="#dfe6ee" stroke="#1a1a1a" stroke-width="1.05"/>
<circle cx="369.0" cy="623.8" r="2.0" fill="#dfe6ee" stroke="#1a1a1a" stroke-width="1.05"/>
<circle cx="347.4" cy="634.4" r="2.0" fill="#dfe6ee" stroke="#1a1a1a" stroke-width="1.05"/>
<circle cx="369.0" cy="634.4" r="2.0" fill="#dfe6ee" stroke="#1a1a1a" stroke-width="1.05"/>
<rect x="421.8" y="567.0" width="75.9" height="52.6" fill="#fff" stroke="#1a1a1a" stroke-width="1.2"/>
<text x="0" y="0" font-size="4.45" fill="#111" text-anchor="start" font-weight="bold" font-family="Liberation Sans, Arial, sans-serif" stroke="#111" stroke-width="0.14" transform="translate(426.50 573.20) scale(1 1.1)">Legend</text>
<rect x="426.9" y="579.2" width="6.6" height="5.5" fill="#a8d0f0"/>
<text x="0" y="0" font-size="4.45" fill="#111" text-anchor="start" font-weight="bold" font-family="Liberation Sans, Arial, sans-serif" stroke="#111" stroke-width="0.14" transform="translate(436.20 583.90) scale(1 1.1)">Loss sCOP associated DEG</text>
<rect x="426.9" y="588.8" width="6.6" height="5.4" fill="#f0a055"/>
<text x="0" y="0" font-size="4.45" fill="#2a1a14" text-anchor="start" font-weight="bold" font-family="Liberation Sans, Arial, sans-serif" stroke="#2a1a14" stroke-width="0.14" transform="translate(436.20 593.50) scale(1 1.1)">Gain sCOP associated DEG</text>
<path d="M427.2 599.3 L432.0 601.8 L427.2 604.3 Z" fill="#fff" stroke="#111" stroke-width="1.1"/>
<text x="0" y="0" font-size="4.45" fill="#111" text-anchor="start" font-weight="bold" font-family="Liberation Sans, Arial, sans-serif" stroke="#111" stroke-width="0.14" transform="translate(436.20 602.90) scale(1 1.1)">Activating mutation</text>
<circle cx="428.6" cy="611.9" r="1.9" fill="#fff" stroke="#111" stroke-width="1.2"/>
<text x="0" y="0" font-size="4.5" fill="#111" text-anchor="start" font-weight="bold" font-family="Liberation Sans, Arial, sans-serif" stroke="#111" stroke-width="0.14" transform="translate(435.60 613.60) scale(1 1.1)">Inactivating mutation</text>
<rect x="416.8" y="628.6" width="60.8" height="10.6" fill="#ffffff" stroke="#a6c8ea" stroke-width="0.9"/>
<text x="0" y="0" font-size="6.0" fill="#7eaad6" text-anchor="middle" font-family="Liberation Sans, Arial, sans-serif" stroke="#7eaad6" stroke-width="0.08" transform="translate(447.20 636.10) scale(1 1.1)">Retinoic acid</text>
<rect x="312.7" y="663.5" width="21.5" height="10.2" fill="#ffffff" stroke="#1e1e1e" stroke-width="1.15"/>
<text x="0" y="0" font-size="6.3" fill="#262626" text-anchor="middle" font-family="Liberation Sans, Arial, sans-serif" stroke="#262626" stroke-width="0.08" transform="translate(323.40 670.80) scale(1 1.1)">TP53</text>
<circle cx="312.9" cy="663.2" r="2.0" fill="#dfe6ee" stroke="#1a1a1a" stroke-width="1.05"/>
<rect x="290.4" y="677.5" width="27.5" height="10.6" fill="#ffffff" stroke="#1e1e1e" stroke-width="1.15"/>
<text x="0" y="0" font-size="6.0" fill="#262626" text-anchor="middle" font-family="Liberation Sans, Arial, sans-serif" stroke="#262626" stroke-width="0.08" transform="translate(304.10 685.00) scale(1 1.1)">CDKN1A</text>
<rect x="290.4" y="688.1" width="27.5" height="10.6" fill="#ffffff" stroke="#1e1e1e" stroke-width="1.15"/>
<text x="0" y="0" font-size="6.0" fill="#262626" text-anchor="middle" font-family="Liberation Sans, Arial, sans-serif" stroke="#262626" stroke-width="0.08" transform="translate(304.10 695.60) scale(1 1.1)">BAX</text>
<rect x="290.4" y="698.7" width="27.5" height="10.5" fill="#ffffff" stroke="#1e1e1e" stroke-width="1.15"/>
<text x="0" y="0" font-size="6.0" fill="#262626" text-anchor="middle" font-family="Liberation Sans, Arial, sans-serif" stroke="#262626" stroke-width="0.08" transform="translate(304.10 706.20) scale(1 1.1)">DDB2</text>
<rect x="290.4" y="709.2" width="27.5" height="10.6" fill="#ffffff" stroke="#1e1e1e" stroke-width="1.15"/>
<text x="0" y="0" font-size="6.0" fill="#262626" text-anchor="middle" font-family="Liberation Sans, Arial, sans-serif" stroke="#262626" stroke-width="0.08" transform="translate(304.10 716.70) scale(1 1.1)">BAK1</text>
<rect x="290.4" y="719.8" width="27.5" height="10.6" fill="#ffffff" stroke="#1e1e1e" stroke-width="1.15"/>
<text x="0" y="0" font-size="6.0" fill="#262626" text-anchor="middle" font-family="Liberation Sans, Arial, sans-serif" stroke="#262626" stroke-width="0.08" transform="translate(304.10 727.30) scale(1 1.1)">POLK</text>
<rect x="325.6" y="680.8" width="30.6" height="10.7" fill="#ffffff" stroke="#1e1e1e" stroke-width="1.15"/>
<text x="0" y="0" font-size="6.0" fill="#262626" text-anchor="middle" font-family="Liberation Sans, Arial, sans-serif" stroke="#262626" stroke-width="0.08" transform="translate(340.90 688.40) scale(1 1.1)">GADD45A</text>
<rect x="325.6" y="691.5" width="30.6" height="10.4" fill="#ffffff" stroke="#1e1e1e" stroke-width="1.15"/>
<text x="0" y="0" font-size="6.0" fill="#262626" text-anchor="middle" font-family="Liberation Sans, Arial, sans-serif" stroke="#262626" stroke-width="0.08" transform="translate(340.90 698.90) scale(1 1.1)">GADD45B</text>
<rect x="325.6" y="701.9" width="30.6" height="10.8" fill="#ffffff" stroke="#1e1e1e" stroke-width="1.15"/>
<text x="0" y="0" font-size="6.0" fill="#262626" text-anchor="middle" font-family="Liberation Sans, Arial, sans-serif" stroke="#262626" stroke-width="0.08" transform="translate(340.90 709.50) scale(1 1.1)">GADD45G</text>
<rect x="399.7" y="652.0" width="26.1" height="9.8" fill="#ffffff" stroke="#1e1e1e" stroke-width="1.15"/>
<text x="0" y="0" font-size="5.8" fill="#262626" text-anchor="middle" font-family="Liberation Sans, Arial, sans-serif" stroke="#262626" stroke-width="0.08" transform="translate(412.80 659.10) scale(1 1.1)">CDKN2A</text>
<circle cx="399.9" cy="651.6" r="2.0" fill="#dfe6ee" stroke="#1a1a1a" stroke-width="1.05"/>
<rect x="402.3" y="666.2" width="21.1" height="10.7" fill="#ffffff" stroke="#1e1e1e" stroke-width="1.15"/>
<text x="0" y="0" font-size="6.0" fill="#262626" text-anchor="middle" font-family="Liberation Sans, Arial, sans-serif" stroke="#262626" stroke-width="0.08" transform="translate(412.90 673.80) scale(1 1.1)">CCND1</text>
<rect x="402.3" y="676.9" width="21.1" height="10.8" fill="#ef8e46" stroke="#1e1e1e" stroke-width="1.15"/>
<rect x="403.4" y="678.0" width="18.9" height="8.6" fill="none" stroke="#c7641f" stroke-width="0.7" opacity="0.8"/>
<text x="0" y="0" font-size="6.0" fill="#6e2608" text-anchor="middle" font-family="Liberation Sans, Arial, sans-serif" stroke="#6e2608" stroke-width="0.08" transform="translate(412.90 684.50) scale(1 1.1)">CDK4</text>
<rect x="402.3" y="687.7" width="21.1" height="10.8" fill="#ef8e46" stroke="#1e1e1e" stroke-width="1.15"/>
<rect x="403.4" y="688.8" width="18.9" height="8.6" fill="none" stroke="#c7641f" stroke-width="0.7" opacity="0.8"/>
<text x="0" y="0" font-size="6.0" fill="#6e2608" text-anchor="middle" font-family="Liberation Sans, Arial, sans-serif" stroke="#6e2608" stroke-width="0.08" transform="translate(412.90 695.30) scale(1 1.1)">CDK6</text>
<rect x="367.7" y="673.8" width="22.3" height="9.7" fill="#ffffff" stroke="#1e1e1e" stroke-width="1.15"/>
<text x="0" y="0" font-size="6.3" fill="#262626" text-anchor="middle" font-family="Liberation Sans, Arial, sans-serif" stroke="#262626" stroke-width="0.08" transform="translate(378.90 680.90) scale(1 1.1)">RB1</text>
<circle cx="368.0" cy="673.6" r="2.0" fill="#dfe6ee" stroke="#1a1a1a" stroke-width="1.05"/>
<circle cx="389.7" cy="673.6" r="2.0" fill="#dfe6ee" stroke="#1a1a1a" stroke-width="1.05"/>
<rect x="367.7" y="685.0" width="22.3" height="10.4" fill="#ef8e46" stroke="#1e1e1e" stroke-width="1.15"/>
<rect x="368.8" y="686.1" width="20.1" height="8.2" fill="none" stroke="#c7641f" stroke-width="0.7" opacity="0.8"/>
<text x="0" y="0" font-size="6.3" fill="#6e2608" text-anchor="middle" font-family="Liberation Sans, Arial, sans-serif" stroke="#6e2608" stroke-width="0.08" transform="translate(378.90 692.40) scale(1 1.1)">E2F1</text>
<rect x="367.7" y="695.4" width="22.3" height="10.8" fill="#ffffff" stroke="#1e1e1e" stroke-width="1.15"/>
<text x="0" y="0" font-size="6.3" fill="#262626" text-anchor="middle" font-family="Liberation Sans, Arial, sans-serif" stroke="#262626" stroke-width="0.08" transform="translate(378.90 703.00) scale(1 1.1)">E2F2</text>
<rect x="367.7" y="706.2" width="22.3" height="10.7" fill="#ef8e46" stroke="#1e1e1e" stroke-width="1.15"/>
<rect x="368.8" y="707.3" width="20.1" height="8.5" fill="none" stroke="#c7641f" stroke-width="0.7" opacity="0.8"/>
<text x="0" y="0" font-size="6.3" fill="#6e2608" text-anchor="middle" font-family="Liberation Sans, Arial, sans-serif" stroke="#6e2608" stroke-width="0.08" transform="translate(378.90 713.80) scale(1 1.1)">E2F3</text>
<rect x="436.9" y="654.8" width="20.4" height="10.6" fill="#ffffff" stroke="#1e1e1e" stroke-width="1.15"/>
<text x="0" y="0" font-size="6.3" fill="#262626" text-anchor="middle" font-family="Liberation Sans, Arial, sans-serif" stroke="#262626" stroke-width="0.08" transform="translate(447.10 662.30) scale(1 1.1)">RARB</text>
<rect x="436.9" y="665.4" width="20.4" height="10.8" fill="#ffffff" stroke="#1e1e1e" stroke-width="1.15"/>
<text x="0" y="0" font-size="6.3" fill="#262626" text-anchor="middle" font-family="Liberation Sans, Arial, sans-serif" stroke="#262626" stroke-width="0.08" transform="translate(447.10 673.00) scale(1 1.1)">RXRA</text>
<rect x="436.9" y="676.2" width="20.4" height="10.7" fill="#ef8e46" stroke="#1e1e1e" stroke-width="1.15"/>
<rect x="438.0" y="677.3" width="18.2" height="8.5" fill="none" stroke="#c7641f" stroke-width="0.7" opacity="0.8"/>
<text x="0" y="0" font-size="6.3" fill="#6e2608" text-anchor="middle" font-family="Liberation Sans, Arial, sans-serif" stroke="#6e2608" stroke-width="0.08" transform="translate(447.10 683.80) scale(1 1.1)">RXRB</text>
<rect x="436.9" y="686.9" width="20.4" height="10.8" fill="#ffffff" stroke="#1e1e1e" stroke-width="1.15"/>
<text x="0" y="0" font-size="6.3" fill="#262626" text-anchor="middle" font-family="Liberation Sans, Arial, sans-serif" stroke="#262626" stroke-width="0.08" transform="translate(447.10 694.50) scale(1 1.1)">RXRG</text>
<circle cx="437.0" cy="664.4" r="2.0" fill="#dfe6ee" stroke="#1a1a1a" stroke-width="1.05"/>
<text x="0" y="0" font-size="4.55" fill="#111" text-anchor="middle" font-weight="bold" font-family="Liberation Sans, Arial, sans-serif" stroke="#111" stroke-width="0.14" transform="translate(272.30 448.00) scale(1 1.1)">Overexpression of ERBB2?</text>
<text x="0" y="0" font-size="6.0" fill="#45a067" text-anchor="middle" font-weight="bold" font-family="Liberation Sans, Arial, sans-serif" stroke="#45a067" stroke-width="0.14" transform="translate(452.60 459.80) scale(1 0.95)">Ras signaling</text>
<text x="0" y="0" font-size="6.0" fill="#45a067" text-anchor="middle" font-weight="bold" font-family="Liberation Sans, Arial, sans-serif" stroke="#45a067" stroke-width="0.14" transform="translate(450.40 466.80) scale(1 0.95)">pathway</text>
<text x="0" y="0" font-size="4.5" fill="#111" text-anchor="middle" font-weight="bold" font-family="Liberation Sans, Arial, sans-serif" stroke="#111" stroke-width="0.14" transform="translate(489.00 506.00) scale(1 1.1)">Reduced apoptosis</text>
<text x="0" y="0" font-size="4.5" fill="#111" text-anchor="middle" font-weight="bold" font-family="Liberation Sans, Arial, sans-serif" stroke="#111" stroke-width="0.14" transform="translate(489.00 511.10) scale(1 1.1)">cell cycle progression</text>
<text x="0" y="0" font-size="4.55" fill="#111" text-anchor="middle" font-weight="bold" font-family="Liberation Sans, Arial, sans-serif" stroke="#111" stroke-width="0.14" transform="translate(426.30 549.20) scale(1 1.1)">Proliferation</text>
<text x="0" y="0" font-size="4.55" fill="#111" text-anchor="middle" font-weight="bold" font-family="Liberation Sans, Arial, sans-serif" stroke="#111" stroke-width="0.14" transform="translate(450.60 553.80) scale(1 1.1)">Reduced</text>
<text x="0" y="0" font-size="4.55" fill="#111" text-anchor="middle" font-weight="bold" font-family="Liberation Sans, Arial, sans-serif" stroke="#111" stroke-width="0.14" transform="translate(450.60 559.00) scale(1 1.1)">apoptosis</text>
<text x="0" y="0" font-size="6.0" fill="#45a067" text-anchor="middle" font-weight="bold" font-family="Liberation Sans, Arial, sans-serif" stroke="#45a067" stroke-width="0.14" transform="translate(255.50 632.60) scale(1 0.95)">PI3K-Akt signaling</text>
<text x="0" y="0" font-size="6.0" fill="#45a067" text-anchor="middle" font-weight="bold" font-family="Liberation Sans, Arial, sans-serif" stroke="#45a067" stroke-width="0.14" transform="translate(255.80 640.00) scale(1 0.95)">pathway</text>
<text x="0" y="0" font-size="6.0" fill="#45a067" text-anchor="middle" font-weight="bold" font-family="Liberation Sans, Arial, sans-serif" stroke="#45a067" stroke-width="0.14" transform="translate(313.10 614.70) scale(1 0.95)">Calcium signaling</text>
<text x="0" y="0" font-size="6.0" fill="#45a067" text-anchor="middle" font-weight="bold" font-family="Liberation Sans, Arial, sans-serif" stroke="#45a067" stroke-width="0.14" transform="translate(313.10 621.90) scale(1 0.95)">pathway</text>
<text x="0" y="0" font-size="4.45" fill="#111" text-anchor="middle" font-weight="bold" font-family="Liberation Sans, Arial, sans-serif" stroke="#111" stroke-width="0.14" transform="translate(277.70 623.50) scale(1 1.1)">Antiapoptosis</text>
<text x="0" y="0" font-size="4.5" fill="#111" text-anchor="middle" font-weight="bold" font-family="Liberation Sans, Arial, sans-serif" stroke="#111" stroke-width="0.14" transform="translate(225.80 652.60) scale(1 1.1)">Cell survival</text>
<text x="0" y="0" font-size="4.5" fill="#111" text-anchor="middle" font-weight="bold" font-family="Liberation Sans, Arial, sans-serif" stroke="#111" stroke-width="0.14" transform="translate(323.20 655.30) scale(1 1.1)">DNA Damage</text>
<text x="0" y="0" font-size="6.0" fill="#45a067" text-anchor="middle" font-weight="bold" font-family="Liberation Sans, Arial, sans-serif" stroke="#45a067" stroke-width="0.14" transform="translate(268.60 687.70) scale(1 0.95)">p53 Signaling</text>
<text x="0" y="0" font-size="6.0" fill="#45a067" text-anchor="middle" font-weight="bold" font-family="Liberation Sans, Arial, sans-serif" stroke="#45a067" stroke-width="0.14" transform="translate(268.80 694.40) scale(1 0.95)">pathway</text>
<text x="0" y="0" font-size="6.0" fill="#45a067" text-anchor="middle" font-weight="bold" font-family="Liberation Sans, Arial, sans-serif" stroke="#45a067" stroke-width="0.14" transform="translate(270.70 705.00) scale(1 0.95)">Cell cycle</text>
<text x="0" y="0" font-size="6.0" fill="#45a067" text-anchor="middle" font-weight="bold" font-family="Liberation Sans, Arial, sans-serif" stroke="#45a067" stroke-width="0.14" transform="translate(412.30 704.60) scale(1 0.95)">Cell cycle</text>
<text x="0" y="0" font-size="4.6" fill="#111" text-anchor="middle" font-weight="bold" font-family="Liberation Sans, Arial, sans-serif" stroke="#111" stroke-width="0.14" transform="translate(378.60 728.00) scale(1 1.1)">G<tspan font-size="3.4" dy="0.8">1</tspan><tspan dy="-0.8">–S progression</tspan></text>
<text x="0" y="0" font-size="4.6" fill="#111" text-anchor="middle" font-weight="bold" font-family="Liberation Sans, Arial, sans-serif" stroke="#111" stroke-width="0.14" transform="translate(447.90 710.10) scale(1 1.1)">Tumor progression</text>
</svg></body></html>
